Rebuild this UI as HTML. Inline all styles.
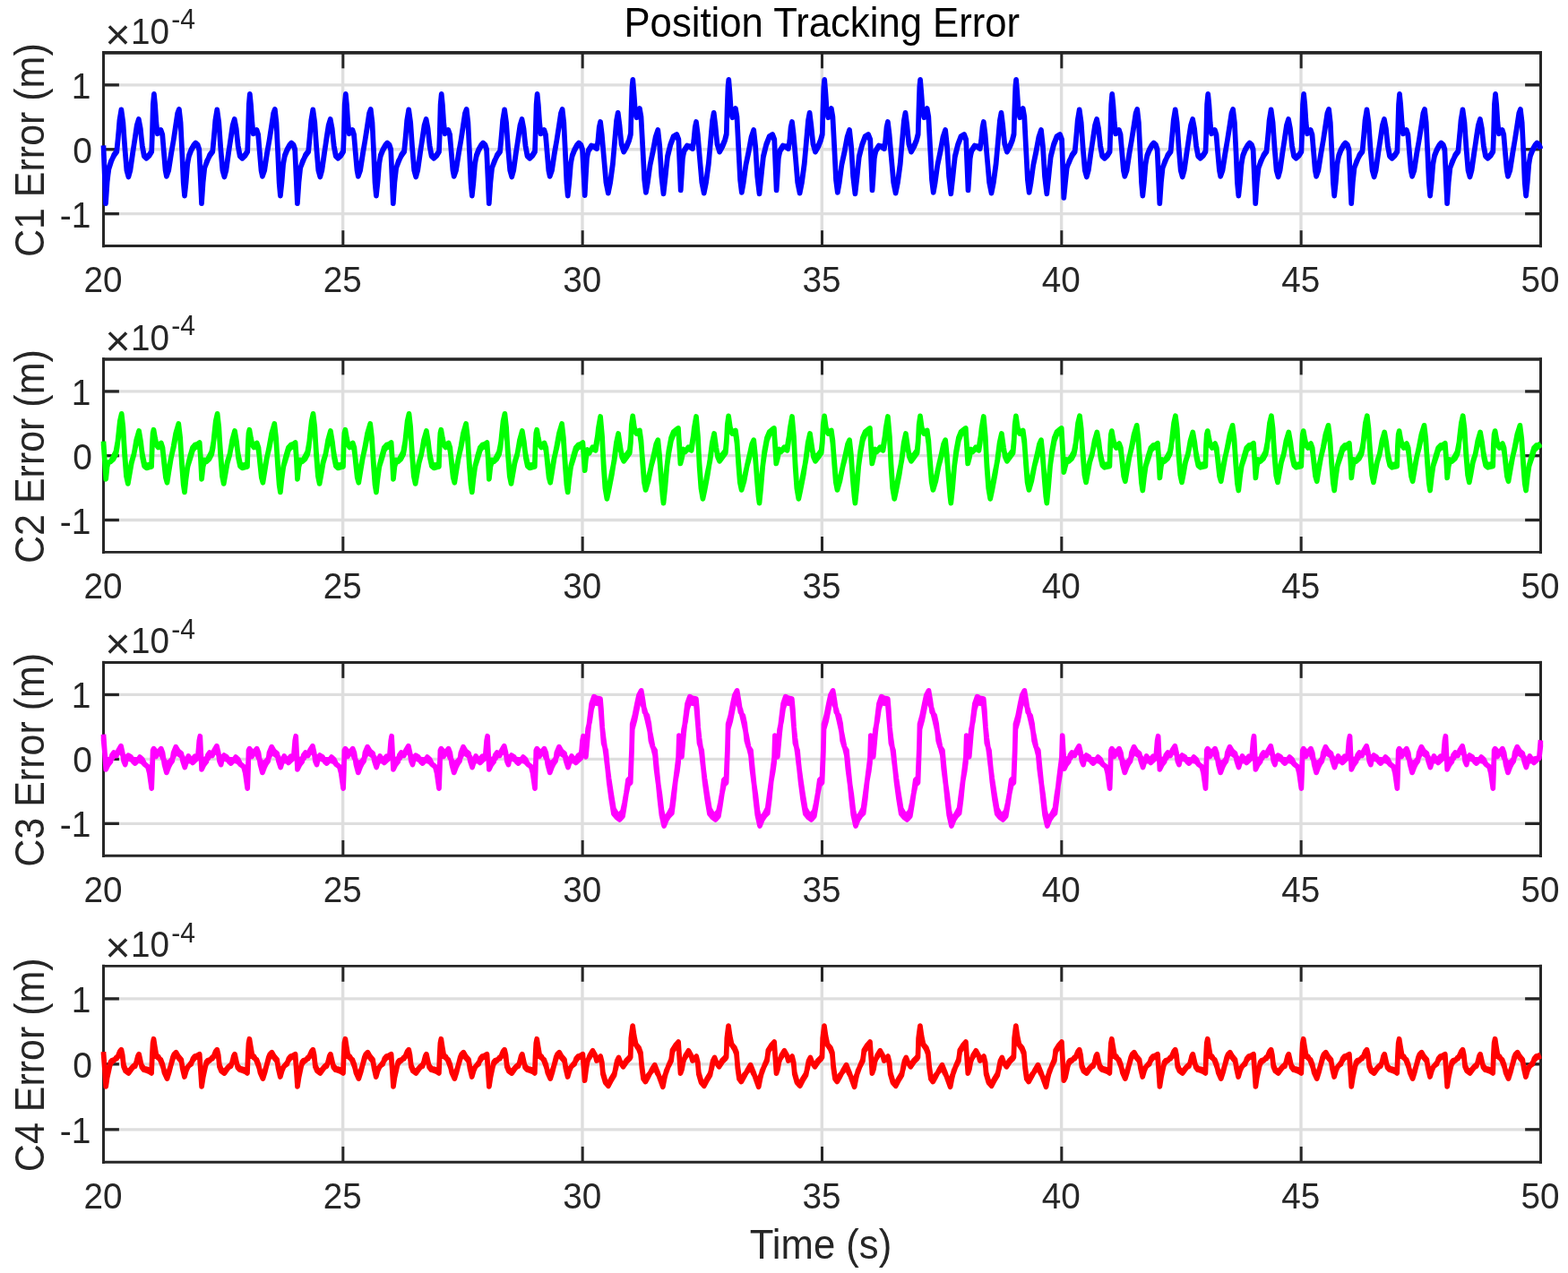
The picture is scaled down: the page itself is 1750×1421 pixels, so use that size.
<!DOCTYPE html>
<html><head><meta charset="utf-8"><title>Position Tracking Error</title>
<style>html,body{margin:0;padding:0;background:#fff}svg{display:block}text{font-family:"Liberation Sans",sans-serif;fill:#262626}</style></head><body>
<svg width="1750" height="1421" viewBox="0 0 1750 1421">
<rect width="1750" height="1421" fill="#fff"/>
<g>
<line x1="382.63" y1="58.90" x2="382.63" y2="274.60" stroke="#dedede" stroke-width="3.40"/>
<line x1="649.97" y1="58.90" x2="649.97" y2="274.60" stroke="#dedede" stroke-width="3.40"/>
<line x1="917.30" y1="58.90" x2="917.30" y2="274.60" stroke="#dedede" stroke-width="3.40"/>
<line x1="1184.63" y1="58.90" x2="1184.63" y2="274.60" stroke="#dedede" stroke-width="3.40"/>
<line x1="1451.97" y1="58.90" x2="1451.97" y2="274.60" stroke="#dedede" stroke-width="3.40"/>
<line x1="115.50" y1="94.85" x2="1719.50" y2="94.85" stroke="#dedede" stroke-width="3.30"/>
<line x1="115.50" y1="166.75" x2="1719.50" y2="166.75" stroke="#dedede" stroke-width="3.30"/>
<line x1="115.50" y1="238.65" x2="1719.50" y2="238.65" stroke="#dedede" stroke-width="3.30"/>
<line x1="382.83" y1="274.60" x2="382.83" y2="257.20" stroke="#262626" stroke-width="3.00"/>
<line x1="382.83" y1="58.90" x2="382.83" y2="76.30" stroke="#262626" stroke-width="3.00"/>
<line x1="650.17" y1="274.60" x2="650.17" y2="257.20" stroke="#262626" stroke-width="3.00"/>
<line x1="650.17" y1="58.90" x2="650.17" y2="76.30" stroke="#262626" stroke-width="3.00"/>
<line x1="917.50" y1="274.60" x2="917.50" y2="257.20" stroke="#262626" stroke-width="3.00"/>
<line x1="917.50" y1="58.90" x2="917.50" y2="76.30" stroke="#262626" stroke-width="3.00"/>
<line x1="1184.83" y1="274.60" x2="1184.83" y2="257.20" stroke="#262626" stroke-width="3.00"/>
<line x1="1184.83" y1="58.90" x2="1184.83" y2="76.30" stroke="#262626" stroke-width="3.00"/>
<line x1="1452.17" y1="274.60" x2="1452.17" y2="257.20" stroke="#262626" stroke-width="3.00"/>
<line x1="1452.17" y1="58.90" x2="1452.17" y2="76.30" stroke="#262626" stroke-width="3.00"/>
<line x1="115.50" y1="94.85" x2="132.90" y2="94.85" stroke="#262626" stroke-width="3.30"/>
<line x1="1719.50" y1="94.85" x2="1702.10" y2="94.85" stroke="#262626" stroke-width="3.30"/>
<line x1="115.50" y1="166.75" x2="132.90" y2="166.75" stroke="#262626" stroke-width="3.30"/>
<line x1="1719.50" y1="166.75" x2="1702.10" y2="166.75" stroke="#262626" stroke-width="3.30"/>
<line x1="115.50" y1="238.65" x2="132.90" y2="238.65" stroke="#262626" stroke-width="3.30"/>
<line x1="1719.50" y1="238.65" x2="1702.10" y2="238.65" stroke="#262626" stroke-width="3.30"/>
<line x1="114.00" y1="58.90" x2="1721.00" y2="58.90" stroke="#262626" stroke-width="3.80"/>
<line x1="114.00" y1="274.60" x2="1721.00" y2="274.60" stroke="#262626" stroke-width="3.00"/>
<line x1="115.50" y1="57.25" x2="115.50" y2="276.25" stroke="#262626" stroke-width="3.00"/>
<line x1="1719.50" y1="57.25" x2="1719.50" y2="276.25" stroke="#262626" stroke-width="3.00"/>
<path d="M115.5 162.3 L118.0 227.2 L119.6 203.7 L121.4 187.7 L124.0 179.6 L127.4 173.6 L130.3 169.6 L131.7 155.6 L133.4 134.2 L135.4 122.3 L137.4 136.9 L139.4 166.3 L141.4 190.3 L143.4 197.5 L145.4 190.3 L148.1 171.6 L150.8 152.9 L152.8 139.5 L154.8 133.0 L156.8 143.5 L158.8 163.6 L160.8 174.3 L163.5 176.8 L166.8 173.6 L169.2 169.6 L169.9 150.2 L170.8 116.8 L171.9 104.9 L173.1 116.8 L174.4 136.9 L175.8 149.4 L177.5 147.6 L179.5 145.0 L181.3 150.2 L182.9 170.3 L184.6 190.3 L185.9 196.9 L188.2 190.3 L190.9 173.0 L193.6 156.9 L196.2 139.5 L198.2 126.2 L199.9 121.9 L201.6 136.9 L203.2 170.3 L204.7 203.7 L206.0 218.6 L207.6 203.7 L209.2 183.7 L211.0 173.0 L213.6 166.3 L216.3 161.6 L218.3 159.4 L220.7 161.6 L222.3 166.3 L225.0 227.2 L226.6 203.7 L228.3 187.7 L231.0 179.6 L234.3 173.6 L237.3 169.6 L238.6 155.6 L240.3 134.2 L242.3 122.3 L244.3 136.9 L246.3 166.3 L248.4 190.3 L250.4 197.5 L252.4 190.3 L255.0 171.6 L257.7 152.9 L259.7 139.5 L261.7 133.0 L263.7 143.5 L265.7 163.6 L267.7 174.3 L270.4 176.8 L273.8 173.6 L276.2 169.6 L276.8 150.2 L277.8 116.8 L278.8 104.9 L280.0 116.8 L281.4 136.9 L282.7 149.4 L284.5 147.6 L286.5 145.0 L288.2 150.2 L289.8 170.3 L291.5 190.3 L292.9 196.9 L295.2 190.3 L297.8 173.0 L300.5 156.9 L303.2 139.5 L305.2 126.2 L306.8 121.9 L308.5 136.9 L310.1 170.3 L311.6 203.7 L312.9 218.6 L314.5 203.7 L316.1 183.7 L317.9 173.0 L320.6 166.3 L323.2 161.6 L325.2 159.4 L327.6 161.6 L329.2 166.3 L331.9 227.2 L333.5 203.7 L335.2 187.7 L337.9 179.6 L341.2 173.6 L344.2 169.6 L345.5 155.6 L347.3 134.2 L349.3 122.3 L351.3 136.9 L353.3 166.3 L355.3 190.3 L357.3 197.5 L359.3 190.3 L362.0 171.6 L364.6 152.9 L366.7 139.5 L368.7 133.0 L370.7 143.5 L372.7 163.6 L374.7 174.3 L377.4 176.8 L380.7 173.6 L383.1 169.6 L383.8 150.2 L384.7 116.8 L385.8 104.9 L387.0 116.8 L388.3 136.9 L389.7 149.4 L391.4 147.6 L393.4 145.0 L395.1 150.2 L396.7 170.3 L398.5 190.3 L399.8 196.9 L402.1 190.3 L404.8 173.0 L407.4 156.9 L410.1 139.5 L412.1 126.2 L413.7 121.9 L415.5 136.9 L417.1 170.3 L418.5 203.7 L419.9 218.6 L421.5 203.7 L423.1 183.7 L424.8 173.0 L427.5 166.3 L430.2 161.6 L432.2 159.4 L434.6 161.6 L436.2 166.3 L438.8 227.2 L440.4 203.7 L442.2 187.7 L444.8 179.6 L448.2 173.6 L451.1 169.6 L452.5 155.6 L454.2 134.2 L456.2 122.3 L458.2 136.9 L460.2 166.3 L462.2 190.3 L464.2 197.5 L466.2 190.3 L468.9 171.6 L471.6 152.9 L473.6 139.5 L475.6 133.0 L477.6 143.5 L479.6 163.6 L481.6 174.3 L484.3 176.8 L487.6 173.6 L490.0 169.6 L490.7 150.2 L491.6 116.8 L492.7 104.9 L493.9 116.8 L495.2 136.9 L496.6 149.4 L498.3 147.6 L500.3 145.0 L502.1 150.2 L503.7 170.3 L505.4 190.3 L506.7 196.9 L509.0 190.3 L511.7 173.0 L514.4 156.9 L517.0 139.5 L519.0 126.2 L520.7 121.9 L522.4 136.9 L524.0 170.3 L525.5 203.7 L526.8 218.6 L528.4 203.7 L530.0 183.7 L531.8 173.0 L534.4 166.3 L537.1 161.6 L539.1 159.4 L541.5 161.6 L543.1 166.3 L545.8 227.2 L547.4 203.7 L549.1 187.7 L551.8 179.6 L555.1 173.6 L558.1 169.6 L559.4 155.6 L561.1 134.2 L563.1 122.3 L565.1 136.9 L567.1 166.3 L569.2 190.3 L571.2 197.5 L573.2 190.3 L575.8 171.6 L578.5 152.9 L580.5 139.5 L582.5 133.0 L584.5 143.5 L586.5 163.6 L588.5 174.3 L591.2 176.8 L594.6 173.6 L597.0 169.6 L597.6 150.2 L598.6 116.8 L599.6 104.9 L600.8 116.8 L602.2 136.9 L603.5 149.4 L605.3 147.6 L607.3 145.0 L609.0 150.2 L610.6 170.3 L612.3 190.3 L613.7 196.9 L616.0 190.3 L618.6 173.0 L621.3 156.9 L624.0 139.5 L626.0 126.2 L627.6 121.9 L629.3 136.9 L630.9 170.3 L632.4 203.7 L633.7 218.6 L635.3 203.7 L636.9 183.7 L638.7 173.0 L641.4 166.3 L644.0 161.6 L646.0 159.4 L648.4 161.6 L650.0 166.3 L652.7 218.2 L653.8 197.0 L655.0 177.0 L656.7 167.6 L660.1 162.4 L663.4 164.3 L666.1 166.1 L667.4 156.9 L668.7 142.2 L670.1 136.0 L671.8 150.2 L674.1 177.0 L676.4 203.7 L678.8 215.6 L681.2 203.7 L683.9 183.7 L686.1 156.9 L688.1 134.2 L689.7 125.9 L691.5 139.5 L693.5 160.9 L696.2 169.7 L699.5 163.6 L702.2 156.9 L703.9 150.2 L704.6 123.5 L705.5 96.7 L706.3 88.9 L707.5 103.4 L708.9 123.5 L710.5 131.3 L712.2 123.5 L713.9 121.0 L715.5 130.2 L717.3 163.6 L719.2 201.0 L720.9 214.9 L722.9 203.7 L725.6 183.7 L728.9 167.6 L731.6 152.9 L734.3 145.0 L736.3 163.6 L738.3 197.0 L740.5 216.5 L742.7 197.0 L745.0 174.3 L748.3 160.9 L751.6 152.2 L755.3 150.0 L757.4 155.6 L759.7 212.5 L760.7 197.0 L761.9 177.0 L763.6 167.6 L767.0 162.4 L770.3 164.3 L773.0 166.1 L774.3 156.9 L775.7 142.2 L777.0 136.0 L778.8 150.2 L781.0 177.0 L783.3 203.7 L785.7 215.6 L788.1 203.7 L790.8 183.7 L793.1 156.9 L795.1 134.2 L796.7 125.9 L798.4 139.5 L800.4 160.9 L803.1 169.7 L806.4 163.6 L809.1 156.9 L810.8 150.2 L811.5 123.5 L812.5 96.7 L813.3 88.9 L814.5 103.4 L815.8 123.5 L817.4 131.3 L819.1 123.5 L820.9 121.0 L822.5 130.2 L824.2 163.6 L826.1 201.0 L827.8 214.9 L829.8 203.7 L832.5 183.7 L835.8 167.6 L838.5 152.9 L841.2 145.0 L843.2 163.6 L845.2 197.0 L847.5 216.5 L849.6 197.0 L851.9 174.3 L855.2 160.9 L858.6 152.2 L862.2 150.0 L864.3 155.6 L866.6 212.5 L867.6 197.0 L868.8 177.0 L870.6 167.6 L873.9 162.4 L877.3 164.3 L879.9 166.1 L881.3 156.9 L882.6 142.2 L884.0 136.0 L885.7 150.2 L888.0 177.0 L890.2 203.7 L892.6 215.6 L895.0 203.7 L897.7 183.7 L900.0 156.9 L902.0 134.2 L903.6 125.9 L905.3 139.5 L907.4 160.9 L910.0 169.7 L913.4 163.6 L916.0 156.9 L917.8 150.2 L918.4 123.5 L919.4 96.7 L920.2 88.9 L921.4 103.4 L922.7 123.5 L924.3 131.3 L926.1 123.5 L927.8 121.0 L929.4 130.2 L931.2 163.6 L933.0 201.0 L934.8 214.9 L936.8 203.7 L939.4 183.7 L942.8 167.6 L945.5 152.9 L948.1 145.0 L950.1 163.6 L952.1 197.0 L954.4 216.5 L956.6 197.0 L958.8 174.3 L962.2 160.9 L965.5 152.2 L969.1 150.0 L971.3 155.6 L973.5 212.5 L974.6 197.0 L975.8 177.0 L977.5 167.6 L980.9 162.4 L984.2 164.3 L986.9 166.1 L988.2 156.9 L989.5 142.2 L990.9 136.0 L992.6 150.2 L994.9 177.0 L997.2 203.7 L999.6 215.6 L1002.0 203.7 L1004.7 183.7 L1006.9 156.9 L1008.9 134.2 L1010.5 125.9 L1012.3 139.5 L1014.3 160.9 L1017.0 169.7 L1020.3 163.6 L1023.0 156.9 L1024.7 150.2 L1025.4 123.5 L1026.3 96.7 L1027.1 88.9 L1028.3 103.4 L1029.7 123.5 L1031.3 131.3 L1033.0 123.5 L1034.7 121.0 L1036.3 130.2 L1038.1 163.6 L1040.0 201.0 L1041.7 214.9 L1043.7 203.7 L1046.4 183.7 L1049.7 167.6 L1052.4 152.9 L1055.1 145.0 L1057.1 163.6 L1059.1 197.0 L1061.3 216.5 L1063.5 197.0 L1065.8 174.3 L1069.1 160.9 L1072.4 152.2 L1076.1 150.0 L1078.2 155.6 L1080.5 212.5 L1081.5 197.0 L1082.7 177.0 L1084.4 167.6 L1087.8 162.4 L1091.1 164.3 L1093.8 166.1 L1095.1 156.9 L1096.5 142.2 L1097.8 136.0 L1099.6 150.2 L1101.8 177.0 L1104.1 203.7 L1106.5 215.6 L1108.9 203.7 L1111.6 183.7 L1113.9 156.9 L1115.9 134.2 L1117.5 125.9 L1119.2 139.5 L1121.2 160.9 L1123.9 169.7 L1127.2 163.6 L1129.9 156.9 L1131.6 150.2 L1132.3 123.5 L1133.3 96.7 L1134.1 88.9 L1135.3 103.4 L1136.6 123.5 L1138.2 131.3 L1139.9 123.5 L1141.7 121.0 L1143.3 130.2 L1145.0 163.6 L1146.9 201.0 L1148.6 214.9 L1150.6 203.7 L1153.3 183.7 L1156.6 167.6 L1159.3 152.9 L1162.0 145.0 L1164.0 163.6 L1166.0 197.0 L1168.3 216.5 L1170.4 197.0 L1172.7 174.3 L1176.0 160.9 L1179.4 152.2 L1183.0 150.0 L1185.1 155.6 L1187.3 220.9 L1189.0 203.7 L1190.7 187.7 L1193.4 179.6 L1196.7 173.6 L1199.7 169.6 L1201.0 155.6 L1202.7 134.2 L1204.7 122.3 L1206.7 136.9 L1208.7 166.3 L1210.8 190.3 L1212.8 197.5 L1214.8 190.3 L1217.4 171.6 L1220.1 152.9 L1222.1 139.5 L1224.1 133.0 L1226.1 143.5 L1228.1 163.6 L1230.1 174.3 L1232.8 176.8 L1236.2 173.6 L1238.6 169.6 L1239.2 150.2 L1240.2 116.8 L1241.2 104.9 L1242.4 116.8 L1243.8 136.9 L1245.1 149.4 L1246.9 147.6 L1248.9 145.0 L1250.6 150.2 L1252.2 170.3 L1253.9 190.3 L1255.3 196.9 L1257.6 190.3 L1260.2 173.0 L1262.9 156.9 L1265.6 139.5 L1267.6 126.2 L1269.2 121.9 L1270.9 136.9 L1272.5 170.3 L1274.0 203.7 L1275.3 218.6 L1276.9 203.7 L1278.5 183.7 L1280.3 173.0 L1283.0 166.3 L1285.6 161.6 L1287.6 159.4 L1290.0 161.6 L1291.6 166.3 L1294.3 227.2 L1295.9 203.7 L1297.6 187.7 L1300.3 179.6 L1303.6 173.6 L1306.6 169.6 L1307.9 155.6 L1309.7 134.2 L1311.7 122.3 L1313.7 136.9 L1315.7 166.3 L1317.7 190.3 L1319.7 197.5 L1321.7 190.3 L1324.4 171.6 L1327.0 152.9 L1329.1 139.5 L1331.1 133.0 L1333.1 143.5 L1335.1 163.6 L1337.1 174.3 L1339.8 176.8 L1343.1 173.6 L1345.5 169.6 L1346.2 150.2 L1347.1 116.8 L1348.2 104.9 L1349.4 116.8 L1350.7 136.9 L1352.1 149.4 L1353.8 147.6 L1355.8 145.0 L1357.5 150.2 L1359.1 170.3 L1360.9 190.3 L1362.2 196.9 L1364.5 190.3 L1367.2 173.0 L1369.8 156.9 L1372.5 139.5 L1374.5 126.2 L1376.1 121.9 L1377.9 136.9 L1379.5 170.3 L1380.9 203.7 L1382.3 218.6 L1383.9 203.7 L1385.5 183.7 L1387.2 173.0 L1389.9 166.3 L1392.6 161.6 L1394.6 159.4 L1397.0 161.6 L1398.6 166.3 L1401.2 227.2 L1402.8 203.7 L1404.6 187.7 L1407.2 179.6 L1410.6 173.6 L1413.5 169.6 L1414.9 155.6 L1416.6 134.2 L1418.6 122.3 L1420.6 136.9 L1422.6 166.3 L1424.6 190.3 L1426.6 197.5 L1428.6 190.3 L1431.3 171.6 L1434.0 152.9 L1436.0 139.5 L1438.0 133.0 L1440.0 143.5 L1442.0 163.6 L1444.0 174.3 L1446.7 176.8 L1450.0 173.6 L1452.4 169.6 L1453.1 150.2 L1454.0 116.8 L1455.1 104.9 L1456.3 116.8 L1457.6 136.9 L1459.0 149.4 L1460.7 147.6 L1462.7 145.0 L1464.5 150.2 L1466.1 170.3 L1467.8 190.3 L1469.1 196.9 L1471.4 190.3 L1474.1 173.0 L1476.8 156.9 L1479.4 139.5 L1481.4 126.2 L1483.1 121.9 L1484.8 136.9 L1486.4 170.3 L1487.9 203.7 L1489.2 218.6 L1490.8 203.7 L1492.4 183.7 L1494.2 173.0 L1496.8 166.3 L1499.5 161.6 L1501.5 159.4 L1503.9 161.6 L1505.5 166.3 L1508.2 227.2 L1509.8 203.7 L1511.5 187.7 L1514.2 179.6 L1517.5 173.6 L1520.5 169.6 L1521.8 155.6 L1523.5 134.2 L1525.5 122.3 L1527.5 136.9 L1529.5 166.3 L1531.6 190.3 L1533.6 197.5 L1535.6 190.3 L1538.2 171.6 L1540.9 152.9 L1542.9 139.5 L1544.9 133.0 L1546.9 143.5 L1548.9 163.6 L1550.9 174.3 L1553.6 176.8 L1557.0 173.6 L1559.4 169.6 L1560.0 150.2 L1561.0 116.8 L1562.0 104.9 L1563.2 116.8 L1564.6 136.9 L1565.9 149.4 L1567.7 147.6 L1569.7 145.0 L1571.4 150.2 L1573.0 170.3 L1574.7 190.3 L1576.1 196.9 L1578.4 190.3 L1581.0 173.0 L1583.7 156.9 L1586.4 139.5 L1588.4 126.2 L1590.0 121.9 L1591.7 136.9 L1593.3 170.3 L1594.8 203.7 L1596.1 218.6 L1597.7 203.7 L1599.3 183.7 L1601.1 173.0 L1603.8 166.3 L1606.4 161.6 L1608.4 159.4 L1610.8 161.6 L1612.4 166.3 L1615.1 227.2 L1616.7 203.7 L1618.4 187.7 L1621.1 179.6 L1624.4 173.6 L1627.4 169.6 L1628.7 155.6 L1630.5 134.2 L1632.5 122.3 L1634.5 136.9 L1636.5 166.3 L1638.5 190.3 L1640.5 197.5 L1642.5 190.3 L1645.2 171.6 L1647.8 152.9 L1649.9 139.5 L1651.9 133.0 L1653.9 143.5 L1655.9 163.6 L1657.9 174.3 L1660.6 176.8 L1663.9 173.6 L1666.3 169.6 L1667.0 150.2 L1667.9 116.8 L1669.0 104.9 L1670.2 116.8 L1671.5 136.9 L1672.9 149.4 L1674.6 147.6 L1676.6 145.0 L1678.3 150.2 L1679.9 170.3 L1681.7 190.3 L1683.0 196.9 L1685.3 190.3 L1688.0 173.0 L1690.6 156.9 L1693.3 139.5 L1695.3 126.2 L1696.9 121.9 L1698.7 136.9 L1700.3 170.3 L1701.7 203.7 L1703.1 218.6 L1704.7 203.7 L1706.3 183.7 L1708.0 173.0 L1710.7 166.3 L1713.4 161.6 L1715.4 159.4 L1717.8 161.6 L1719.4 166.3 M115.5 162.9 L118.0 226.6 L119.6 203.1 L121.4 188.2 L124.0 180.2 L127.4 173.0 L130.3 169.0 L131.7 155.0 L133.4 134.8 L135.4 122.9 L137.4 137.5 L139.4 165.7 L141.4 189.7 L143.4 196.9 L145.4 189.7 L148.1 171.0 L150.8 153.5 L152.8 140.1 L154.8 133.6 L156.8 144.1 L158.8 163.0 L160.8 173.7 L163.5 176.2 L166.8 173.0 L169.2 169.0 L169.9 150.6 L170.8 117.4 L171.9 105.5 L173.1 117.4 L174.4 137.5 L175.8 148.8 L177.5 147.0 L179.5 145.6 L181.3 150.8 L182.9 169.8 L184.6 189.7 L185.9 196.3 L188.2 189.7 L190.9 172.4 L193.6 156.9 L196.2 140.1 L198.2 126.8 L199.9 122.5 L201.6 137.5 L203.2 169.7 L204.7 203.1 L206.0 218.0 L207.6 203.1 L209.2 183.1 L211.0 173.6 L213.6 166.9 L216.3 162.2 L218.3 160.0 L220.7 162.2 L222.3 166.9 L225.0 226.6 L226.6 203.1 L228.3 187.6 L231.0 180.2 L234.3 173.0 L237.3 169.0 L238.6 155.0 L240.3 134.8 L242.3 122.9 L244.3 137.5 L246.3 165.7 L248.4 189.7 L250.4 196.9 L252.4 189.7 L255.0 171.0 L257.7 153.5 L259.7 140.1 L261.7 133.6 L263.7 144.1 L265.7 163.0 L267.7 173.7 L270.4 176.2 L273.8 173.0 L276.2 169.0 L276.8 150.6 L277.8 117.4 L278.8 105.5 L280.0 117.4 L281.4 137.5 L282.7 148.8 L284.5 147.0 L286.5 145.6 L288.2 150.8 L289.8 169.8 L291.5 189.7 L292.9 196.3 L295.2 189.7 L297.8 172.4 L300.5 156.9 L303.2 140.1 L305.2 126.8 L306.8 122.5 L308.5 137.5 L310.1 169.7 L311.6 203.1 L312.9 218.0 L314.5 203.1 L316.1 183.1 L317.9 173.6 L320.6 166.9 L323.2 162.2 L325.2 160.0 L327.6 162.2 L329.2 166.9 L331.9 226.6 L333.5 203.1 L335.2 187.6 L337.9 180.2 L341.2 173.0 L344.2 169.0 L345.5 155.0 L347.3 134.8 L349.3 122.9 L351.3 137.5 L353.3 165.7 L355.3 189.7 L357.3 196.9 L359.3 189.7 L362.0 171.0 L364.6 153.5 L366.7 140.1 L368.7 133.6 L370.7 144.1 L372.7 163.0 L374.7 173.7 L377.4 176.2 L380.7 173.0 L383.1 169.0 L383.8 150.6 L384.7 117.4 L385.8 105.5 L387.0 117.4 L388.3 137.5 L389.7 148.8 L391.4 147.0 L393.4 145.6 L395.1 150.8 L396.7 169.8 L398.5 189.7 L399.8 196.3 L402.1 189.7 L404.8 172.4 L407.4 156.9 L410.1 140.1 L412.1 126.8 L413.7 122.5 L415.5 137.5 L417.1 169.7 L418.5 203.1 L419.9 218.0 L421.5 203.1 L423.1 183.1 L424.8 173.6 L427.5 166.9 L430.2 162.2 L432.2 160.0 L434.6 162.2 L436.2 166.9 L438.8 226.6 L440.4 203.1 L442.2 187.6 L444.8 180.2 L448.2 173.0 L451.1 169.0 L452.5 155.0 L454.2 134.8 L456.2 122.9 L458.2 137.5 L460.2 165.7 L462.2 189.7 L464.2 196.9 L466.2 189.7 L468.9 171.0 L471.6 153.5 L473.6 140.1 L475.6 133.6 L477.6 144.1 L479.6 163.0 L481.6 173.7 L484.3 176.2 L487.6 173.0 L490.0 169.0 L490.7 150.6 L491.6 117.4 L492.7 105.5 L493.9 117.4 L495.2 137.5 L496.6 148.8 L498.3 147.0 L500.3 145.6 L502.1 150.8 L503.7 169.8 L505.4 189.7 L506.7 196.3 L509.0 189.7 L511.7 172.4 L514.4 156.9 L517.0 140.1 L519.0 126.8 L520.7 122.5 L522.4 137.5 L524.0 169.7 L525.5 203.1 L526.8 218.0 L528.4 203.1 L530.0 183.1 L531.8 173.6 L534.4 166.9 L537.1 162.2 L539.1 160.0 L541.5 162.2 L543.1 166.9 L545.8 226.6 L547.4 203.1 L549.1 187.6 L551.8 180.2 L555.1 173.0 L558.1 169.0 L559.4 155.0 L561.1 134.8 L563.1 122.9 L565.1 137.5 L567.1 165.7 L569.2 189.7 L571.2 196.9 L573.2 189.7 L575.8 171.0 L578.5 153.5 L580.5 140.1 L582.5 133.6 L584.5 144.1 L586.5 163.0 L588.5 173.7 L591.2 176.2 L594.6 173.0 L597.0 169.0 L597.6 150.6 L598.6 117.4 L599.6 105.5 L600.8 117.4 L602.2 137.5 L603.5 148.8 L605.3 147.0 L607.3 145.6 L609.0 150.8 L610.6 169.8 L612.3 189.7 L613.7 196.3 L616.0 189.7 L618.6 172.4 L621.3 156.9 L624.0 140.1 L626.0 126.8 L627.6 122.5 L629.3 137.5 L630.9 169.7 L632.4 203.1 L633.7 218.0 L635.3 203.1 L636.9 183.1 L638.7 173.6 L641.4 166.9 L644.0 162.2 L646.0 160.0 L648.4 162.2 L650.0 166.9 L652.7 217.6 L653.8 196.4 L655.0 176.4 L656.7 168.2 L660.1 163.0 L663.4 163.7 L666.1 165.5 L667.4 157.3 L668.7 142.8 L670.1 136.6 L671.8 150.8 L674.1 177.1 L676.4 203.1 L678.8 215.0 L681.2 203.1 L683.9 183.1 L686.1 157.5 L688.1 134.8 L689.7 126.5 L691.5 140.1 L693.5 160.3 L696.2 169.1 L699.5 163.0 L702.2 156.3 L703.9 149.6 L704.6 124.1 L705.5 97.3 L706.3 89.5 L707.5 104.0 L708.9 123.7 L710.5 130.7 L712.2 124.1 L713.9 121.6 L715.5 130.8 L717.3 164.2 L719.2 200.4 L720.9 214.3 L722.9 203.1 L725.6 183.9 L728.9 168.2 L731.6 153.5 L734.3 145.6 L736.3 164.2 L738.3 196.4 L740.5 215.9 L742.7 196.4 L745.0 174.9 L748.3 161.5 L751.6 152.8 L755.3 150.6 L757.4 156.2 L759.7 211.9 L760.7 196.4 L761.9 176.4 L763.6 168.2 L767.0 163.0 L770.3 163.7 L773.0 165.5 L774.3 157.3 L775.7 142.8 L777.0 136.6 L778.8 150.8 L781.0 177.1 L783.3 203.1 L785.7 215.0 L788.1 203.1 L790.8 183.1 L793.1 157.5 L795.1 134.8 L796.7 126.5 L798.4 140.1 L800.4 160.3 L803.1 169.1 L806.4 163.0 L809.1 156.3 L810.8 149.6 L811.5 124.1 L812.5 97.3 L813.3 89.5 L814.5 104.0 L815.8 123.7 L817.4 130.7 L819.1 124.1 L820.9 121.6 L822.5 130.8 L824.2 164.2 L826.1 200.4 L827.8 214.3 L829.8 203.1 L832.5 183.9 L835.8 168.2 L838.5 153.5 L841.2 145.6 L843.2 164.2 L845.2 196.4 L847.5 215.9 L849.6 196.4 L851.9 174.9 L855.2 161.5 L858.6 152.8 L862.2 150.6 L864.3 156.2 L866.6 211.9 L867.6 196.4 L868.8 176.4 L870.6 168.2 L873.9 163.0 L877.3 163.7 L879.9 165.5 L881.3 157.3 L882.6 142.8 L884.0 136.6 L885.7 150.8 L888.0 177.1 L890.2 203.1 L892.6 215.0 L895.0 203.1 L897.7 183.1 L900.0 157.5 L902.0 134.8 L903.6 126.5 L905.3 140.1 L907.4 160.3 L910.0 169.1 L913.4 163.0 L916.0 156.3 L917.8 149.6 L918.4 124.1 L919.4 97.3 L920.2 89.5 L921.4 104.0 L922.7 123.7 L924.3 130.7 L926.1 124.1 L927.8 121.6 L929.4 130.8 L931.2 164.2 L933.0 200.4 L934.8 214.3 L936.8 203.1 L939.4 183.9 L942.8 168.2 L945.5 153.5 L948.1 145.6 L950.1 164.2 L952.1 196.4 L954.4 215.9 L956.6 196.4 L958.8 174.9 L962.2 161.5 L965.5 152.8 L969.1 150.6 L971.3 156.2 L973.5 211.9 L974.6 196.4 L975.8 176.4 L977.5 168.2 L980.9 163.0 L984.2 163.7 L986.9 165.5 L988.2 157.3 L989.5 142.8 L990.9 136.6 L992.6 150.8 L994.9 177.1 L997.2 203.1 L999.6 215.0 L1002.0 203.1 L1004.7 183.1 L1006.9 157.5 L1008.9 134.8 L1010.5 126.5 L1012.3 140.1 L1014.3 160.3 L1017.0 169.1 L1020.3 163.0 L1023.0 156.3 L1024.7 149.6 L1025.4 124.1 L1026.3 97.3 L1027.1 89.5 L1028.3 104.0 L1029.7 123.7 L1031.3 130.7 L1033.0 124.1 L1034.7 121.6 L1036.3 130.8 L1038.1 164.2 L1040.0 200.4 L1041.7 214.3 L1043.7 203.1 L1046.4 183.9 L1049.7 168.2 L1052.4 153.5 L1055.1 145.6 L1057.1 164.2 L1059.1 196.4 L1061.3 215.9 L1063.5 196.4 L1065.8 174.9 L1069.1 161.5 L1072.4 152.8 L1076.1 150.6 L1078.2 156.2 L1080.5 211.9 L1081.5 196.4 L1082.7 176.4 L1084.4 168.2 L1087.8 163.0 L1091.1 163.7 L1093.8 165.5 L1095.1 157.3 L1096.5 142.8 L1097.8 136.6 L1099.6 150.8 L1101.8 177.1 L1104.1 203.1 L1106.5 215.0 L1108.9 203.1 L1111.6 183.1 L1113.9 157.5 L1115.9 134.8 L1117.5 126.5 L1119.2 140.1 L1121.2 160.3 L1123.9 169.1 L1127.2 163.0 L1129.9 156.3 L1131.6 149.6 L1132.3 124.1 L1133.3 97.3 L1134.1 89.5 L1135.3 104.0 L1136.6 123.7 L1138.2 130.7 L1139.9 124.1 L1141.7 121.6 L1143.3 130.8 L1145.0 164.2 L1146.9 200.4 L1148.6 214.3 L1150.6 203.1 L1153.3 183.9 L1156.6 168.2 L1159.3 153.5 L1162.0 145.6 L1164.0 164.2 L1166.0 196.4 L1168.3 215.9 L1170.4 196.4 L1172.7 174.9 L1176.0 161.5 L1179.4 152.8 L1183.0 150.6 L1185.1 156.2 L1187.3 220.3 L1189.0 203.1 L1190.7 187.1 L1193.4 180.2 L1196.7 173.0 L1199.7 169.0 L1201.0 155.0 L1202.7 134.8 L1204.7 122.9 L1206.7 137.5 L1208.7 165.7 L1210.8 189.7 L1212.8 196.9 L1214.8 189.7 L1217.4 171.0 L1220.1 153.5 L1222.1 140.1 L1224.1 133.6 L1226.1 144.1 L1228.1 163.0 L1230.1 173.7 L1232.8 176.2 L1236.2 173.0 L1238.6 169.0 L1239.2 150.6 L1240.2 117.4 L1241.2 105.5 L1242.4 117.4 L1243.8 137.5 L1245.1 148.8 L1246.9 147.0 L1248.9 145.6 L1250.6 150.8 L1252.2 169.8 L1253.9 189.7 L1255.3 196.3 L1257.6 189.7 L1260.2 172.4 L1262.9 156.9 L1265.6 140.1 L1267.6 126.8 L1269.2 122.5 L1270.9 137.5 L1272.5 169.7 L1274.0 203.1 L1275.3 218.0 L1276.9 203.1 L1278.5 183.1 L1280.3 173.6 L1283.0 166.9 L1285.6 162.2 L1287.6 160.0 L1290.0 162.2 L1291.6 166.9 L1294.3 226.6 L1295.9 203.1 L1297.6 187.6 L1300.3 180.2 L1303.6 173.0 L1306.6 169.0 L1307.9 155.0 L1309.7 134.8 L1311.7 122.9 L1313.7 137.5 L1315.7 165.7 L1317.7 189.7 L1319.7 196.9 L1321.7 189.7 L1324.4 171.0 L1327.0 153.5 L1329.1 140.1 L1331.1 133.6 L1333.1 144.1 L1335.1 163.0 L1337.1 173.7 L1339.8 176.2 L1343.1 173.0 L1345.5 169.0 L1346.2 150.6 L1347.1 117.4 L1348.2 105.5 L1349.4 117.4 L1350.7 137.5 L1352.1 148.8 L1353.8 147.0 L1355.8 145.6 L1357.5 150.8 L1359.1 169.8 L1360.9 189.7 L1362.2 196.3 L1364.5 189.7 L1367.2 172.4 L1369.8 156.9 L1372.5 140.1 L1374.5 126.8 L1376.1 122.5 L1377.9 137.5 L1379.5 169.7 L1380.9 203.1 L1382.3 218.0 L1383.9 203.1 L1385.5 183.1 L1387.2 173.6 L1389.9 166.9 L1392.6 162.2 L1394.6 160.0 L1397.0 162.2 L1398.6 166.9 L1401.2 226.6 L1402.8 203.1 L1404.6 187.6 L1407.2 180.2 L1410.6 173.0 L1413.5 169.0 L1414.9 155.0 L1416.6 134.8 L1418.6 122.9 L1420.6 137.5 L1422.6 165.7 L1424.6 189.7 L1426.6 196.9 L1428.6 189.7 L1431.3 171.0 L1434.0 153.5 L1436.0 140.1 L1438.0 133.6 L1440.0 144.1 L1442.0 163.0 L1444.0 173.7 L1446.7 176.2 L1450.0 173.0 L1452.4 169.0 L1453.1 150.6 L1454.0 117.4 L1455.1 105.5 L1456.3 117.4 L1457.6 137.5 L1459.0 148.8 L1460.7 147.0 L1462.7 145.6 L1464.5 150.8 L1466.1 169.8 L1467.8 189.7 L1469.1 196.3 L1471.4 189.7 L1474.1 172.4 L1476.8 156.9 L1479.4 140.1 L1481.4 126.8 L1483.1 122.5 L1484.8 137.5 L1486.4 169.7 L1487.9 203.1 L1489.2 218.0 L1490.8 203.1 L1492.4 183.1 L1494.2 173.6 L1496.8 166.9 L1499.5 162.2 L1501.5 160.0 L1503.9 162.2 L1505.5 166.9 L1508.2 226.6 L1509.8 203.1 L1511.5 187.6 L1514.2 180.2 L1517.5 173.0 L1520.5 169.0 L1521.8 155.0 L1523.5 134.8 L1525.5 122.9 L1527.5 137.5 L1529.5 165.7 L1531.6 189.7 L1533.6 196.9 L1535.6 189.7 L1538.2 171.0 L1540.9 153.5 L1542.9 140.1 L1544.9 133.6 L1546.9 144.1 L1548.9 163.0 L1550.9 173.7 L1553.6 176.2 L1557.0 173.0 L1559.4 169.0 L1560.0 150.6 L1561.0 117.4 L1562.0 105.5 L1563.2 117.4 L1564.6 137.5 L1565.9 148.8 L1567.7 147.0 L1569.7 145.6 L1571.4 150.8 L1573.0 169.8 L1574.7 189.7 L1576.1 196.3 L1578.4 189.7 L1581.0 172.4 L1583.7 156.9 L1586.4 140.1 L1588.4 126.8 L1590.0 122.5 L1591.7 137.5 L1593.3 169.7 L1594.8 203.1 L1596.1 218.0 L1597.7 203.1 L1599.3 183.1 L1601.1 173.6 L1603.8 166.9 L1606.4 162.2 L1608.4 160.0 L1610.8 162.2 L1612.4 166.9 L1615.1 226.6 L1616.7 203.1 L1618.4 187.6 L1621.1 180.2 L1624.4 173.0 L1627.4 169.0 L1628.7 155.0 L1630.5 134.8 L1632.5 122.9 L1634.5 137.5 L1636.5 165.7 L1638.5 189.7 L1640.5 196.9 L1642.5 189.7 L1645.2 171.0 L1647.8 153.5 L1649.9 140.1 L1651.9 133.6 L1653.9 144.1 L1655.9 163.0 L1657.9 173.7 L1660.6 176.2 L1663.9 173.0 L1666.3 169.0 L1667.0 150.6 L1667.9 117.4 L1669.0 105.5 L1670.2 117.4 L1671.5 137.5 L1672.9 148.8 L1674.6 147.0 L1676.6 145.6 L1678.3 150.8 L1679.9 169.8 L1681.7 189.7 L1683.0 196.3 L1685.3 189.7 L1688.0 172.4 L1690.6 156.9 L1693.3 140.1 L1695.3 126.8 L1696.9 122.5 L1698.7 137.5 L1700.3 169.7 L1701.7 203.1 L1703.1 218.0 L1704.7 203.1 L1706.3 183.1 L1708.0 173.6 L1710.7 166.9 L1713.4 162.2 L1715.4 160.0 L1717.8 161.9 L1719.4 165.7 M115.5 163.5 L118.0 226.0 L119.6 202.5 L121.4 188.8 L124.0 180.8 L127.4 172.4 L130.3 168.4 L131.7 154.4 L133.4 135.4 L135.4 123.5 L137.4 138.1 L139.4 165.1 L141.4 189.1 L143.4 196.3 L145.4 189.1 L148.1 170.4 L150.8 154.1 L152.8 140.7 L154.8 134.2 L156.8 144.7 L158.8 162.4 L160.8 173.1 L163.5 175.6 L166.8 172.4 L169.2 168.4 L169.9 150.9 L170.8 118.0 L171.9 106.1 L173.1 118.0 L174.4 138.1 L175.8 148.2 L177.5 146.4 L179.5 146.2 L181.3 151.4 L182.9 169.3 L184.6 189.1 L185.9 195.7 L188.2 189.1 L190.9 171.8 L193.6 156.9 L196.2 140.7 L198.2 127.4 L199.9 123.1 L201.6 138.1 L203.2 169.1 L204.7 202.5 L206.0 217.4 L207.6 202.5 L209.2 182.5 L211.0 174.2 L213.6 167.5 L216.3 162.8 L218.3 160.6 L220.7 162.8 L222.3 167.5 L225.0 226.0 L226.6 202.5 L228.3 187.5 L231.0 180.8 L234.3 172.4 L237.3 168.4 L238.6 154.4 L240.3 135.4 L242.3 123.5 L244.3 138.1 L246.3 165.1 L248.4 189.1 L250.4 196.3 L252.4 189.1 L255.0 170.4 L257.7 154.1 L259.7 140.7 L261.7 134.2 L263.7 144.7 L265.7 162.4 L267.7 173.1 L270.4 175.6 L273.8 172.4 L276.2 168.4 L276.8 150.9 L277.8 118.0 L278.8 106.1 L280.0 118.0 L281.4 138.1 L282.7 148.2 L284.5 146.4 L286.5 146.2 L288.2 151.4 L289.8 169.3 L291.5 189.1 L292.9 195.7 L295.2 189.1 L297.8 171.8 L300.5 156.9 L303.2 140.7 L305.2 127.4 L306.8 123.1 L308.5 138.1 L310.1 169.1 L311.6 202.5 L312.9 217.4 L314.5 202.5 L316.1 182.5 L317.9 174.2 L320.6 167.5 L323.2 162.8 L325.2 160.6 L327.6 162.8 L329.2 167.5 L331.9 226.0 L333.5 202.5 L335.2 187.5 L337.9 180.8 L341.2 172.4 L344.2 168.4 L345.5 154.4 L347.3 135.4 L349.3 123.5 L351.3 138.1 L353.3 165.1 L355.3 189.1 L357.3 196.3 L359.3 189.1 L362.0 170.4 L364.6 154.1 L366.7 140.7 L368.7 134.2 L370.7 144.7 L372.7 162.4 L374.7 173.1 L377.4 175.6 L380.7 172.4 L383.1 168.4 L383.8 150.9 L384.7 118.0 L385.8 106.1 L387.0 118.0 L388.3 138.1 L389.7 148.2 L391.4 146.4 L393.4 146.2 L395.1 151.4 L396.7 169.3 L398.5 189.1 L399.8 195.7 L402.1 189.1 L404.8 171.8 L407.4 156.9 L410.1 140.7 L412.1 127.4 L413.7 123.1 L415.5 138.1 L417.1 169.1 L418.5 202.5 L419.9 217.4 L421.5 202.5 L423.1 182.5 L424.8 174.2 L427.5 167.5 L430.2 162.8 L432.2 160.6 L434.6 162.8 L436.2 167.5 L438.8 226.0 L440.4 202.5 L442.2 187.5 L444.8 180.8 L448.2 172.4 L451.1 168.4 L452.5 154.4 L454.2 135.4 L456.2 123.5 L458.2 138.1 L460.2 165.1 L462.2 189.1 L464.2 196.3 L466.2 189.1 L468.9 170.4 L471.6 154.1 L473.6 140.7 L475.6 134.2 L477.6 144.7 L479.6 162.4 L481.6 173.1 L484.3 175.6 L487.6 172.4 L490.0 168.4 L490.7 150.9 L491.6 118.0 L492.7 106.1 L493.9 118.0 L495.2 138.1 L496.6 148.2 L498.3 146.4 L500.3 146.2 L502.1 151.4 L503.7 169.3 L505.4 189.1 L506.7 195.7 L509.0 189.1 L511.7 171.8 L514.4 156.9 L517.0 140.7 L519.0 127.4 L520.7 123.1 L522.4 138.1 L524.0 169.1 L525.5 202.5 L526.8 217.4 L528.4 202.5 L530.0 182.5 L531.8 174.2 L534.4 167.5 L537.1 162.8 L539.1 160.6 L541.5 162.8 L543.1 167.5 L545.8 226.0 L547.4 202.5 L549.1 187.5 L551.8 180.8 L555.1 172.4 L558.1 168.4 L559.4 154.4 L561.1 135.4 L563.1 123.5 L565.1 138.1 L567.1 165.1 L569.2 189.1 L571.2 196.3 L573.2 189.1 L575.8 170.4 L578.5 154.1 L580.5 140.7 L582.5 134.2 L584.5 144.7 L586.5 162.4 L588.5 173.1 L591.2 175.6 L594.6 172.4 L597.0 168.4 L597.6 150.9 L598.6 118.0 L599.6 106.1 L600.8 118.0 L602.2 138.1 L603.5 148.2 L605.3 146.4 L607.3 146.2 L609.0 151.4 L610.6 169.3 L612.3 189.1 L613.7 195.7 L616.0 189.1 L618.6 171.8 L621.3 156.9 L624.0 140.7 L626.0 127.4 L627.6 123.1 L629.3 138.1 L630.9 169.1 L632.4 202.5 L633.7 217.4 L635.3 202.5 L636.9 182.5 L638.7 174.2 L641.4 167.5 L644.0 162.8 L646.0 160.6 L648.4 162.8 L650.0 167.5 L652.7 217.0 L653.8 195.8 L655.0 175.8 L656.7 168.8 L660.1 163.6 L663.4 163.1 L666.1 164.9 L667.4 157.8 L668.7 143.4 L670.1 137.2 L671.8 151.4 L674.1 177.2 L676.4 202.5 L678.8 214.4 L681.2 202.5 L683.9 182.5 L686.1 158.1 L688.1 135.4 L689.7 127.1 L691.5 140.7 L693.5 159.7 L696.2 168.5 L699.5 162.4 L702.2 155.7 L703.9 149.0 L704.6 124.7 L705.5 97.9 L706.3 90.1 L707.5 104.6 L708.9 123.9 L710.5 130.1 L712.2 124.7 L713.9 122.2 L715.5 131.4 L717.3 164.8 L719.2 199.8 L720.9 213.7 L722.9 202.5 L725.6 184.1 L728.9 168.8 L731.6 154.1 L734.3 146.2 L736.3 164.8 L738.3 195.8 L740.5 215.3 L742.7 195.8 L745.0 175.5 L748.3 162.1 L751.6 153.4 L755.3 151.2 L757.4 156.8 L759.7 211.3 L760.7 195.8 L761.9 175.8 L763.6 168.8 L767.0 163.6 L770.3 163.1 L773.0 164.9 L774.3 157.8 L775.7 143.4 L777.0 137.2 L778.8 151.4 L781.0 177.2 L783.3 202.5 L785.7 214.4 L788.1 202.5 L790.8 182.5 L793.1 158.1 L795.1 135.4 L796.7 127.1 L798.4 140.7 L800.4 159.7 L803.1 168.5 L806.4 162.4 L809.1 155.7 L810.8 149.0 L811.5 124.7 L812.5 97.9 L813.3 90.1 L814.5 104.6 L815.8 123.9 L817.4 130.1 L819.1 124.7 L820.9 122.2 L822.5 131.4 L824.2 164.8 L826.1 199.8 L827.8 213.7 L829.8 202.5 L832.5 184.1 L835.8 168.8 L838.5 154.1 L841.2 146.2 L843.2 164.8 L845.2 195.8 L847.5 215.3 L849.6 195.8 L851.9 175.5 L855.2 162.1 L858.6 153.4 L862.2 151.2 L864.3 156.8 L866.6 211.3 L867.6 195.8 L868.8 175.8 L870.6 168.8 L873.9 163.6 L877.3 163.1 L879.9 164.9 L881.3 157.8 L882.6 143.4 L884.0 137.2 L885.7 151.4 L888.0 177.2 L890.2 202.5 L892.6 214.4 L895.0 202.5 L897.7 182.5 L900.0 158.1 L902.0 135.4 L903.6 127.1 L905.3 140.7 L907.4 159.7 L910.0 168.5 L913.4 162.4 L916.0 155.7 L917.8 149.0 L918.4 124.7 L919.4 97.9 L920.2 90.1 L921.4 104.6 L922.7 123.9 L924.3 130.1 L926.1 124.7 L927.8 122.2 L929.4 131.4 L931.2 164.8 L933.0 199.8 L934.8 213.7 L936.8 202.5 L939.4 184.1 L942.8 168.8 L945.5 154.1 L948.1 146.2 L950.1 164.8 L952.1 195.8 L954.4 215.3 L956.6 195.8 L958.8 175.5 L962.2 162.1 L965.5 153.4 L969.1 151.2 L971.3 156.8 L973.5 211.3 L974.6 195.8 L975.8 175.8 L977.5 168.8 L980.9 163.6 L984.2 163.1 L986.9 164.9 L988.2 157.8 L989.5 143.4 L990.9 137.2 L992.6 151.4 L994.9 177.2 L997.2 202.5 L999.6 214.4 L1002.0 202.5 L1004.7 182.5 L1006.9 158.1 L1008.9 135.4 L1010.5 127.1 L1012.3 140.7 L1014.3 159.7 L1017.0 168.5 L1020.3 162.4 L1023.0 155.7 L1024.7 149.0 L1025.4 124.7 L1026.3 97.9 L1027.1 90.1 L1028.3 104.6 L1029.7 123.9 L1031.3 130.1 L1033.0 124.7 L1034.7 122.2 L1036.3 131.4 L1038.1 164.8 L1040.0 199.8 L1041.7 213.7 L1043.7 202.5 L1046.4 184.1 L1049.7 168.8 L1052.4 154.1 L1055.1 146.2 L1057.1 164.8 L1059.1 195.8 L1061.3 215.3 L1063.5 195.8 L1065.8 175.5 L1069.1 162.1 L1072.4 153.4 L1076.1 151.2 L1078.2 156.8 L1080.5 211.3 L1081.5 195.8 L1082.7 175.8 L1084.4 168.8 L1087.8 163.6 L1091.1 163.1 L1093.8 164.9 L1095.1 157.8 L1096.5 143.4 L1097.8 137.2 L1099.6 151.4 L1101.8 177.2 L1104.1 202.5 L1106.5 214.4 L1108.9 202.5 L1111.6 182.5 L1113.9 158.1 L1115.9 135.4 L1117.5 127.1 L1119.2 140.7 L1121.2 159.7 L1123.9 168.5 L1127.2 162.4 L1129.9 155.7 L1131.6 149.0 L1132.3 124.7 L1133.3 97.9 L1134.1 90.1 L1135.3 104.6 L1136.6 123.9 L1138.2 130.1 L1139.9 124.7 L1141.7 122.2 L1143.3 131.4 L1145.0 164.8 L1146.9 199.8 L1148.6 213.7 L1150.6 202.5 L1153.3 184.1 L1156.6 168.8 L1159.3 154.1 L1162.0 146.2 L1164.0 164.8 L1166.0 195.8 L1168.3 215.3 L1170.4 195.8 L1172.7 175.5 L1176.0 162.1 L1179.4 153.4 L1183.0 151.2 L1185.1 156.8 L1187.3 219.7 L1189.0 202.5 L1190.7 186.5 L1193.4 180.8 L1196.7 172.4 L1199.7 168.4 L1201.0 154.4 L1202.7 135.4 L1204.7 123.5 L1206.7 138.1 L1208.7 165.1 L1210.8 189.1 L1212.8 196.3 L1214.8 189.1 L1217.4 170.4 L1220.1 154.1 L1222.1 140.7 L1224.1 134.2 L1226.1 144.7 L1228.1 162.4 L1230.1 173.1 L1232.8 175.6 L1236.2 172.4 L1238.6 168.4 L1239.2 150.9 L1240.2 118.0 L1241.2 106.1 L1242.4 118.0 L1243.8 138.1 L1245.1 148.2 L1246.9 146.4 L1248.9 146.2 L1250.6 151.4 L1252.2 169.3 L1253.9 189.1 L1255.3 195.7 L1257.6 189.1 L1260.2 171.8 L1262.9 156.9 L1265.6 140.7 L1267.6 127.4 L1269.2 123.1 L1270.9 138.1 L1272.5 169.1 L1274.0 202.5 L1275.3 217.4 L1276.9 202.5 L1278.5 182.5 L1280.3 174.2 L1283.0 167.5 L1285.6 162.8 L1287.6 160.6 L1290.0 162.8 L1291.6 167.5 L1294.3 226.0 L1295.9 202.5 L1297.6 187.5 L1300.3 180.8 L1303.6 172.4 L1306.6 168.4 L1307.9 154.4 L1309.7 135.4 L1311.7 123.5 L1313.7 138.1 L1315.7 165.1 L1317.7 189.1 L1319.7 196.3 L1321.7 189.1 L1324.4 170.4 L1327.0 154.1 L1329.1 140.7 L1331.1 134.2 L1333.1 144.7 L1335.1 162.4 L1337.1 173.1 L1339.8 175.6 L1343.1 172.4 L1345.5 168.4 L1346.2 150.9 L1347.1 118.0 L1348.2 106.1 L1349.4 118.0 L1350.7 138.1 L1352.1 148.2 L1353.8 146.4 L1355.8 146.2 L1357.5 151.4 L1359.1 169.3 L1360.9 189.1 L1362.2 195.7 L1364.5 189.1 L1367.2 171.8 L1369.8 156.9 L1372.5 140.7 L1374.5 127.4 L1376.1 123.1 L1377.9 138.1 L1379.5 169.1 L1380.9 202.5 L1382.3 217.4 L1383.9 202.5 L1385.5 182.5 L1387.2 174.2 L1389.9 167.5 L1392.6 162.8 L1394.6 160.6 L1397.0 162.8 L1398.6 167.5 L1401.2 226.0 L1402.8 202.5 L1404.6 187.5 L1407.2 180.8 L1410.6 172.4 L1413.5 168.4 L1414.9 154.4 L1416.6 135.4 L1418.6 123.5 L1420.6 138.1 L1422.6 165.1 L1424.6 189.1 L1426.6 196.3 L1428.6 189.1 L1431.3 170.4 L1434.0 154.1 L1436.0 140.7 L1438.0 134.2 L1440.0 144.7 L1442.0 162.4 L1444.0 173.1 L1446.7 175.6 L1450.0 172.4 L1452.4 168.4 L1453.1 150.9 L1454.0 118.0 L1455.1 106.1 L1456.3 118.0 L1457.6 138.1 L1459.0 148.2 L1460.7 146.4 L1462.7 146.2 L1464.5 151.4 L1466.1 169.3 L1467.8 189.1 L1469.1 195.7 L1471.4 189.1 L1474.1 171.8 L1476.8 156.9 L1479.4 140.7 L1481.4 127.4 L1483.1 123.1 L1484.8 138.1 L1486.4 169.1 L1487.9 202.5 L1489.2 217.4 L1490.8 202.5 L1492.4 182.5 L1494.2 174.2 L1496.8 167.5 L1499.5 162.8 L1501.5 160.6 L1503.9 162.8 L1505.5 167.5 L1508.2 226.0 L1509.8 202.5 L1511.5 187.5 L1514.2 180.8 L1517.5 172.4 L1520.5 168.4 L1521.8 154.4 L1523.5 135.4 L1525.5 123.5 L1527.5 138.1 L1529.5 165.1 L1531.6 189.1 L1533.6 196.3 L1535.6 189.1 L1538.2 170.4 L1540.9 154.1 L1542.9 140.7 L1544.9 134.2 L1546.9 144.7 L1548.9 162.4 L1550.9 173.1 L1553.6 175.6 L1557.0 172.4 L1559.4 168.4 L1560.0 150.9 L1561.0 118.0 L1562.0 106.1 L1563.2 118.0 L1564.6 138.1 L1565.9 148.2 L1567.7 146.4 L1569.7 146.2 L1571.4 151.4 L1573.0 169.3 L1574.7 189.1 L1576.1 195.7 L1578.4 189.1 L1581.0 171.8 L1583.7 156.9 L1586.4 140.7 L1588.4 127.4 L1590.0 123.1 L1591.7 138.1 L1593.3 169.1 L1594.8 202.5 L1596.1 217.4 L1597.7 202.5 L1599.3 182.5 L1601.1 174.2 L1603.8 167.5 L1606.4 162.8 L1608.4 160.6 L1610.8 162.8 L1612.4 167.5 L1615.1 226.0 L1616.7 202.5 L1618.4 187.5 L1621.1 180.8 L1624.4 172.4 L1627.4 168.4 L1628.7 154.4 L1630.5 135.4 L1632.5 123.5 L1634.5 138.1 L1636.5 165.1 L1638.5 189.1 L1640.5 196.3 L1642.5 189.1 L1645.2 170.4 L1647.8 154.1 L1649.9 140.7 L1651.9 134.2 L1653.9 144.7 L1655.9 162.4 L1657.9 173.1 L1660.6 175.6 L1663.9 172.4 L1666.3 168.4 L1667.0 150.9 L1667.9 118.0 L1669.0 106.1 L1670.2 118.0 L1671.5 138.1 L1672.9 148.2 L1674.6 146.4 L1676.6 146.2 L1678.3 151.4 L1679.9 169.3 L1681.7 189.1 L1683.0 195.7 L1685.3 189.1 L1688.0 171.8 L1690.6 156.9 L1693.3 140.7 L1695.3 127.4 L1696.9 123.1 L1698.7 138.1 L1700.3 169.1 L1701.7 202.5 L1703.1 217.4 L1704.7 202.5 L1706.3 182.5 L1708.0 174.2 L1710.7 167.5 L1713.4 162.8 L1715.4 160.6 L1717.8 162.1 L1719.4 165.1" fill="none" stroke="#0000ff" stroke-width="5.70" stroke-linejoin="round" stroke-linecap="butt"/>
<text transform="translate(115.00 326.30) scale(0.9600 1)" font-size="40.30" text-anchor="middle">20</text>
<text transform="translate(382.33 326.30) scale(0.9600 1)" font-size="40.30" text-anchor="middle">25</text>
<text transform="translate(649.67 326.30) scale(0.9600 1)" font-size="40.30" text-anchor="middle">30</text>
<text transform="translate(917.00 326.30) scale(0.9600 1)" font-size="40.30" text-anchor="middle">35</text>
<text transform="translate(1184.33 326.30) scale(0.9600 1)" font-size="40.30" text-anchor="middle">40</text>
<text transform="translate(1451.67 326.30) scale(0.9600 1)" font-size="40.30" text-anchor="middle">45</text>
<text transform="translate(1719.00 326.30) scale(0.9600 1)" font-size="40.30" text-anchor="middle">50</text>
<text transform="translate(101.40 109.85) scale(0.9600 1)" font-size="40.60" text-anchor="end">1</text>
<text transform="translate(102.90 181.75) scale(0.9600 1)" font-size="40.60" text-anchor="end">0</text>
<text transform="translate(101.40 253.65) scale(0.9600 1)" font-size="40.60" text-anchor="end">-1</text>
<text transform="translate(131.50 54.80) scale(1.0000 1)" font-size="48.70" text-anchor="middle">×</text>
<text transform="translate(189.00 48.80) scale(0.9600 1)" font-size="40.30" text-anchor="end">10</text>
<text transform="translate(191.30 32.10) scale(0.9550 1)" font-size="31.50" text-anchor="start">-4</text>
<text transform="translate(49.00 167.65) rotate(-90) scale(0.9450 1)" font-size="45.50" text-anchor="middle">C1 Error (m)</text>
</g>
<g>
<line x1="382.63" y1="401.00" x2="382.63" y2="616.40" stroke="#dedede" stroke-width="3.40"/>
<line x1="649.97" y1="401.00" x2="649.97" y2="616.40" stroke="#dedede" stroke-width="3.40"/>
<line x1="917.30" y1="401.00" x2="917.30" y2="616.40" stroke="#dedede" stroke-width="3.40"/>
<line x1="1184.63" y1="401.00" x2="1184.63" y2="616.40" stroke="#dedede" stroke-width="3.40"/>
<line x1="1451.97" y1="401.00" x2="1451.97" y2="616.40" stroke="#dedede" stroke-width="3.40"/>
<line x1="115.50" y1="436.90" x2="1719.50" y2="436.90" stroke="#dedede" stroke-width="3.30"/>
<line x1="115.50" y1="508.70" x2="1719.50" y2="508.70" stroke="#dedede" stroke-width="3.30"/>
<line x1="115.50" y1="580.50" x2="1719.50" y2="580.50" stroke="#dedede" stroke-width="3.30"/>
<line x1="382.83" y1="616.40" x2="382.83" y2="599.00" stroke="#262626" stroke-width="3.00"/>
<line x1="382.83" y1="401.00" x2="382.83" y2="418.40" stroke="#262626" stroke-width="3.00"/>
<line x1="650.17" y1="616.40" x2="650.17" y2="599.00" stroke="#262626" stroke-width="3.00"/>
<line x1="650.17" y1="401.00" x2="650.17" y2="418.40" stroke="#262626" stroke-width="3.00"/>
<line x1="917.50" y1="616.40" x2="917.50" y2="599.00" stroke="#262626" stroke-width="3.00"/>
<line x1="917.50" y1="401.00" x2="917.50" y2="418.40" stroke="#262626" stroke-width="3.00"/>
<line x1="1184.83" y1="616.40" x2="1184.83" y2="599.00" stroke="#262626" stroke-width="3.00"/>
<line x1="1184.83" y1="401.00" x2="1184.83" y2="418.40" stroke="#262626" stroke-width="3.00"/>
<line x1="1452.17" y1="616.40" x2="1452.17" y2="599.00" stroke="#262626" stroke-width="3.00"/>
<line x1="1452.17" y1="401.00" x2="1452.17" y2="418.40" stroke="#262626" stroke-width="3.00"/>
<line x1="115.50" y1="436.90" x2="132.90" y2="436.90" stroke="#262626" stroke-width="3.30"/>
<line x1="1719.50" y1="436.90" x2="1702.10" y2="436.90" stroke="#262626" stroke-width="3.30"/>
<line x1="115.50" y1="508.70" x2="132.90" y2="508.70" stroke="#262626" stroke-width="3.30"/>
<line x1="1719.50" y1="508.70" x2="1702.10" y2="508.70" stroke="#262626" stroke-width="3.30"/>
<line x1="115.50" y1="580.50" x2="132.90" y2="580.50" stroke="#262626" stroke-width="3.30"/>
<line x1="1719.50" y1="580.50" x2="1702.10" y2="580.50" stroke="#262626" stroke-width="3.30"/>
<line x1="114.00" y1="401.00" x2="1721.00" y2="401.00" stroke="#262626" stroke-width="3.70"/>
<line x1="114.00" y1="616.40" x2="1721.00" y2="616.40" stroke="#262626" stroke-width="2.90"/>
<line x1="115.50" y1="399.35" x2="115.50" y2="618.05" stroke="#262626" stroke-width="3.00"/>
<line x1="1719.50" y1="399.35" x2="1719.50" y2="618.05" stroke="#262626" stroke-width="3.00"/>
<path d="M115.5 492.6 L118.2 534.8 L119.6 521.0 L121.0 516.3 L123.4 515.4 L126.7 512.3 L129.4 506.9 L130.7 499.6 L132.1 486.2 L133.8 470.2 L135.7 461.9 L137.4 476.8 L139.1 507.6 L141.0 531.7 L142.8 539.9 L144.5 530.3 L146.8 517.0 L149.4 507.6 L152.1 491.6 L155.1 481.0 L157.1 492.9 L159.2 511.6 L161.1 520.3 L163.5 522.5 L166.8 521.6 L169.1 521.0 L169.8 496.9 L170.6 483.5 L171.5 479.7 L173.1 488.9 L174.8 496.9 L176.5 499.4 L178.2 495.8 L179.8 494.4 L181.5 499.6 L183.1 517.0 L184.9 533.0 L186.5 538.8 L188.2 527.7 L190.9 511.6 L193.6 498.2 L196.2 483.5 L199.3 473.0 L201.2 488.9 L202.9 518.3 L204.7 541.0 L206.0 549.5 L207.6 534.3 L209.6 519.6 L212.3 508.9 L215.0 499.6 L217.6 496.5 L220.3 495.8 L222.7 494.0 L223.7 507.6 L225.1 534.8 L226.6 521.0 L227.9 516.3 L230.3 515.4 L233.6 512.3 L236.3 506.9 L237.7 499.6 L239.0 486.2 L240.7 470.2 L242.6 461.9 L244.3 476.8 L246.1 507.6 L248.0 531.7 L249.7 539.9 L251.4 530.3 L253.7 517.0 L256.4 507.6 L259.1 491.6 L262.0 481.0 L264.0 492.9 L266.1 511.6 L268.0 520.3 L270.4 522.5 L273.8 521.6 L276.0 521.0 L276.7 496.9 L277.5 483.5 L278.4 479.7 L280.0 488.9 L281.8 496.9 L283.4 499.4 L285.1 495.8 L286.7 494.4 L288.5 499.6 L290.1 517.0 L291.8 533.0 L293.4 538.8 L295.2 527.7 L297.8 511.6 L300.5 498.2 L303.2 483.5 L306.3 473.0 L308.1 488.9 L309.9 518.3 L311.6 541.0 L312.9 549.5 L314.5 534.3 L316.5 519.6 L319.2 508.9 L321.9 499.6 L324.6 496.5 L327.2 495.8 L329.6 494.0 L330.6 507.6 L332.0 534.8 L333.5 521.0 L334.8 516.3 L337.2 515.4 L340.6 512.3 L343.3 506.9 L344.6 499.6 L345.9 486.2 L347.7 470.2 L349.5 461.9 L351.3 476.8 L353.0 507.6 L354.9 531.7 L356.6 539.9 L358.4 530.3 L360.6 517.0 L363.3 507.6 L366.0 491.6 L368.9 481.0 L370.9 492.9 L373.1 511.6 L374.9 520.3 L377.4 522.5 L380.7 521.6 L383.0 521.0 L383.6 496.9 L384.4 483.5 L385.4 479.7 L387.0 488.9 L388.7 496.9 L390.3 499.4 L392.1 495.8 L393.7 494.4 L395.4 499.6 L397.0 517.0 L398.7 533.0 L400.3 538.8 L402.1 527.7 L404.8 511.6 L407.4 498.2 L410.1 483.5 L413.2 473.0 L415.1 488.9 L416.8 518.3 L418.5 541.0 L419.9 549.5 L421.5 534.3 L423.5 519.6 L426.2 508.9 L428.8 499.6 L431.5 496.5 L434.2 495.8 L436.6 494.0 L437.5 507.6 L439.0 534.8 L440.4 521.0 L441.8 516.3 L444.2 515.4 L447.5 512.3 L450.2 506.9 L451.5 499.6 L452.9 486.2 L454.6 470.2 L456.5 461.9 L458.2 476.8 L459.9 507.6 L461.8 531.7 L463.6 539.9 L465.3 530.3 L467.6 517.0 L470.2 507.6 L472.9 491.6 L475.9 481.0 L477.9 492.9 L480.0 511.6 L481.9 520.3 L484.3 522.5 L487.6 521.6 L489.9 521.0 L490.6 496.9 L491.4 483.5 L492.3 479.7 L493.9 488.9 L495.6 496.9 L497.3 499.4 L499.0 495.8 L500.6 494.4 L502.3 499.6 L503.9 517.0 L505.7 533.0 L507.3 538.8 L509.0 527.7 L511.7 511.6 L514.4 498.2 L517.0 483.5 L520.1 473.0 L522.0 488.9 L523.7 518.3 L525.5 541.0 L526.8 549.5 L528.4 534.3 L530.4 519.6 L533.1 508.9 L535.8 499.6 L538.4 496.5 L541.1 495.8 L543.5 494.0 L544.5 507.6 L545.9 534.8 L547.4 521.0 L548.7 516.3 L551.1 515.4 L554.4 512.3 L557.1 506.9 L558.5 499.6 L559.8 486.2 L561.5 470.2 L563.4 461.9 L565.1 476.8 L566.9 507.6 L568.8 531.7 L570.5 539.9 L572.2 530.3 L574.5 517.0 L577.2 507.6 L579.9 491.6 L582.8 481.0 L584.8 492.9 L586.9 511.6 L588.8 520.3 L591.2 522.5 L594.6 521.6 L596.8 521.0 L597.5 496.9 L598.3 483.5 L599.2 479.7 L600.8 488.9 L602.6 496.9 L604.2 499.4 L605.9 495.8 L607.5 494.4 L609.3 499.6 L610.9 517.0 L612.6 533.0 L614.2 538.8 L616.0 527.7 L618.6 511.6 L621.3 498.2 L624.0 483.5 L627.1 473.0 L628.9 488.9 L630.7 518.3 L632.4 541.0 L633.7 549.5 L635.3 534.3 L637.3 519.6 L640.0 508.9 L642.7 499.6 L645.4 496.5 L648.0 495.8 L650.4 494.0 L651.4 507.6 L652.7 525.2 L654.0 511.6 L655.8 502.0 L657.6 504.4 L661.4 500.7 L664.7 502.7 L666.1 494.2 L667.8 478.2 L670.1 465.0 L672.1 487.5 L673.7 521.0 L675.4 545.0 L677.4 556.9 L679.4 547.7 L682.8 530.3 L685.5 512.9 L687.9 494.2 L690.1 484.0 L692.4 499.6 L694.2 510.3 L696.2 514.8 L699.5 510.3 L702.8 505.6 L703.9 494.2 L704.8 474.2 L706.2 464.3 L707.9 476.8 L710.2 484.0 L712.2 481.5 L713.9 480.4 L715.5 491.6 L717.3 518.3 L718.9 538.3 L720.6 546.9 L723.6 537.0 L726.9 519.6 L730.3 504.9 L732.3 495.6 L734.3 491.1 L736.0 507.6 L737.9 534.3 L739.6 554.4 L740.5 561.6 L742.3 545.0 L744.3 521.0 L746.3 503.6 L749.0 488.9 L751.6 482.2 L754.3 479.8 L757.0 477.9 L758.1 496.9 L759.4 517.5 L761.0 511.6 L762.7 502.0 L764.6 504.4 L768.3 500.7 L771.7 502.7 L773.0 494.2 L774.7 478.2 L777.0 465.0 L779.0 487.5 L780.6 521.0 L782.4 545.0 L784.4 556.9 L786.4 547.7 L789.7 530.3 L792.4 512.9 L794.8 494.2 L797.1 484.0 L799.3 499.6 L801.1 510.3 L803.1 514.8 L806.4 510.3 L809.8 505.6 L810.8 494.2 L811.8 474.2 L813.1 464.3 L814.9 476.8 L817.1 484.0 L819.1 481.5 L820.9 480.4 L822.5 491.6 L824.2 518.3 L825.8 538.3 L827.6 546.9 L830.5 537.0 L833.8 519.6 L837.2 504.9 L839.2 495.6 L841.2 491.1 L842.9 507.6 L844.8 534.3 L846.5 554.4 L847.5 561.6 L849.2 545.0 L851.2 521.0 L853.2 503.6 L855.9 488.9 L858.6 482.2 L861.3 479.8 L863.9 477.9 L865.0 496.9 L866.3 517.5 L867.9 511.6 L869.6 502.0 L871.5 504.4 L875.3 500.7 L878.6 502.7 L879.9 494.2 L881.7 478.2 L884.0 465.0 L886.0 487.5 L887.6 521.0 L889.3 545.0 L891.3 556.9 L893.3 547.7 L896.7 530.3 L899.3 512.9 L901.7 494.2 L904.0 484.0 L906.3 499.6 L908.0 510.3 L910.0 514.8 L913.4 510.3 L916.7 505.6 L917.8 494.2 L918.7 474.2 L920.1 464.3 L921.8 476.8 L924.1 484.0 L926.1 481.5 L927.8 480.4 L929.4 491.6 L931.2 518.3 L932.8 538.3 L934.5 546.9 L937.4 537.0 L940.8 519.6 L944.1 504.9 L946.1 495.6 L948.1 491.1 L949.9 507.6 L951.7 534.3 L953.5 554.4 L954.4 561.6 L956.2 545.0 L958.2 521.0 L960.2 503.6 L962.8 488.9 L965.5 482.2 L968.2 479.8 L970.9 477.9 L971.9 496.9 L973.3 517.5 L974.8 511.6 L976.6 502.0 L978.4 504.4 L982.2 500.7 L985.5 502.7 L986.9 494.2 L988.6 478.2 L990.9 465.0 L992.9 487.5 L994.5 521.0 L996.2 545.0 L998.2 556.9 L1000.2 547.7 L1003.6 530.3 L1006.3 512.9 L1008.7 494.2 L1010.9 484.0 L1013.2 499.6 L1015.0 510.3 L1017.0 514.8 L1020.3 510.3 L1023.6 505.6 L1024.7 494.2 L1025.6 474.2 L1027.0 464.3 L1028.7 476.8 L1031.0 484.0 L1033.0 481.5 L1034.7 480.4 L1036.3 491.6 L1038.1 518.3 L1039.7 538.3 L1041.4 546.9 L1044.4 537.0 L1047.7 519.6 L1051.1 504.9 L1053.1 495.6 L1055.1 491.1 L1056.8 507.6 L1058.7 534.3 L1060.4 554.4 L1061.3 561.6 L1063.1 545.0 L1065.1 521.0 L1067.1 503.6 L1069.8 488.9 L1072.4 482.2 L1075.1 479.8 L1077.8 477.9 L1078.9 496.9 L1080.2 517.5 L1081.8 511.6 L1083.5 502.0 L1085.4 504.4 L1089.1 500.7 L1092.5 502.7 L1093.8 494.2 L1095.5 478.2 L1097.8 465.0 L1099.8 487.5 L1101.4 521.0 L1103.2 545.0 L1105.2 556.9 L1107.2 547.7 L1110.5 530.3 L1113.2 512.9 L1115.6 494.2 L1117.9 484.0 L1120.1 499.6 L1121.9 510.3 L1123.9 514.8 L1127.2 510.3 L1130.6 505.6 L1131.6 494.2 L1132.6 474.2 L1133.9 464.3 L1135.7 476.8 L1137.9 484.0 L1139.9 481.5 L1141.7 480.4 L1143.3 491.6 L1145.0 518.3 L1146.6 538.3 L1148.4 546.9 L1151.3 537.0 L1154.6 519.6 L1158.0 504.9 L1160.0 495.6 L1162.0 491.1 L1163.7 507.6 L1165.6 534.3 L1167.3 554.4 L1168.3 561.6 L1170.0 545.0 L1172.0 521.0 L1174.0 503.6 L1176.7 488.9 L1179.4 482.2 L1182.1 479.8 L1184.7 477.9 L1185.8 496.9 L1187.3 527.1 L1189.0 520.4 L1190.3 515.9 L1192.7 515.0 L1196.0 512.1 L1198.7 507.0 L1200.1 500.0 L1201.4 487.3 L1203.1 472.1 L1205.0 464.2 L1206.7 478.4 L1208.5 507.7 L1210.4 530.5 L1212.1 538.4 L1213.8 529.2 L1216.1 516.5 L1218.8 507.7 L1221.5 492.4 L1224.4 482.4 L1226.4 493.7 L1228.5 511.5 L1230.4 519.7 L1232.8 521.8 L1236.2 521.0 L1238.4 520.4 L1239.1 497.5 L1239.9 484.8 L1240.8 481.1 L1242.4 489.9 L1244.2 497.5 L1245.8 499.9 L1247.5 496.5 L1249.1 495.1 L1250.9 500.0 L1252.5 516.5 L1254.2 531.8 L1255.8 537.3 L1257.6 526.7 L1260.2 511.5 L1262.9 498.8 L1265.6 484.8 L1268.7 474.8 L1270.5 489.9 L1272.3 517.8 L1274.0 539.4 L1275.3 547.5 L1276.9 533.1 L1278.9 519.1 L1281.6 508.9 L1284.3 500.0 L1287.0 497.1 L1289.6 496.5 L1292.0 494.7 L1293.0 507.7 L1294.4 533.5 L1295.9 520.4 L1297.2 515.9 L1299.6 515.0 L1303.0 512.1 L1305.7 507.0 L1307.0 500.0 L1308.3 487.3 L1310.1 472.1 L1311.9 464.2 L1313.7 478.4 L1315.4 507.7 L1317.3 530.5 L1319.0 538.4 L1320.8 529.2 L1323.0 516.5 L1325.7 507.7 L1328.4 492.4 L1331.3 482.4 L1333.3 493.7 L1335.5 511.5 L1337.3 519.7 L1339.8 521.8 L1343.1 521.0 L1345.4 520.4 L1346.0 497.5 L1346.8 484.8 L1347.8 481.1 L1349.4 489.9 L1351.1 497.5 L1352.7 499.9 L1354.5 496.5 L1356.1 495.1 L1357.8 500.0 L1359.4 516.5 L1361.1 531.8 L1362.7 537.3 L1364.5 526.7 L1367.2 511.5 L1369.8 498.8 L1372.5 484.8 L1375.6 474.8 L1377.5 489.9 L1379.2 517.8 L1380.9 539.4 L1382.3 547.5 L1383.9 533.1 L1385.9 519.1 L1388.6 508.9 L1391.2 500.0 L1393.9 497.1 L1396.6 496.5 L1399.0 494.7 L1399.9 507.7 L1401.4 533.5 L1402.8 520.4 L1404.2 515.9 L1406.6 515.0 L1409.9 512.1 L1412.6 507.0 L1413.9 500.0 L1415.3 487.3 L1417.0 472.1 L1418.9 464.2 L1420.6 478.4 L1422.3 507.7 L1424.2 530.5 L1426.0 538.4 L1427.7 529.2 L1430.0 516.5 L1432.6 507.7 L1435.3 492.4 L1438.3 482.4 L1440.3 493.7 L1442.4 511.5 L1444.3 519.7 L1446.7 521.8 L1450.0 521.0 L1452.3 520.4 L1453.0 497.5 L1453.8 484.8 L1454.7 481.1 L1456.3 489.9 L1458.0 497.5 L1459.7 499.9 L1461.4 496.5 L1463.0 495.1 L1464.7 500.0 L1466.3 516.5 L1468.1 531.8 L1469.7 537.3 L1471.4 526.7 L1474.1 511.5 L1476.8 498.8 L1479.4 484.8 L1482.5 474.8 L1484.4 489.9 L1486.1 517.8 L1487.9 539.4 L1489.2 547.5 L1490.8 533.1 L1492.8 519.1 L1495.5 508.9 L1498.2 500.0 L1500.8 497.1 L1503.5 496.5 L1505.9 494.7 L1506.9 507.7 L1508.3 533.5 L1509.8 520.4 L1511.1 515.9 L1513.5 515.0 L1516.8 512.1 L1519.5 507.0 L1520.9 500.0 L1522.2 487.3 L1523.9 472.1 L1525.8 464.2 L1527.5 478.4 L1529.3 507.7 L1531.2 530.5 L1532.9 538.4 L1534.6 529.2 L1536.9 516.5 L1539.6 507.7 L1542.3 492.4 L1545.2 482.4 L1547.2 493.7 L1549.3 511.5 L1551.2 519.7 L1553.6 521.8 L1557.0 521.0 L1559.2 520.4 L1559.9 497.5 L1560.7 484.8 L1561.6 481.1 L1563.2 489.9 L1565.0 497.5 L1566.6 499.9 L1568.3 496.5 L1569.9 495.1 L1571.7 500.0 L1573.3 516.5 L1575.0 531.8 L1576.6 537.3 L1578.4 526.7 L1581.0 511.5 L1583.7 498.8 L1586.4 484.8 L1589.5 474.8 L1591.3 489.9 L1593.1 517.8 L1594.8 539.4 L1596.1 547.5 L1597.7 533.1 L1599.7 519.1 L1602.4 508.9 L1605.1 500.0 L1607.8 497.1 L1610.4 496.5 L1612.8 494.7 L1613.8 507.7 L1615.2 533.5 L1616.7 520.4 L1618.0 515.9 L1620.4 515.0 L1623.8 512.1 L1626.5 507.0 L1627.8 500.0 L1629.1 487.3 L1630.9 472.1 L1632.7 464.2 L1634.5 478.4 L1636.2 507.7 L1638.1 530.5 L1639.8 538.4 L1641.6 529.2 L1643.8 516.5 L1646.5 507.7 L1649.2 492.4 L1652.1 482.4 L1654.1 493.7 L1656.3 511.5 L1658.1 519.7 L1660.6 521.8 L1663.9 521.0 L1666.2 520.4 L1666.8 497.5 L1667.6 484.8 L1668.6 481.1 L1670.2 489.9 L1671.9 497.5 L1673.5 499.9 L1675.3 496.5 L1676.9 495.1 L1678.6 500.0 L1680.2 516.5 L1681.9 531.8 L1683.5 537.3 L1685.3 526.7 L1688.0 511.5 L1690.6 498.8 L1693.3 484.8 L1696.4 474.8 L1698.3 489.9 L1700.0 517.8 L1701.7 539.4 L1703.1 547.5 L1704.7 533.1 L1706.7 519.1 L1709.4 508.9 L1712.0 500.0 L1714.7 497.1 L1717.4 496.5 L1719.5 494.9 M115.5 494.1 L118.2 533.3 L119.6 519.5 L121.0 516.2 L123.4 515.4 L126.7 510.8 L129.4 505.4 L130.7 498.1 L132.1 487.7 L133.8 471.7 L135.7 463.4 L137.4 478.3 L139.1 506.1 L141.0 530.2 L142.8 538.4 L144.5 528.8 L146.8 516.3 L149.4 507.3 L152.1 493.1 L155.1 482.5 L157.1 494.4 L159.2 510.1 L161.1 518.8 L163.5 521.0 L166.8 520.1 L169.1 519.5 L169.8 498.4 L170.6 485.0 L171.5 481.2 L173.1 490.4 L174.8 496.7 L176.5 497.9 L178.2 497.3 L179.8 495.9 L181.5 501.1 L183.1 515.5 L184.9 531.5 L186.5 537.3 L188.2 526.2 L190.9 511.3 L193.6 499.2 L196.2 485.0 L199.3 474.5 L201.2 490.4 L202.9 516.8 L204.7 539.5 L206.0 548.0 L207.6 532.8 L209.6 520.0 L212.3 510.4 L215.0 501.1 L217.6 498.0 L220.3 497.3 L222.7 495.5 L223.7 507.9 L225.1 533.3 L226.6 519.5 L227.9 514.8 L230.3 515.3 L233.6 510.8 L236.3 505.4 L237.7 498.1 L239.0 487.7 L240.7 471.7 L242.6 463.4 L244.3 478.3 L246.1 506.1 L248.0 530.2 L249.7 538.4 L251.4 528.8 L253.7 516.3 L256.4 507.3 L259.1 493.1 L262.0 482.5 L264.0 494.4 L266.1 510.1 L268.0 518.8 L270.4 521.0 L273.8 520.1 L276.0 519.5 L276.7 498.4 L277.5 485.0 L278.4 481.2 L280.0 490.4 L281.8 496.7 L283.4 497.9 L285.1 497.3 L286.7 495.9 L288.5 501.1 L290.1 515.5 L291.8 531.5 L293.4 537.3 L295.2 526.2 L297.8 511.3 L300.5 499.2 L303.2 485.0 L306.3 474.5 L308.1 490.4 L309.9 516.8 L311.6 539.5 L312.9 548.0 L314.5 532.8 L316.5 520.0 L319.2 510.4 L321.9 501.1 L324.6 498.0 L327.2 497.3 L329.6 495.5 L330.6 507.9 L332.0 533.3 L333.5 519.5 L334.8 514.8 L337.2 515.3 L340.6 510.8 L343.3 505.4 L344.6 498.1 L345.9 487.7 L347.7 471.7 L349.5 463.4 L351.3 478.3 L353.0 506.1 L354.9 530.2 L356.6 538.4 L358.4 528.8 L360.6 516.3 L363.3 507.3 L366.0 493.1 L368.9 482.5 L370.9 494.4 L373.1 510.1 L374.9 518.8 L377.4 521.0 L380.7 520.1 L383.0 519.5 L383.6 498.4 L384.4 485.0 L385.4 481.2 L387.0 490.4 L388.7 496.7 L390.3 497.9 L392.1 497.3 L393.7 495.9 L395.4 501.1 L397.0 515.5 L398.7 531.5 L400.3 537.3 L402.1 526.2 L404.8 511.3 L407.4 499.2 L410.1 485.0 L413.2 474.5 L415.1 490.4 L416.8 516.8 L418.5 539.5 L419.9 548.0 L421.5 532.8 L423.5 520.0 L426.2 510.4 L428.8 501.1 L431.5 498.0 L434.2 497.3 L436.6 495.5 L437.5 507.9 L439.0 533.3 L440.4 519.5 L441.8 514.8 L444.2 515.3 L447.5 510.8 L450.2 505.4 L451.5 498.1 L452.9 487.7 L454.6 471.7 L456.5 463.4 L458.2 478.3 L459.9 506.1 L461.8 530.2 L463.6 538.4 L465.3 528.8 L467.6 516.3 L470.2 507.3 L472.9 493.1 L475.9 482.5 L477.9 494.4 L480.0 510.1 L481.9 518.8 L484.3 521.0 L487.6 520.1 L489.9 519.5 L490.6 498.4 L491.4 485.0 L492.3 481.2 L493.9 490.4 L495.6 496.7 L497.3 497.9 L499.0 497.3 L500.6 495.9 L502.3 501.1 L503.9 515.5 L505.7 531.5 L507.3 537.3 L509.0 526.2 L511.7 511.3 L514.4 499.2 L517.0 485.0 L520.1 474.5 L522.0 490.4 L523.7 516.8 L525.5 539.5 L526.8 548.0 L528.4 532.8 L530.4 520.0 L533.1 510.4 L535.8 501.1 L538.4 498.0 L541.1 497.3 L543.5 495.5 L544.5 507.9 L545.9 533.3 L547.4 519.5 L548.7 514.8 L551.1 515.3 L554.4 510.8 L557.1 505.4 L558.5 498.1 L559.8 487.7 L561.5 471.7 L563.4 463.4 L565.1 478.3 L566.9 506.1 L568.8 530.2 L570.5 538.4 L572.2 528.8 L574.5 516.3 L577.2 507.3 L579.9 493.1 L582.8 482.5 L584.8 494.4 L586.9 510.1 L588.8 518.8 L591.2 521.0 L594.6 520.1 L596.8 519.5 L597.5 498.4 L598.3 485.0 L599.2 481.2 L600.8 490.4 L602.6 496.7 L604.2 497.9 L605.9 497.3 L607.5 495.9 L609.3 501.1 L610.9 515.5 L612.6 531.5 L614.2 537.3 L616.0 526.2 L618.6 511.3 L621.3 499.2 L624.0 485.0 L627.1 474.5 L628.9 490.4 L630.7 516.8 L632.4 539.5 L633.7 548.0 L635.3 532.8 L637.3 520.0 L640.0 510.4 L642.7 501.1 L645.4 498.0 L648.0 497.3 L650.4 495.5 L651.4 506.1 L652.7 523.7 L654.0 510.1 L655.8 503.4 L657.6 505.1 L661.4 500.0 L664.7 501.2 L666.1 492.7 L667.8 479.7 L670.1 466.5 L672.1 489.0 L673.7 519.5 L675.4 543.5 L677.4 555.4 L679.4 546.2 L682.8 528.8 L685.5 513.7 L687.9 495.7 L690.1 485.5 L692.4 501.1 L694.2 508.8 L696.2 513.3 L699.5 508.8 L702.8 504.1 L703.9 493.3 L704.8 475.7 L706.2 465.8 L707.9 478.3 L710.2 483.6 L712.2 483.0 L713.9 481.9 L715.5 493.1 L717.3 516.8 L718.9 536.8 L720.6 545.4 L723.6 535.5 L726.9 519.9 L730.3 506.4 L732.3 497.1 L734.3 492.6 L736.0 509.1 L737.9 532.8 L739.6 552.9 L740.5 560.1 L742.3 543.5 L744.3 520.8 L746.3 505.1 L749.0 490.4 L751.6 483.7 L754.3 481.3 L757.0 479.4 L758.1 495.6 L759.4 516.0 L761.0 510.1 L762.7 501.7 L764.6 504.4 L768.3 500.0 L771.7 501.2 L773.0 492.7 L774.7 479.7 L777.0 466.5 L779.0 489.0 L780.6 519.5 L782.4 543.5 L784.4 555.4 L786.4 546.2 L789.7 528.8 L792.4 513.7 L794.8 495.7 L797.1 485.5 L799.3 501.1 L801.1 508.8 L803.1 513.3 L806.4 508.8 L809.8 504.1 L810.8 493.3 L811.8 475.7 L813.1 465.8 L814.9 478.3 L817.1 483.6 L819.1 483.0 L820.9 481.9 L822.5 493.1 L824.2 516.8 L825.8 536.8 L827.6 545.4 L830.5 535.5 L833.8 519.9 L837.2 506.4 L839.2 497.1 L841.2 492.6 L842.9 509.1 L844.8 532.8 L846.5 552.9 L847.5 560.1 L849.2 543.5 L851.2 520.8 L853.2 505.1 L855.9 490.4 L858.6 483.7 L861.3 481.3 L863.9 479.4 L865.0 495.6 L866.3 516.0 L867.9 510.1 L869.6 501.7 L871.5 504.4 L875.3 500.0 L878.6 501.2 L879.9 492.7 L881.7 479.7 L884.0 466.5 L886.0 489.0 L887.6 519.5 L889.3 543.5 L891.3 555.4 L893.3 546.2 L896.7 528.8 L899.3 513.7 L901.7 495.7 L904.0 485.5 L906.3 501.1 L908.0 508.8 L910.0 513.3 L913.4 508.8 L916.7 504.1 L917.8 493.3 L918.7 475.7 L920.1 465.8 L921.8 478.3 L924.1 483.6 L926.1 483.0 L927.8 481.9 L929.4 493.1 L931.2 516.8 L932.8 536.8 L934.5 545.4 L937.4 535.5 L940.8 519.9 L944.1 506.4 L946.1 497.1 L948.1 492.6 L949.9 509.1 L951.7 532.8 L953.5 552.9 L954.4 560.1 L956.2 543.5 L958.2 520.8 L960.2 505.1 L962.8 490.4 L965.5 483.7 L968.2 481.3 L970.9 479.4 L971.9 495.6 L973.3 516.0 L974.8 510.1 L976.6 501.7 L978.4 504.4 L982.2 500.0 L985.5 501.2 L986.9 492.7 L988.6 479.7 L990.9 466.5 L992.9 489.0 L994.5 519.5 L996.2 543.5 L998.2 555.4 L1000.2 546.2 L1003.6 528.8 L1006.3 513.7 L1008.7 495.7 L1010.9 485.5 L1013.2 501.1 L1015.0 508.8 L1017.0 513.3 L1020.3 508.8 L1023.6 504.1 L1024.7 493.3 L1025.6 475.7 L1027.0 465.8 L1028.7 478.3 L1031.0 483.6 L1033.0 483.0 L1034.7 481.9 L1036.3 493.1 L1038.1 516.8 L1039.7 536.8 L1041.4 545.4 L1044.4 535.5 L1047.7 519.9 L1051.1 506.4 L1053.1 497.1 L1055.1 492.6 L1056.8 509.1 L1058.7 532.8 L1060.4 552.9 L1061.3 560.1 L1063.1 543.5 L1065.1 520.8 L1067.1 505.1 L1069.8 490.4 L1072.4 483.7 L1075.1 481.3 L1077.8 479.4 L1078.9 495.6 L1080.2 516.0 L1081.8 510.1 L1083.5 501.7 L1085.4 504.4 L1089.1 500.0 L1092.5 501.2 L1093.8 492.7 L1095.5 479.7 L1097.8 466.5 L1099.8 489.0 L1101.4 519.5 L1103.2 543.5 L1105.2 555.4 L1107.2 546.2 L1110.5 528.8 L1113.2 513.7 L1115.6 495.7 L1117.9 485.5 L1120.1 501.1 L1121.9 508.8 L1123.9 513.3 L1127.2 508.8 L1130.6 504.1 L1131.6 493.3 L1132.6 475.7 L1133.9 465.8 L1135.7 478.3 L1137.9 483.6 L1139.9 483.0 L1141.7 481.9 L1143.3 493.1 L1145.0 516.8 L1146.6 536.8 L1148.4 545.4 L1151.3 535.5 L1154.6 519.9 L1158.0 506.4 L1160.0 497.1 L1162.0 492.6 L1163.7 509.1 L1165.6 532.8 L1167.3 552.9 L1168.3 560.1 L1170.0 543.5 L1172.0 520.8 L1174.0 505.1 L1176.7 490.4 L1179.4 483.7 L1182.1 481.3 L1184.7 479.4 L1185.8 498.1 L1187.3 525.6 L1189.0 518.9 L1190.3 514.4 L1192.7 514.4 L1196.0 510.6 L1198.7 505.5 L1200.1 498.5 L1201.4 488.8 L1203.1 473.6 L1205.0 465.7 L1206.7 479.9 L1208.5 506.2 L1210.4 529.0 L1212.1 536.9 L1213.8 527.7 L1216.1 515.9 L1218.8 507.4 L1221.5 493.9 L1224.4 483.9 L1226.4 495.2 L1228.5 510.0 L1230.4 518.2 L1232.8 520.3 L1236.2 519.5 L1238.4 518.9 L1239.1 499.0 L1239.9 486.3 L1240.8 482.6 L1242.4 491.4 L1244.2 497.3 L1245.8 498.4 L1247.5 498.0 L1249.1 496.6 L1250.9 501.5 L1252.5 515.2 L1254.2 530.3 L1255.8 535.8 L1257.6 525.2 L1260.2 511.1 L1262.9 499.7 L1265.6 486.3 L1268.7 476.3 L1270.5 491.4 L1272.3 516.3 L1274.0 537.9 L1275.3 546.0 L1276.9 531.6 L1278.9 519.5 L1281.6 510.4 L1284.3 501.5 L1287.0 498.6 L1289.6 498.0 L1292.0 496.2 L1293.0 508.0 L1294.4 532.0 L1295.9 518.9 L1297.2 514.5 L1299.6 514.9 L1303.0 510.6 L1305.7 505.5 L1307.0 498.5 L1308.3 488.8 L1310.1 473.6 L1311.9 465.7 L1313.7 479.9 L1315.4 506.2 L1317.3 529.0 L1319.0 536.9 L1320.8 527.7 L1323.0 515.9 L1325.7 507.4 L1328.4 493.9 L1331.3 483.9 L1333.3 495.2 L1335.5 510.0 L1337.3 518.2 L1339.8 520.3 L1343.1 519.5 L1345.4 518.9 L1346.0 499.0 L1346.8 486.3 L1347.8 482.6 L1349.4 491.4 L1351.1 497.3 L1352.7 498.4 L1354.5 498.0 L1356.1 496.6 L1357.8 501.5 L1359.4 515.2 L1361.1 530.3 L1362.7 535.8 L1364.5 525.2 L1367.2 511.1 L1369.8 499.7 L1372.5 486.3 L1375.6 476.3 L1377.5 491.4 L1379.2 516.3 L1380.9 537.9 L1382.3 546.0 L1383.9 531.6 L1385.9 519.5 L1388.6 510.4 L1391.2 501.5 L1393.9 498.6 L1396.6 498.0 L1399.0 496.2 L1399.9 508.0 L1401.4 532.0 L1402.8 518.9 L1404.2 514.5 L1406.6 514.9 L1409.9 510.6 L1412.6 505.5 L1413.9 498.5 L1415.3 488.8 L1417.0 473.6 L1418.9 465.7 L1420.6 479.9 L1422.3 506.2 L1424.2 529.0 L1426.0 536.9 L1427.7 527.7 L1430.0 515.9 L1432.6 507.4 L1435.3 493.9 L1438.3 483.9 L1440.3 495.2 L1442.4 510.0 L1444.3 518.2 L1446.7 520.3 L1450.0 519.5 L1452.3 518.9 L1453.0 499.0 L1453.8 486.3 L1454.7 482.6 L1456.3 491.4 L1458.0 497.3 L1459.7 498.4 L1461.4 498.0 L1463.0 496.6 L1464.7 501.5 L1466.3 515.2 L1468.1 530.3 L1469.7 535.8 L1471.4 525.2 L1474.1 511.1 L1476.8 499.7 L1479.4 486.3 L1482.5 476.3 L1484.4 491.4 L1486.1 516.3 L1487.9 537.9 L1489.2 546.0 L1490.8 531.6 L1492.8 519.5 L1495.5 510.4 L1498.2 501.5 L1500.8 498.6 L1503.5 498.0 L1505.9 496.2 L1506.9 508.0 L1508.3 532.0 L1509.8 518.9 L1511.1 514.5 L1513.5 514.9 L1516.8 510.6 L1519.5 505.5 L1520.9 498.5 L1522.2 488.8 L1523.9 473.6 L1525.8 465.7 L1527.5 479.9 L1529.3 506.2 L1531.2 529.0 L1532.9 536.9 L1534.6 527.7 L1536.9 515.9 L1539.6 507.4 L1542.3 493.9 L1545.2 483.9 L1547.2 495.2 L1549.3 510.0 L1551.2 518.2 L1553.6 520.3 L1557.0 519.5 L1559.2 518.9 L1559.9 499.0 L1560.7 486.3 L1561.6 482.6 L1563.2 491.4 L1565.0 497.3 L1566.6 498.4 L1568.3 498.0 L1569.9 496.6 L1571.7 501.5 L1573.3 515.2 L1575.0 530.3 L1576.6 535.8 L1578.4 525.2 L1581.0 511.1 L1583.7 499.7 L1586.4 486.3 L1589.5 476.3 L1591.3 491.4 L1593.1 516.3 L1594.8 537.9 L1596.1 546.0 L1597.7 531.6 L1599.7 519.5 L1602.4 510.4 L1605.1 501.5 L1607.8 498.6 L1610.4 498.0 L1612.8 496.2 L1613.8 508.0 L1615.2 532.0 L1616.7 518.9 L1618.0 514.5 L1620.4 514.9 L1623.8 510.6 L1626.5 505.5 L1627.8 498.5 L1629.1 488.8 L1630.9 473.6 L1632.7 465.7 L1634.5 479.9 L1636.2 506.2 L1638.1 529.0 L1639.8 536.9 L1641.6 527.7 L1643.8 515.9 L1646.5 507.4 L1649.2 493.9 L1652.1 483.9 L1654.1 495.2 L1656.3 510.0 L1658.1 518.2 L1660.6 520.3 L1663.9 519.5 L1666.2 518.9 L1666.8 499.0 L1667.6 486.3 L1668.6 482.6 L1670.2 491.4 L1671.9 497.3 L1673.5 498.4 L1675.3 498.0 L1676.9 496.6 L1678.6 501.5 L1680.2 515.2 L1681.9 530.3 L1683.5 535.8 L1685.3 525.2 L1688.0 511.1 L1690.6 499.7 L1693.3 486.3 L1696.4 476.3 L1698.3 491.4 L1700.0 516.3 L1701.7 537.9 L1703.1 546.0 L1704.7 531.6 L1706.7 519.5 L1709.4 510.4 L1712.0 501.5 L1714.7 498.6 L1717.4 497.3 L1719.5 495.9 M115.5 495.6 L118.2 531.8 L119.6 518.0 L121.0 516.1 L123.4 515.5 L126.7 509.3 L129.4 503.9 L130.7 496.6 L132.1 489.2 L133.8 473.2 L135.7 464.9 L137.4 479.8 L139.1 504.6 L141.0 528.7 L142.8 536.9 L144.5 527.3 L146.8 515.7 L149.4 507.0 L152.1 494.6 L155.1 484.0 L157.1 495.9 L159.2 508.6 L161.1 517.3 L163.5 519.5 L166.8 518.6 L169.1 518.0 L169.8 499.9 L170.6 486.5 L171.5 482.7 L173.1 491.9 L174.8 496.4 L176.5 496.4 L178.2 498.8 L179.8 497.4 L181.5 502.6 L183.1 514.0 L184.9 530.0 L186.5 535.8 L188.2 524.7 L190.9 510.9 L193.6 500.1 L196.2 486.5 L199.3 476.0 L201.2 491.9 L202.9 515.3 L204.7 538.0 L206.0 546.5 L207.6 531.3 L209.6 520.4 L212.3 511.9 L215.0 502.6 L217.6 499.5 L220.3 498.8 L222.7 497.0 L223.7 508.2 L225.1 531.8 L226.6 518.0 L227.9 513.3 L230.3 515.2 L233.6 509.3 L236.3 503.9 L237.7 496.6 L239.0 489.2 L240.7 473.2 L242.6 464.9 L244.3 479.8 L246.1 504.6 L248.0 528.7 L249.7 536.9 L251.4 527.3 L253.7 515.7 L256.4 507.0 L259.1 494.6 L262.0 484.0 L264.0 495.9 L266.1 508.6 L268.0 517.3 L270.4 519.5 L273.8 518.6 L276.0 518.0 L276.7 499.9 L277.5 486.5 L278.4 482.7 L280.0 491.9 L281.8 496.4 L283.4 496.4 L285.1 498.8 L286.7 497.4 L288.5 502.6 L290.1 514.0 L291.8 530.0 L293.4 535.8 L295.2 524.7 L297.8 510.9 L300.5 500.1 L303.2 486.5 L306.3 476.0 L308.1 491.9 L309.9 515.3 L311.6 538.0 L312.9 546.5 L314.5 531.3 L316.5 520.4 L319.2 511.9 L321.9 502.6 L324.6 499.5 L327.2 498.8 L329.6 497.0 L330.6 508.2 L332.0 531.8 L333.5 518.0 L334.8 513.3 L337.2 515.2 L340.6 509.3 L343.3 503.9 L344.6 496.6 L345.9 489.2 L347.7 473.2 L349.5 464.9 L351.3 479.8 L353.0 504.6 L354.9 528.7 L356.6 536.9 L358.4 527.3 L360.6 515.7 L363.3 507.0 L366.0 494.6 L368.9 484.0 L370.9 495.9 L373.1 508.6 L374.9 517.3 L377.4 519.5 L380.7 518.6 L383.0 518.0 L383.6 499.9 L384.4 486.5 L385.4 482.7 L387.0 491.9 L388.7 496.4 L390.3 496.4 L392.1 498.8 L393.7 497.4 L395.4 502.6 L397.0 514.0 L398.7 530.0 L400.3 535.8 L402.1 524.7 L404.8 510.9 L407.4 500.1 L410.1 486.5 L413.2 476.0 L415.1 491.9 L416.8 515.3 L418.5 538.0 L419.9 546.5 L421.5 531.3 L423.5 520.4 L426.2 511.9 L428.8 502.6 L431.5 499.5 L434.2 498.8 L436.6 497.0 L437.5 508.2 L439.0 531.8 L440.4 518.0 L441.8 513.3 L444.2 515.2 L447.5 509.3 L450.2 503.9 L451.5 496.6 L452.9 489.2 L454.6 473.2 L456.5 464.9 L458.2 479.8 L459.9 504.6 L461.8 528.7 L463.6 536.9 L465.3 527.3 L467.6 515.7 L470.2 507.0 L472.9 494.6 L475.9 484.0 L477.9 495.9 L480.0 508.6 L481.9 517.3 L484.3 519.5 L487.6 518.6 L489.9 518.0 L490.6 499.9 L491.4 486.5 L492.3 482.7 L493.9 491.9 L495.6 496.4 L497.3 496.4 L499.0 498.8 L500.6 497.4 L502.3 502.6 L503.9 514.0 L505.7 530.0 L507.3 535.8 L509.0 524.7 L511.7 510.9 L514.4 500.1 L517.0 486.5 L520.1 476.0 L522.0 491.9 L523.7 515.3 L525.5 538.0 L526.8 546.5 L528.4 531.3 L530.4 520.4 L533.1 511.9 L535.8 502.6 L538.4 499.5 L541.1 498.8 L543.5 497.0 L544.5 508.2 L545.9 531.8 L547.4 518.0 L548.7 513.3 L551.1 515.2 L554.4 509.3 L557.1 503.9 L558.5 496.6 L559.8 489.2 L561.5 473.2 L563.4 464.9 L565.1 479.8 L566.9 504.6 L568.8 528.7 L570.5 536.9 L572.2 527.3 L574.5 515.7 L577.2 507.0 L579.9 494.6 L582.8 484.0 L584.8 495.9 L586.9 508.6 L588.8 517.3 L591.2 519.5 L594.6 518.6 L596.8 518.0 L597.5 499.9 L598.3 486.5 L599.2 482.7 L600.8 491.9 L602.6 496.4 L604.2 496.4 L605.9 498.8 L607.5 497.4 L609.3 502.6 L610.9 514.0 L612.6 530.0 L614.2 535.8 L616.0 524.7 L618.6 510.9 L621.3 500.1 L624.0 486.5 L627.1 476.0 L628.9 491.9 L630.7 515.3 L632.4 538.0 L633.7 546.5 L635.3 531.3 L637.3 520.4 L640.0 511.9 L642.7 502.6 L645.4 499.5 L648.0 498.8 L650.4 497.0 L651.4 504.6 L652.7 522.2 L654.0 508.6 L655.8 504.8 L657.6 505.8 L661.4 499.2 L664.7 499.7 L666.1 491.2 L667.8 481.2 L670.1 468.0 L672.1 490.5 L673.7 518.0 L675.4 542.0 L677.4 553.9 L679.4 544.7 L682.8 527.3 L685.5 514.5 L687.9 497.2 L690.1 487.0 L692.4 502.6 L694.2 507.3 L696.2 511.8 L699.5 507.3 L702.8 502.6 L703.9 492.4 L704.8 477.2 L706.2 467.3 L707.9 479.8 L710.2 483.1 L712.2 484.5 L713.9 483.4 L715.5 494.6 L717.3 515.3 L718.9 535.3 L720.6 543.9 L723.6 534.0 L726.9 520.1 L730.3 507.9 L732.3 498.6 L734.3 494.1 L736.0 510.6 L737.9 531.3 L739.6 551.4 L740.5 558.6 L742.3 542.0 L744.3 520.7 L746.3 506.6 L749.0 491.9 L751.6 485.2 L754.3 482.8 L757.0 480.9 L758.1 494.4 L759.4 514.5 L761.0 508.6 L762.7 501.4 L764.6 504.4 L768.3 499.2 L771.7 499.7 L773.0 491.2 L774.7 481.2 L777.0 468.0 L779.0 490.5 L780.6 518.0 L782.4 542.0 L784.4 553.9 L786.4 544.7 L789.7 527.3 L792.4 514.5 L794.8 497.2 L797.1 487.0 L799.3 502.6 L801.1 507.3 L803.1 511.8 L806.4 507.3 L809.8 502.6 L810.8 492.4 L811.8 477.2 L813.1 467.3 L814.9 479.8 L817.1 483.1 L819.1 484.5 L820.9 483.4 L822.5 494.6 L824.2 515.3 L825.8 535.3 L827.6 543.9 L830.5 534.0 L833.8 520.1 L837.2 507.9 L839.2 498.6 L841.2 494.1 L842.9 510.6 L844.8 531.3 L846.5 551.4 L847.5 558.6 L849.2 542.0 L851.2 520.7 L853.2 506.6 L855.9 491.9 L858.6 485.2 L861.3 482.8 L863.9 480.9 L865.0 494.4 L866.3 514.5 L867.9 508.6 L869.6 501.4 L871.5 504.4 L875.3 499.2 L878.6 499.7 L879.9 491.2 L881.7 481.2 L884.0 468.0 L886.0 490.5 L887.6 518.0 L889.3 542.0 L891.3 553.9 L893.3 544.7 L896.7 527.3 L899.3 514.5 L901.7 497.2 L904.0 487.0 L906.3 502.6 L908.0 507.3 L910.0 511.8 L913.4 507.3 L916.7 502.6 L917.8 492.4 L918.7 477.2 L920.1 467.3 L921.8 479.8 L924.1 483.1 L926.1 484.5 L927.8 483.4 L929.4 494.6 L931.2 515.3 L932.8 535.3 L934.5 543.9 L937.4 534.0 L940.8 520.1 L944.1 507.9 L946.1 498.6 L948.1 494.1 L949.9 510.6 L951.7 531.3 L953.5 551.4 L954.4 558.6 L956.2 542.0 L958.2 520.7 L960.2 506.6 L962.8 491.9 L965.5 485.2 L968.2 482.8 L970.9 480.9 L971.9 494.4 L973.3 514.5 L974.8 508.6 L976.6 501.4 L978.4 504.4 L982.2 499.2 L985.5 499.7 L986.9 491.2 L988.6 481.2 L990.9 468.0 L992.9 490.5 L994.5 518.0 L996.2 542.0 L998.2 553.9 L1000.2 544.7 L1003.6 527.3 L1006.3 514.5 L1008.7 497.2 L1010.9 487.0 L1013.2 502.6 L1015.0 507.3 L1017.0 511.8 L1020.3 507.3 L1023.6 502.6 L1024.7 492.4 L1025.6 477.2 L1027.0 467.3 L1028.7 479.8 L1031.0 483.1 L1033.0 484.5 L1034.7 483.4 L1036.3 494.6 L1038.1 515.3 L1039.7 535.3 L1041.4 543.9 L1044.4 534.0 L1047.7 520.1 L1051.1 507.9 L1053.1 498.6 L1055.1 494.1 L1056.8 510.6 L1058.7 531.3 L1060.4 551.4 L1061.3 558.6 L1063.1 542.0 L1065.1 520.7 L1067.1 506.6 L1069.8 491.9 L1072.4 485.2 L1075.1 482.8 L1077.8 480.9 L1078.9 494.4 L1080.2 514.5 L1081.8 508.6 L1083.5 501.4 L1085.4 504.4 L1089.1 499.2 L1092.5 499.7 L1093.8 491.2 L1095.5 481.2 L1097.8 468.0 L1099.8 490.5 L1101.4 518.0 L1103.2 542.0 L1105.2 553.9 L1107.2 544.7 L1110.5 527.3 L1113.2 514.5 L1115.6 497.2 L1117.9 487.0 L1120.1 502.6 L1121.9 507.3 L1123.9 511.8 L1127.2 507.3 L1130.6 502.6 L1131.6 492.4 L1132.6 477.2 L1133.9 467.3 L1135.7 479.8 L1137.9 483.1 L1139.9 484.5 L1141.7 483.4 L1143.3 494.6 L1145.0 515.3 L1146.6 535.3 L1148.4 543.9 L1151.3 534.0 L1154.6 520.1 L1158.0 507.9 L1160.0 498.6 L1162.0 494.1 L1163.7 510.6 L1165.6 531.3 L1167.3 551.4 L1168.3 558.6 L1170.0 542.0 L1172.0 520.7 L1174.0 506.6 L1176.7 491.9 L1179.4 485.2 L1182.1 482.8 L1184.7 480.9 L1185.8 499.2 L1187.3 524.1 L1189.0 517.4 L1190.3 512.9 L1192.7 513.8 L1196.0 509.1 L1198.7 504.0 L1200.1 497.0 L1201.4 490.3 L1203.1 475.1 L1205.0 467.2 L1206.7 481.4 L1208.5 504.7 L1210.4 527.5 L1212.1 535.4 L1213.8 526.2 L1216.1 515.3 L1218.8 507.1 L1221.5 495.4 L1224.4 485.4 L1226.4 496.7 L1228.5 508.5 L1230.4 516.7 L1232.8 518.8 L1236.2 518.0 L1238.4 517.4 L1239.1 500.5 L1239.9 487.8 L1240.8 484.1 L1242.4 492.9 L1244.2 497.0 L1245.8 496.9 L1247.5 499.5 L1249.1 498.1 L1250.9 503.0 L1252.5 513.8 L1254.2 528.8 L1255.8 534.3 L1257.6 523.7 L1260.2 510.8 L1262.9 500.6 L1265.6 487.8 L1268.7 477.8 L1270.5 492.9 L1272.3 514.8 L1274.0 536.4 L1275.3 544.5 L1276.9 530.1 L1278.9 519.8 L1281.6 511.9 L1284.3 503.0 L1287.0 500.1 L1289.6 499.5 L1292.0 497.7 L1293.0 508.2 L1294.4 530.5 L1295.9 517.4 L1297.2 513.0 L1299.6 514.8 L1303.0 509.1 L1305.7 504.0 L1307.0 497.0 L1308.3 490.3 L1310.1 475.1 L1311.9 467.2 L1313.7 481.4 L1315.4 504.7 L1317.3 527.5 L1319.0 535.4 L1320.8 526.2 L1323.0 515.3 L1325.7 507.1 L1328.4 495.4 L1331.3 485.4 L1333.3 496.7 L1335.5 508.5 L1337.3 516.7 L1339.8 518.8 L1343.1 518.0 L1345.4 517.4 L1346.0 500.5 L1346.8 487.8 L1347.8 484.1 L1349.4 492.9 L1351.1 497.0 L1352.7 496.9 L1354.5 499.5 L1356.1 498.1 L1357.8 503.0 L1359.4 513.8 L1361.1 528.8 L1362.7 534.3 L1364.5 523.7 L1367.2 510.8 L1369.8 500.6 L1372.5 487.8 L1375.6 477.8 L1377.5 492.9 L1379.2 514.8 L1380.9 536.4 L1382.3 544.5 L1383.9 530.1 L1385.9 519.8 L1388.6 511.9 L1391.2 503.0 L1393.9 500.1 L1396.6 499.5 L1399.0 497.7 L1399.9 508.2 L1401.4 530.5 L1402.8 517.4 L1404.2 513.0 L1406.6 514.8 L1409.9 509.1 L1412.6 504.0 L1413.9 497.0 L1415.3 490.3 L1417.0 475.1 L1418.9 467.2 L1420.6 481.4 L1422.3 504.7 L1424.2 527.5 L1426.0 535.4 L1427.7 526.2 L1430.0 515.3 L1432.6 507.1 L1435.3 495.4 L1438.3 485.4 L1440.3 496.7 L1442.4 508.5 L1444.3 516.7 L1446.7 518.8 L1450.0 518.0 L1452.3 517.4 L1453.0 500.5 L1453.8 487.8 L1454.7 484.1 L1456.3 492.9 L1458.0 497.0 L1459.7 496.9 L1461.4 499.5 L1463.0 498.1 L1464.7 503.0 L1466.3 513.8 L1468.1 528.8 L1469.7 534.3 L1471.4 523.7 L1474.1 510.8 L1476.8 500.6 L1479.4 487.8 L1482.5 477.8 L1484.4 492.9 L1486.1 514.8 L1487.9 536.4 L1489.2 544.5 L1490.8 530.1 L1492.8 519.8 L1495.5 511.9 L1498.2 503.0 L1500.8 500.1 L1503.5 499.5 L1505.9 497.7 L1506.9 508.2 L1508.3 530.5 L1509.8 517.4 L1511.1 513.0 L1513.5 514.8 L1516.8 509.1 L1519.5 504.0 L1520.9 497.0 L1522.2 490.3 L1523.9 475.1 L1525.8 467.2 L1527.5 481.4 L1529.3 504.7 L1531.2 527.5 L1532.9 535.4 L1534.6 526.2 L1536.9 515.3 L1539.6 507.1 L1542.3 495.4 L1545.2 485.4 L1547.2 496.7 L1549.3 508.5 L1551.2 516.7 L1553.6 518.8 L1557.0 518.0 L1559.2 517.4 L1559.9 500.5 L1560.7 487.8 L1561.6 484.1 L1563.2 492.9 L1565.0 497.0 L1566.6 496.9 L1568.3 499.5 L1569.9 498.1 L1571.7 503.0 L1573.3 513.8 L1575.0 528.8 L1576.6 534.3 L1578.4 523.7 L1581.0 510.8 L1583.7 500.6 L1586.4 487.8 L1589.5 477.8 L1591.3 492.9 L1593.1 514.8 L1594.8 536.4 L1596.1 544.5 L1597.7 530.1 L1599.7 519.8 L1602.4 511.9 L1605.1 503.0 L1607.8 500.1 L1610.4 499.5 L1612.8 497.7 L1613.8 508.2 L1615.2 530.5 L1616.7 517.4 L1618.0 513.0 L1620.4 514.8 L1623.8 509.1 L1626.5 504.0 L1627.8 497.0 L1629.1 490.3 L1630.9 475.1 L1632.7 467.2 L1634.5 481.4 L1636.2 504.7 L1638.1 527.5 L1639.8 535.4 L1641.6 526.2 L1643.8 515.3 L1646.5 507.1 L1649.2 495.4 L1652.1 485.4 L1654.1 496.7 L1656.3 508.5 L1658.1 516.7 L1660.6 518.8 L1663.9 518.0 L1666.2 517.4 L1666.8 500.5 L1667.6 487.8 L1668.6 484.1 L1670.2 492.9 L1671.9 497.0 L1673.5 496.9 L1675.3 499.5 L1676.9 498.1 L1678.6 503.0 L1680.2 513.8 L1681.9 528.8 L1683.5 534.3 L1685.3 523.7 L1688.0 510.8 L1690.6 500.6 L1693.3 487.8 L1696.4 477.8 L1698.3 492.9 L1700.0 514.8 L1701.7 536.4 L1703.1 544.5 L1704.7 530.1 L1706.7 519.8 L1709.4 511.9 L1712.0 503.0 L1714.7 500.1 L1717.4 498.1 L1719.5 496.9" fill="none" stroke="#00ff00" stroke-width="5.70" stroke-linejoin="round" stroke-linecap="butt"/>
<text transform="translate(115.00 668.10) scale(0.9600 1)" font-size="40.30" text-anchor="middle">20</text>
<text transform="translate(382.33 668.10) scale(0.9600 1)" font-size="40.30" text-anchor="middle">25</text>
<text transform="translate(649.67 668.10) scale(0.9600 1)" font-size="40.30" text-anchor="middle">30</text>
<text transform="translate(917.00 668.10) scale(0.9600 1)" font-size="40.30" text-anchor="middle">35</text>
<text transform="translate(1184.33 668.10) scale(0.9600 1)" font-size="40.30" text-anchor="middle">40</text>
<text transform="translate(1451.67 668.10) scale(0.9600 1)" font-size="40.30" text-anchor="middle">45</text>
<text transform="translate(1719.00 668.10) scale(0.9600 1)" font-size="40.30" text-anchor="middle">50</text>
<text transform="translate(101.40 451.90) scale(0.9600 1)" font-size="40.60" text-anchor="end">1</text>
<text transform="translate(102.90 523.70) scale(0.9600 1)" font-size="40.60" text-anchor="end">0</text>
<text transform="translate(101.40 595.50) scale(0.9600 1)" font-size="40.60" text-anchor="end">-1</text>
<text transform="translate(131.50 396.90) scale(1.0000 1)" font-size="48.70" text-anchor="middle">×</text>
<text transform="translate(189.00 390.90) scale(0.9600 1)" font-size="40.30" text-anchor="end">10</text>
<text transform="translate(191.30 374.20) scale(0.9550 1)" font-size="31.50" text-anchor="start">-4</text>
<text transform="translate(49.00 509.60) rotate(-90) scale(0.9450 1)" font-size="45.50" text-anchor="middle">C2 Error (m)</text>
</g>
<g>
<line x1="382.63" y1="739.50" x2="382.63" y2="955.30" stroke="#dedede" stroke-width="3.40"/>
<line x1="649.97" y1="739.50" x2="649.97" y2="955.30" stroke="#dedede" stroke-width="3.40"/>
<line x1="917.30" y1="739.50" x2="917.30" y2="955.30" stroke="#dedede" stroke-width="3.40"/>
<line x1="1184.63" y1="739.50" x2="1184.63" y2="955.30" stroke="#dedede" stroke-width="3.40"/>
<line x1="1451.97" y1="739.50" x2="1451.97" y2="955.30" stroke="#dedede" stroke-width="3.40"/>
<line x1="115.50" y1="775.47" x2="1719.50" y2="775.47" stroke="#dedede" stroke-width="3.30"/>
<line x1="115.50" y1="847.40" x2="1719.50" y2="847.40" stroke="#dedede" stroke-width="3.30"/>
<line x1="115.50" y1="919.33" x2="1719.50" y2="919.33" stroke="#dedede" stroke-width="3.30"/>
<line x1="382.83" y1="955.30" x2="382.83" y2="937.90" stroke="#262626" stroke-width="3.00"/>
<line x1="382.83" y1="739.50" x2="382.83" y2="756.90" stroke="#262626" stroke-width="3.00"/>
<line x1="650.17" y1="955.30" x2="650.17" y2="937.90" stroke="#262626" stroke-width="3.00"/>
<line x1="650.17" y1="739.50" x2="650.17" y2="756.90" stroke="#262626" stroke-width="3.00"/>
<line x1="917.50" y1="955.30" x2="917.50" y2="937.90" stroke="#262626" stroke-width="3.00"/>
<line x1="917.50" y1="739.50" x2="917.50" y2="756.90" stroke="#262626" stroke-width="3.00"/>
<line x1="1184.83" y1="955.30" x2="1184.83" y2="937.90" stroke="#262626" stroke-width="3.00"/>
<line x1="1184.83" y1="739.50" x2="1184.83" y2="756.90" stroke="#262626" stroke-width="3.00"/>
<line x1="1452.17" y1="955.30" x2="1452.17" y2="937.90" stroke="#262626" stroke-width="3.00"/>
<line x1="1452.17" y1="739.50" x2="1452.17" y2="756.90" stroke="#262626" stroke-width="3.00"/>
<line x1="115.50" y1="775.47" x2="132.90" y2="775.47" stroke="#262626" stroke-width="3.30"/>
<line x1="1719.50" y1="775.47" x2="1702.10" y2="775.47" stroke="#262626" stroke-width="3.30"/>
<line x1="115.50" y1="847.40" x2="132.90" y2="847.40" stroke="#262626" stroke-width="3.30"/>
<line x1="1719.50" y1="847.40" x2="1702.10" y2="847.40" stroke="#262626" stroke-width="3.30"/>
<line x1="115.50" y1="919.33" x2="132.90" y2="919.33" stroke="#262626" stroke-width="3.30"/>
<line x1="1719.50" y1="919.33" x2="1702.10" y2="919.33" stroke="#262626" stroke-width="3.30"/>
<line x1="114.00" y1="739.50" x2="1721.00" y2="739.50" stroke="#262626" stroke-width="2.90"/>
<line x1="114.00" y1="955.30" x2="1721.00" y2="955.30" stroke="#262626" stroke-width="3.00"/>
<line x1="115.50" y1="737.85" x2="115.50" y2="956.95" stroke="#262626" stroke-width="3.00"/>
<line x1="1719.50" y1="737.85" x2="1719.50" y2="956.95" stroke="#262626" stroke-width="3.00"/>
<path d="M115.5 819.7 L118.2 858.8 L120.7 853.6 L123.4 850.3 L125.0 842.9 L127.1 840.0 L130.1 843.4 L132.1 837.6 L135.0 832.7 L136.7 840.2 L138.1 849.6 L139.7 853.5 L141.4 845.6 L143.2 843.1 L146.1 844.9 L148.8 850.3 L150.8 852.1 L153.5 848.9 L156.1 845.1 L158.8 847.6 L161.5 853.0 L164.8 855.6 L166.8 863.0 L169.2 880.2 L170.0 859.0 L170.6 837.6 L171.5 835.7 L174.2 838.6 L176.5 840.7 L178.2 837.6 L179.8 835.7 L181.5 840.2 L183.5 853.6 L185.9 862.4 L188.2 856.3 L190.2 852.3 L192.2 849.6 L193.6 840.2 L196.2 833.7 L198.9 838.2 L202.3 840.9 L204.0 849.6 L206.3 856.5 L208.3 849.6 L210.3 844.0 L213.0 848.3 L215.0 851.4 L217.6 848.9 L220.7 846.3 L222.3 826.9 L223.3 821.7 L225.1 858.8 L227.6 853.6 L230.3 850.3 L231.9 842.9 L234.0 840.0 L237.0 843.4 L239.0 837.6 L241.9 832.7 L243.7 840.2 L245.0 849.6 L246.6 853.5 L248.4 845.6 L250.1 843.1 L253.0 844.9 L255.7 850.3 L257.7 852.1 L260.4 848.9 L263.1 845.1 L265.7 847.6 L268.4 853.0 L271.8 855.6 L273.8 863.0 L276.2 880.2 L277.0 859.0 L277.5 837.6 L278.4 835.7 L281.1 838.6 L283.4 840.7 L285.1 837.6 L286.7 835.7 L288.5 840.2 L290.5 853.6 L292.9 862.4 L295.2 856.3 L297.2 852.3 L299.2 849.6 L300.5 840.2 L303.2 833.7 L305.8 838.2 L309.2 840.9 L310.9 849.6 L313.2 856.5 L315.2 849.6 L317.2 844.0 L319.9 848.3 L321.9 851.4 L324.6 848.9 L327.6 846.3 L329.2 826.9 L330.2 821.7 L332.0 858.8 L334.6 853.6 L337.2 850.3 L338.8 842.9 L341.0 840.0 L343.9 843.4 L345.9 837.6 L348.9 832.7 L350.6 840.2 L351.9 849.6 L353.5 853.5 L355.3 845.6 L357.0 843.1 L360.0 844.9 L362.6 850.3 L364.6 852.1 L367.3 848.9 L370.0 845.1 L372.7 847.6 L375.3 853.0 L378.7 855.6 L380.7 863.0 L383.1 880.2 L383.9 859.0 L384.4 837.6 L385.4 835.7 L388.0 838.6 L390.3 840.7 L392.1 837.6 L393.7 835.7 L395.4 840.2 L397.4 853.6 L399.8 862.4 L402.1 856.3 L404.1 852.3 L406.1 849.6 L407.4 840.2 L410.1 833.7 L412.8 838.2 L416.1 840.9 L417.9 849.6 L420.1 856.5 L422.1 849.6 L424.1 844.0 L426.8 848.3 L428.8 851.4 L431.5 848.9 L434.6 846.3 L436.2 826.9 L437.1 821.7 L439.0 858.8 L441.5 853.6 L444.2 850.3 L445.8 842.9 L447.9 840.0 L450.9 843.4 L452.9 837.6 L455.8 832.7 L457.5 840.2 L458.9 849.6 L460.5 853.5 L462.2 845.6 L464.0 843.1 L466.9 844.9 L469.6 850.3 L471.6 852.1 L474.3 848.9 L476.9 845.1 L479.6 847.6 L482.3 853.0 L485.6 855.6 L487.6 863.0 L490.0 880.2 L490.8 859.0 L491.4 837.6 L492.3 835.7 L495.0 838.6 L497.3 840.7 L499.0 837.6 L500.6 835.7 L502.3 840.2 L504.3 853.6 L506.7 862.4 L509.0 856.3 L511.0 852.3 L513.0 849.6 L514.4 840.2 L517.0 833.7 L519.7 838.2 L523.1 840.9 L524.8 849.6 L527.1 856.5 L529.1 849.6 L531.1 844.0 L533.8 848.3 L535.8 851.4 L538.4 848.9 L541.5 846.3 L543.1 826.9 L544.1 821.7 L545.9 858.8 L548.4 853.6 L551.1 850.3 L552.7 842.9 L554.8 840.0 L557.8 843.4 L559.8 837.6 L562.7 832.7 L564.5 840.2 L565.8 849.6 L567.4 853.5 L569.2 845.6 L570.9 843.1 L573.8 844.9 L576.5 850.3 L578.5 852.1 L581.2 848.9 L583.9 845.1 L586.5 847.6 L589.2 853.0 L592.6 855.6 L594.6 863.0 L597.0 880.2 L597.8 859.0 L598.3 837.6 L599.2 835.7 L601.9 838.6 L604.2 840.7 L605.9 837.6 L607.5 835.7 L609.3 840.2 L611.3 853.6 L613.7 862.4 L616.0 856.3 L618.0 852.3 L620.0 849.6 L621.3 840.2 L624.0 833.7 L626.6 838.2 L630.0 840.9 L631.7 849.6 L634.0 856.5 L636.0 849.6 L638.0 844.0 L640.7 848.3 L642.7 851.4 L645.4 848.9 L648.4 846.3 L650.0 826.9 L651.0 821.7 L653.9 844.8 L656.2 818.9 L658.2 801.5 L660.2 785.4 L662.9 777.6 L666.2 779.4 L670.0 780.1 L671.0 792.1 L672.2 812.2 L673.6 829.6 L676.2 837.6 L677.6 852.3 L679.6 872.3 L682.3 892.4 L684.9 908.4 L688.3 912.5 L691.6 915.0 L695.0 911.1 L697.0 899.1 L699.0 885.7 L701.0 876.3 L703.7 873.7 L705.0 838.9 L705.7 808.2 L708.3 798.8 L711.0 785.4 L713.0 776.1 L715.7 770.9 L717.7 782.8 L719.4 794.8 L722.4 798.8 L724.4 808.2 L726.4 826.9 L728.4 833.6 L731.1 837.6 L732.4 852.3 L734.4 872.3 L736.4 892.4 L738.4 909.8 L741.1 922.0 L743.8 915.1 L746.4 911.1 L749.8 907.8 L751.8 892.4 L753.8 872.3 L755.8 856.3 L757.1 845.6 L757.9 821.0 L760.9 844.8 L763.1 818.9 L765.1 801.5 L767.1 785.4 L769.8 777.6 L773.1 779.4 L776.9 780.1 L778.0 792.1 L779.2 812.2 L780.5 829.6 L783.2 837.6 L784.5 852.3 L786.5 872.3 L789.2 892.4 L791.9 908.4 L795.2 912.5 L798.6 915.0 L801.9 911.1 L803.9 899.1 L805.9 885.7 L807.9 876.3 L810.6 873.7 L811.9 838.9 L812.6 808.2 L815.3 798.8 L817.9 785.4 L819.9 776.1 L822.6 770.9 L824.6 782.8 L826.4 794.8 L829.3 798.8 L831.3 808.2 L833.3 826.9 L835.3 833.6 L838.0 837.6 L839.3 852.3 L841.3 872.3 L843.3 892.4 L845.3 909.8 L848.0 922.0 L850.7 915.1 L853.4 911.1 L856.7 907.8 L858.7 892.4 L860.7 872.3 L862.7 856.3 L864.1 845.6 L864.9 821.0 L867.8 844.8 L870.1 818.9 L872.1 801.5 L874.1 785.4 L876.7 777.6 L880.1 779.4 L883.8 780.1 L884.9 792.1 L886.1 812.2 L887.4 829.6 L890.1 837.6 L891.4 852.3 L893.5 872.3 L896.1 892.4 L898.8 908.4 L902.1 912.5 L905.5 915.0 L908.8 911.1 L910.8 899.1 L912.8 885.7 L914.8 876.3 L917.5 873.7 L918.9 838.9 L919.5 808.2 L922.2 798.8 L924.9 785.4 L926.9 776.1 L929.6 770.9 L931.6 782.8 L933.3 794.8 L936.2 798.8 L938.2 808.2 L940.2 826.9 L942.3 833.6 L944.9 837.6 L946.3 852.3 L948.3 872.3 L950.3 892.4 L952.3 909.8 L955.0 922.0 L957.6 915.1 L960.3 911.1 L963.6 907.8 L965.7 892.4 L967.7 872.3 L969.7 856.3 L971.0 845.6 L971.8 821.0 L974.7 844.8 L977.0 818.9 L979.0 801.5 L981.0 785.4 L983.7 777.6 L987.0 779.4 L990.8 780.1 L991.8 792.1 L993.0 812.2 L994.4 829.6 L997.0 837.6 L998.4 852.3 L1000.4 872.3 L1003.1 892.4 L1005.7 908.4 L1009.1 912.5 L1012.4 915.0 L1015.8 911.1 L1017.8 899.1 L1019.8 885.7 L1021.8 876.3 L1024.5 873.7 L1025.8 838.9 L1026.5 808.2 L1029.1 798.8 L1031.8 785.4 L1033.8 776.1 L1036.5 770.9 L1038.5 782.8 L1040.2 794.8 L1043.2 798.8 L1045.2 808.2 L1047.2 826.9 L1049.2 833.6 L1051.9 837.6 L1053.2 852.3 L1055.2 872.3 L1057.2 892.4 L1059.2 909.8 L1061.9 922.0 L1064.6 915.1 L1067.2 911.1 L1070.6 907.8 L1072.6 892.4 L1074.6 872.3 L1076.6 856.3 L1077.9 845.6 L1078.7 821.0 L1081.7 844.8 L1083.9 818.9 L1085.9 801.5 L1087.9 785.4 L1090.6 777.6 L1093.9 779.4 L1097.7 780.1 L1098.8 792.1 L1100.0 812.2 L1101.3 829.6 L1104.0 837.6 L1105.3 852.3 L1107.3 872.3 L1110.0 892.4 L1112.7 908.4 L1116.0 912.5 L1119.4 915.0 L1122.7 911.1 L1124.7 899.1 L1126.7 885.7 L1128.7 876.3 L1131.4 873.7 L1132.7 838.9 L1133.4 808.2 L1136.1 798.8 L1138.7 785.4 L1140.7 776.1 L1143.4 770.9 L1145.4 782.8 L1147.2 794.8 L1150.1 798.8 L1152.1 808.2 L1154.1 826.9 L1156.1 833.6 L1158.8 837.6 L1160.1 852.3 L1162.1 872.3 L1164.1 892.4 L1166.1 909.8 L1168.8 922.0 L1171.5 915.1 L1174.2 911.1 L1177.5 907.8 L1179.5 892.4 L1181.5 872.3 L1183.5 856.3 L1184.9 845.6 L1185.7 821.0 L1187.9 858.1 L1190.0 853.6 L1192.7 850.3 L1194.3 842.9 L1196.4 840.0 L1199.4 843.4 L1201.4 837.6 L1204.3 832.7 L1206.1 840.2 L1207.4 849.6 L1209.0 853.5 L1210.8 845.6 L1212.5 843.1 L1215.4 844.9 L1218.1 850.3 L1220.1 852.1 L1222.8 848.9 L1225.5 845.1 L1228.1 847.6 L1230.8 853.0 L1234.2 855.6 L1236.2 863.0 L1238.6 880.2 L1239.4 859.0 L1239.9 837.6 L1240.8 835.7 L1243.5 838.6 L1245.8 840.7 L1247.5 837.6 L1249.1 835.7 L1250.9 840.2 L1252.9 853.6 L1255.3 862.4 L1257.6 856.3 L1259.6 852.3 L1261.6 849.6 L1262.9 840.2 L1265.6 833.7 L1268.2 838.2 L1271.6 840.9 L1273.3 849.6 L1275.6 856.5 L1277.6 849.6 L1279.6 844.0 L1282.3 848.3 L1284.3 851.4 L1287.0 848.9 L1290.0 846.3 L1291.6 826.9 L1292.6 821.7 L1294.4 858.8 L1297.0 853.6 L1299.6 850.3 L1301.2 842.9 L1303.4 840.0 L1306.3 843.4 L1308.3 837.6 L1311.3 832.7 L1313.0 840.2 L1314.3 849.6 L1315.9 853.5 L1317.7 845.6 L1319.4 843.1 L1322.4 844.9 L1325.0 850.3 L1327.0 852.1 L1329.7 848.9 L1332.4 845.1 L1335.1 847.6 L1337.7 853.0 L1341.1 855.6 L1343.1 863.0 L1345.5 880.2 L1346.3 859.0 L1346.8 837.6 L1347.8 835.7 L1350.4 838.6 L1352.7 840.7 L1354.5 837.6 L1356.1 835.7 L1357.8 840.2 L1359.8 853.6 L1362.2 862.4 L1364.5 856.3 L1366.5 852.3 L1368.5 849.6 L1369.8 840.2 L1372.5 833.7 L1375.2 838.2 L1378.5 840.9 L1380.3 849.6 L1382.5 856.5 L1384.5 849.6 L1386.5 844.0 L1389.2 848.3 L1391.2 851.4 L1393.9 848.9 L1397.0 846.3 L1398.6 826.9 L1399.5 821.7 L1401.4 858.8 L1403.9 853.6 L1406.6 850.3 L1408.2 842.9 L1410.3 840.0 L1413.3 843.4 L1415.3 837.6 L1418.2 832.7 L1419.9 840.2 L1421.3 849.6 L1422.9 853.5 L1424.6 845.6 L1426.4 843.1 L1429.3 844.9 L1432.0 850.3 L1434.0 852.1 L1436.7 848.9 L1439.3 845.1 L1442.0 847.6 L1444.7 853.0 L1448.0 855.6 L1450.0 863.0 L1452.4 880.2 L1453.2 859.0 L1453.8 837.6 L1454.7 835.7 L1457.4 838.6 L1459.7 840.7 L1461.4 837.6 L1463.0 835.7 L1464.7 840.2 L1466.7 853.6 L1469.1 862.4 L1471.4 856.3 L1473.4 852.3 L1475.4 849.6 L1476.8 840.2 L1479.4 833.7 L1482.1 838.2 L1485.5 840.9 L1487.2 849.6 L1489.5 856.5 L1491.5 849.6 L1493.5 844.0 L1496.2 848.3 L1498.2 851.4 L1500.8 848.9 L1503.9 846.3 L1505.5 826.9 L1506.5 821.7 L1508.3 858.8 L1510.8 853.6 L1513.5 850.3 L1515.1 842.9 L1517.2 840.0 L1520.2 843.4 L1522.2 837.6 L1525.1 832.7 L1526.9 840.2 L1528.2 849.6 L1529.8 853.5 L1531.6 845.6 L1533.3 843.1 L1536.2 844.9 L1538.9 850.3 L1540.9 852.1 L1543.6 848.9 L1546.3 845.1 L1548.9 847.6 L1551.6 853.0 L1555.0 855.6 L1557.0 863.0 L1559.4 880.2 L1560.2 859.0 L1560.7 837.6 L1561.6 835.7 L1564.3 838.6 L1566.6 840.7 L1568.3 837.6 L1569.9 835.7 L1571.7 840.2 L1573.7 853.6 L1576.1 862.4 L1578.4 856.3 L1580.4 852.3 L1582.4 849.6 L1583.7 840.2 L1586.4 833.7 L1589.0 838.2 L1592.4 840.9 L1594.1 849.6 L1596.4 856.5 L1598.4 849.6 L1600.4 844.0 L1603.1 848.3 L1605.1 851.4 L1607.8 848.9 L1610.8 846.3 L1612.4 826.9 L1613.4 821.7 L1615.2 858.8 L1617.8 853.6 L1620.4 850.3 L1622.0 842.9 L1624.2 840.0 L1627.1 843.4 L1629.1 837.6 L1632.1 832.7 L1633.8 840.2 L1635.1 849.6 L1636.7 853.5 L1638.5 845.6 L1640.2 843.1 L1643.2 844.9 L1645.8 850.3 L1647.8 852.1 L1650.5 848.9 L1653.2 845.1 L1655.9 847.6 L1658.5 853.0 L1661.9 855.6 L1663.9 863.0 L1666.3 880.2 L1667.1 859.0 L1667.6 837.6 L1668.6 835.7 L1671.2 838.6 L1673.5 840.7 L1675.3 837.6 L1676.9 835.7 L1678.6 840.2 L1680.6 853.6 L1683.0 862.4 L1685.3 856.3 L1687.3 852.3 L1689.3 849.6 L1690.6 840.2 L1693.3 833.7 L1696.0 838.2 L1699.3 840.9 L1701.1 849.6 L1703.3 856.5 L1705.3 849.6 L1707.3 844.0 L1710.0 848.3 L1712.0 851.4 L1714.7 848.9 L1717.8 846.3 L1719.4 826.9 L1719.5 826.3 M115.5 821.6 L118.2 856.9 L120.7 851.7 L123.4 849.3 L125.0 844.2 L127.1 841.2 L130.1 842.4 L132.1 838.5 L135.0 834.6 L136.7 840.9 L138.1 847.7 L139.7 851.5 L141.4 845.3 L143.2 844.3 L146.1 845.9 L148.8 849.4 L150.8 850.7 L153.5 848.8 L156.1 846.6 L158.8 848.5 L161.5 853.1 L164.8 855.7 L166.8 861.0 L169.2 878.3 L170.0 857.0 L170.6 839.5 L171.5 837.7 L174.2 840.6 L176.5 840.8 L178.2 838.9 L179.8 837.7 L181.5 842.2 L183.5 852.0 L185.9 860.5 L188.2 854.6 L190.2 851.4 L192.2 848.7 L193.6 841.8 L196.2 835.7 L198.9 839.4 L202.3 841.9 L204.0 848.2 L206.3 854.6 L208.3 849.2 L210.3 845.9 L213.0 848.5 L215.0 850.1 L217.6 847.4 L220.7 846.2 L222.3 828.8 L223.3 823.6 L225.1 856.9 L227.6 851.7 L230.3 849.1 L231.9 844.2 L234.0 841.2 L237.0 842.4 L239.0 838.5 L241.9 834.6 L243.7 840.9 L245.0 847.7 L246.6 851.5 L248.4 845.3 L250.1 844.3 L253.0 845.9 L255.7 849.4 L257.7 850.7 L260.4 848.8 L263.1 846.6 L265.7 848.5 L268.4 853.1 L271.8 855.7 L273.8 861.0 L276.2 878.3 L277.0 857.0 L277.5 839.5 L278.4 837.7 L281.1 840.6 L283.4 840.8 L285.1 838.9 L286.7 837.7 L288.5 842.2 L290.5 852.0 L292.9 860.5 L295.2 854.6 L297.2 851.4 L299.2 848.7 L300.5 841.8 L303.2 835.7 L305.8 839.4 L309.2 841.9 L310.9 848.2 L313.2 854.6 L315.2 849.2 L317.2 845.9 L319.9 848.5 L321.9 850.1 L324.6 847.4 L327.6 846.2 L329.2 828.8 L330.2 823.6 L332.0 856.9 L334.6 851.7 L337.2 849.1 L338.8 844.2 L341.0 841.2 L343.9 842.4 L345.9 838.5 L348.9 834.6 L350.6 840.9 L351.9 847.7 L353.5 851.5 L355.3 845.3 L357.0 844.3 L360.0 845.9 L362.6 849.4 L364.6 850.7 L367.3 848.8 L370.0 846.6 L372.7 848.5 L375.3 853.1 L378.7 855.7 L380.7 861.0 L383.1 878.3 L383.9 857.0 L384.4 839.5 L385.4 837.7 L388.0 840.6 L390.3 840.8 L392.1 838.9 L393.7 837.7 L395.4 842.2 L397.4 852.0 L399.8 860.5 L402.1 854.6 L404.1 851.4 L406.1 848.7 L407.4 841.8 L410.1 835.7 L412.8 839.4 L416.1 841.9 L417.9 848.2 L420.1 854.6 L422.1 849.2 L424.1 845.9 L426.8 848.5 L428.8 850.1 L431.5 847.4 L434.6 846.2 L436.2 828.8 L437.1 823.6 L439.0 856.9 L441.5 851.7 L444.2 849.1 L445.8 844.2 L447.9 841.2 L450.9 842.4 L452.9 838.5 L455.8 834.6 L457.5 840.9 L458.9 847.7 L460.5 851.5 L462.2 845.3 L464.0 844.3 L466.9 845.9 L469.6 849.4 L471.6 850.7 L474.3 848.8 L476.9 846.6 L479.6 848.5 L482.3 853.1 L485.6 855.7 L487.6 861.0 L490.0 878.3 L490.8 857.0 L491.4 839.5 L492.3 837.7 L495.0 840.6 L497.3 840.8 L499.0 838.9 L500.6 837.7 L502.3 842.2 L504.3 852.0 L506.7 860.5 L509.0 854.6 L511.0 851.4 L513.0 848.7 L514.4 841.8 L517.0 835.7 L519.7 839.4 L523.1 841.9 L524.8 848.2 L527.1 854.6 L529.1 849.2 L531.1 845.9 L533.8 848.5 L535.8 850.1 L538.4 847.4 L541.5 846.2 L543.1 828.8 L544.1 823.6 L545.9 856.9 L548.4 851.7 L551.1 849.1 L552.7 844.2 L554.8 841.2 L557.8 842.4 L559.8 838.5 L562.7 834.6 L564.5 840.9 L565.8 847.7 L567.4 851.5 L569.2 845.3 L570.9 844.3 L573.8 845.9 L576.5 849.4 L578.5 850.7 L581.2 848.8 L583.9 846.6 L586.5 848.5 L589.2 853.1 L592.6 855.7 L594.6 861.0 L597.0 878.3 L597.8 857.0 L598.3 839.5 L599.2 837.7 L601.9 840.6 L604.2 840.8 L605.9 838.9 L607.5 837.7 L609.3 842.2 L611.3 852.0 L613.7 860.5 L616.0 854.6 L618.0 851.4 L620.0 848.7 L621.3 841.8 L624.0 835.7 L626.6 839.4 L630.0 841.9 L631.7 848.2 L634.0 854.6 L636.0 849.2 L638.0 845.9 L640.7 848.5 L642.7 850.1 L645.4 847.1 L648.4 844.6 L650.0 828.8 L651.0 823.6 L653.9 842.8 L656.2 816.9 L658.2 802.7 L660.2 787.4 L662.9 779.5 L666.2 781.3 L670.0 782.0 L671.0 794.0 L672.2 812.1 L673.6 827.6 L676.2 839.1 L677.6 852.7 L679.6 871.3 L682.3 890.5 L684.9 906.5 L688.3 911.1 L691.6 913.0 L695.0 909.2 L697.0 898.1 L699.0 885.5 L701.0 874.4 L703.7 871.7 L705.0 838.2 L705.7 810.1 L708.3 800.7 L711.0 787.4 L713.0 778.0 L715.7 772.8 L717.7 784.2 L719.4 793.8 L722.4 800.4 L724.4 809.6 L726.4 825.2 L728.4 833.3 L731.1 839.5 L732.4 854.2 L734.4 872.7 L736.4 890.5 L738.4 907.8 L741.1 920.1 L743.8 914.1 L746.4 910.3 L749.8 905.8 L751.8 890.5 L753.8 872.3 L755.8 857.9 L757.1 847.5 L757.9 823.0 L760.9 842.8 L763.1 817.2 L765.1 802.7 L767.1 787.4 L769.8 779.5 L773.1 781.3 L776.9 782.0 L778.0 794.0 L779.2 812.1 L780.5 827.6 L783.2 839.1 L784.5 852.7 L786.5 871.3 L789.2 890.5 L791.9 906.5 L795.2 911.1 L798.6 913.0 L801.9 909.2 L803.9 898.1 L805.9 885.5 L807.9 874.4 L810.6 871.7 L811.9 838.2 L812.6 810.1 L815.3 800.7 L817.9 787.4 L819.9 778.0 L822.6 772.8 L824.6 784.2 L826.4 793.8 L829.3 800.4 L831.3 809.6 L833.3 825.2 L835.3 833.3 L838.0 839.5 L839.3 854.2 L841.3 872.7 L843.3 890.5 L845.3 907.8 L848.0 920.1 L850.7 914.1 L853.4 910.3 L856.7 905.8 L858.7 890.5 L860.7 872.3 L862.7 857.9 L864.1 847.5 L864.9 823.0 L867.8 842.8 L870.1 817.2 L872.1 802.7 L874.1 787.4 L876.7 779.5 L880.1 781.3 L883.8 782.0 L884.9 794.0 L886.1 812.1 L887.4 827.6 L890.1 839.1 L891.4 852.7 L893.5 871.3 L896.1 890.5 L898.8 906.5 L902.1 911.1 L905.5 913.0 L908.8 909.2 L910.8 898.1 L912.8 885.5 L914.8 874.4 L917.5 871.7 L918.9 838.2 L919.5 810.1 L922.2 800.7 L924.9 787.4 L926.9 778.0 L929.6 772.8 L931.6 784.2 L933.3 793.8 L936.2 800.4 L938.2 809.6 L940.2 825.2 L942.3 833.3 L944.9 839.5 L946.3 854.2 L948.3 872.7 L950.3 890.5 L952.3 907.8 L955.0 920.1 L957.6 914.1 L960.3 910.3 L963.6 905.8 L965.7 890.5 L967.7 872.3 L969.7 857.9 L971.0 847.5 L971.8 823.0 L974.7 842.8 L977.0 817.2 L979.0 802.7 L981.0 787.4 L983.7 779.5 L987.0 781.3 L990.8 782.0 L991.8 794.0 L993.0 812.1 L994.4 827.6 L997.0 839.1 L998.4 852.7 L1000.4 871.3 L1003.1 890.5 L1005.7 906.5 L1009.1 911.1 L1012.4 913.0 L1015.8 909.2 L1017.8 898.1 L1019.8 885.5 L1021.8 874.4 L1024.5 871.7 L1025.8 838.2 L1026.5 810.1 L1029.1 800.7 L1031.8 787.4 L1033.8 778.0 L1036.5 772.8 L1038.5 784.2 L1040.2 793.8 L1043.2 800.4 L1045.2 809.6 L1047.2 825.2 L1049.2 833.3 L1051.9 839.5 L1053.2 854.2 L1055.2 872.7 L1057.2 890.5 L1059.2 907.8 L1061.9 920.1 L1064.6 914.1 L1067.2 910.3 L1070.6 905.8 L1072.6 890.5 L1074.6 872.3 L1076.6 857.9 L1077.9 847.5 L1078.7 823.0 L1081.7 842.8 L1083.9 817.2 L1085.9 802.7 L1087.9 787.4 L1090.6 779.5 L1093.9 781.3 L1097.7 782.0 L1098.8 794.0 L1100.0 812.1 L1101.3 827.6 L1104.0 839.1 L1105.3 852.7 L1107.3 871.3 L1110.0 890.5 L1112.7 906.5 L1116.0 911.1 L1119.4 913.0 L1122.7 909.2 L1124.7 898.1 L1126.7 885.5 L1128.7 874.4 L1131.4 871.7 L1132.7 838.2 L1133.4 810.1 L1136.1 800.7 L1138.7 787.4 L1140.7 778.0 L1143.4 772.8 L1145.4 784.2 L1147.2 793.8 L1150.1 800.4 L1152.1 809.6 L1154.1 825.2 L1156.1 833.3 L1158.8 839.5 L1160.1 854.2 L1162.1 872.7 L1164.1 890.5 L1166.1 907.8 L1168.8 920.1 L1171.5 914.1 L1174.2 910.3 L1177.5 905.8 L1179.5 890.5 L1181.5 873.0 L1183.5 858.2 L1184.9 847.5 L1185.7 823.0 L1187.9 856.2 L1190.0 851.7 L1192.7 848.9 L1194.3 844.2 L1196.4 841.2 L1199.4 842.4 L1201.4 838.5 L1204.3 834.6 L1206.1 840.9 L1207.4 847.7 L1209.0 851.5 L1210.8 845.3 L1212.5 844.3 L1215.4 845.9 L1218.1 849.4 L1220.1 850.7 L1222.8 848.8 L1225.5 846.6 L1228.1 848.5 L1230.8 853.1 L1234.2 855.7 L1236.2 861.0 L1238.6 878.3 L1239.4 857.0 L1239.9 839.5 L1240.8 837.7 L1243.5 840.6 L1245.8 840.8 L1247.5 838.9 L1249.1 837.7 L1250.9 842.2 L1252.9 852.0 L1255.3 860.5 L1257.6 854.6 L1259.6 851.4 L1261.6 848.7 L1262.9 841.8 L1265.6 835.7 L1268.2 839.4 L1271.6 841.9 L1273.3 848.2 L1275.6 854.6 L1277.6 849.2 L1279.6 845.9 L1282.3 848.5 L1284.3 850.1 L1287.0 847.4 L1290.0 846.2 L1291.6 828.8 L1292.6 823.6 L1294.4 856.9 L1297.0 851.7 L1299.6 849.1 L1301.2 844.2 L1303.4 841.2 L1306.3 842.4 L1308.3 838.5 L1311.3 834.6 L1313.0 840.9 L1314.3 847.7 L1315.9 851.5 L1317.7 845.3 L1319.4 844.3 L1322.4 845.9 L1325.0 849.4 L1327.0 850.7 L1329.7 848.8 L1332.4 846.6 L1335.1 848.5 L1337.7 853.1 L1341.1 855.7 L1343.1 861.0 L1345.5 878.3 L1346.3 857.0 L1346.8 839.5 L1347.8 837.7 L1350.4 840.6 L1352.7 840.8 L1354.5 838.9 L1356.1 837.7 L1357.8 842.2 L1359.8 852.0 L1362.2 860.5 L1364.5 854.6 L1366.5 851.4 L1368.5 848.7 L1369.8 841.8 L1372.5 835.7 L1375.2 839.4 L1378.5 841.9 L1380.3 848.2 L1382.5 854.6 L1384.5 849.2 L1386.5 845.9 L1389.2 848.5 L1391.2 850.1 L1393.9 847.4 L1397.0 846.2 L1398.6 828.8 L1399.5 823.6 L1401.4 856.9 L1403.9 851.7 L1406.6 849.1 L1408.2 844.2 L1410.3 841.2 L1413.3 842.4 L1415.3 838.5 L1418.2 834.6 L1419.9 840.9 L1421.3 847.7 L1422.9 851.5 L1424.6 845.3 L1426.4 844.3 L1429.3 845.9 L1432.0 849.4 L1434.0 850.7 L1436.7 848.8 L1439.3 846.6 L1442.0 848.5 L1444.7 853.1 L1448.0 855.7 L1450.0 861.0 L1452.4 878.3 L1453.2 857.0 L1453.8 839.5 L1454.7 837.7 L1457.4 840.6 L1459.7 840.8 L1461.4 838.9 L1463.0 837.7 L1464.7 842.2 L1466.7 852.0 L1469.1 860.5 L1471.4 854.6 L1473.4 851.4 L1475.4 848.7 L1476.8 841.8 L1479.4 835.7 L1482.1 839.4 L1485.5 841.9 L1487.2 848.2 L1489.5 854.6 L1491.5 849.2 L1493.5 845.9 L1496.2 848.5 L1498.2 850.1 L1500.8 847.4 L1503.9 846.2 L1505.5 828.8 L1506.5 823.6 L1508.3 856.9 L1510.8 851.7 L1513.5 849.1 L1515.1 844.2 L1517.2 841.2 L1520.2 842.4 L1522.2 838.5 L1525.1 834.6 L1526.9 840.9 L1528.2 847.7 L1529.8 851.5 L1531.6 845.3 L1533.3 844.3 L1536.2 845.9 L1538.9 849.4 L1540.9 850.7 L1543.6 848.8 L1546.3 846.6 L1548.9 848.5 L1551.6 853.1 L1555.0 855.7 L1557.0 861.0 L1559.4 878.3 L1560.2 857.0 L1560.7 839.5 L1561.6 837.7 L1564.3 840.6 L1566.6 840.8 L1568.3 838.9 L1569.9 837.7 L1571.7 842.2 L1573.7 852.0 L1576.1 860.5 L1578.4 854.6 L1580.4 851.4 L1582.4 848.7 L1583.7 841.8 L1586.4 835.7 L1589.0 839.4 L1592.4 841.9 L1594.1 848.2 L1596.4 854.6 L1598.4 849.2 L1600.4 845.9 L1603.1 848.5 L1605.1 850.1 L1607.8 847.4 L1610.8 846.2 L1612.4 828.8 L1613.4 823.6 L1615.2 856.9 L1617.8 851.7 L1620.4 849.1 L1622.0 844.2 L1624.2 841.2 L1627.1 842.4 L1629.1 838.5 L1632.1 834.6 L1633.8 840.9 L1635.1 847.7 L1636.7 851.5 L1638.5 845.3 L1640.2 844.3 L1643.2 845.9 L1645.8 849.4 L1647.8 850.7 L1650.5 848.8 L1653.2 846.6 L1655.9 848.5 L1658.5 853.1 L1661.9 855.7 L1663.9 861.0 L1666.3 878.3 L1667.1 857.0 L1667.6 839.5 L1668.6 837.7 L1671.2 840.6 L1673.5 840.8 L1675.3 838.9 L1676.9 837.7 L1678.6 842.2 L1680.6 852.0 L1683.0 860.5 L1685.3 854.6 L1687.3 851.4 L1689.3 848.7 L1690.6 841.8 L1693.3 835.7 L1696.0 839.4 L1699.3 841.9 L1701.1 848.2 L1703.3 854.6 L1705.3 849.2 L1707.3 845.9 L1710.0 848.5 L1712.0 850.1 L1714.7 848.2 L1717.8 846.3 L1719.4 828.8 L1719.5 828.2 M115.5 823.5 L118.2 854.9 L120.7 849.8 L123.4 848.3 L125.0 845.6 L127.1 842.5 L130.1 841.3 L132.1 839.5 L135.0 836.5 L136.7 841.6 L138.1 845.7 L139.7 849.6 L141.4 845.1 L143.2 845.6 L146.1 846.9 L148.8 848.4 L150.8 849.2 L153.5 848.7 L156.1 848.0 L158.8 849.4 L161.5 853.3 L164.8 855.7 L166.8 859.1 L169.2 876.3 L170.0 855.1 L170.6 841.4 L171.5 839.6 L174.2 842.5 L176.5 840.8 L178.2 840.2 L179.8 839.6 L181.5 844.1 L183.5 850.4 L185.9 858.5 L188.2 852.8 L190.2 850.5 L192.2 847.8 L193.6 843.3 L196.2 837.6 L198.9 840.5 L202.3 843.0 L204.0 846.7 L206.3 852.7 L208.3 848.9 L210.3 847.8 L213.0 848.8 L215.0 848.7 L217.6 845.8 L220.7 846.2 L222.3 830.7 L223.3 825.6 L225.1 854.9 L227.6 849.8 L230.3 847.9 L231.9 845.6 L234.0 842.5 L237.0 841.3 L239.0 839.5 L241.9 836.5 L243.7 841.6 L245.0 845.7 L246.6 849.6 L248.4 845.1 L250.1 845.6 L253.0 846.9 L255.7 848.4 L257.7 849.2 L260.4 848.7 L263.1 848.0 L265.7 849.4 L268.4 853.3 L271.8 855.7 L273.8 859.1 L276.2 876.3 L277.0 855.1 L277.5 841.4 L278.4 839.6 L281.1 842.5 L283.4 840.8 L285.1 840.2 L286.7 839.6 L288.5 844.1 L290.5 850.4 L292.9 858.5 L295.2 852.8 L297.2 850.5 L299.2 847.8 L300.5 843.3 L303.2 837.6 L305.8 840.5 L309.2 843.0 L310.9 846.7 L313.2 852.7 L315.2 848.9 L317.2 847.8 L319.9 848.8 L321.9 848.7 L324.6 845.8 L327.6 846.2 L329.2 830.7 L330.2 825.6 L332.0 854.9 L334.6 849.8 L337.2 847.9 L338.8 845.6 L341.0 842.5 L343.9 841.3 L345.9 839.5 L348.9 836.5 L350.6 841.6 L351.9 845.7 L353.5 849.6 L355.3 845.1 L357.0 845.6 L360.0 846.9 L362.6 848.4 L364.6 849.2 L367.3 848.7 L370.0 848.0 L372.7 849.4 L375.3 853.3 L378.7 855.7 L380.7 859.1 L383.1 876.3 L383.9 855.1 L384.4 841.4 L385.4 839.6 L388.0 842.5 L390.3 840.8 L392.1 840.2 L393.7 839.6 L395.4 844.1 L397.4 850.4 L399.8 858.5 L402.1 852.8 L404.1 850.5 L406.1 847.8 L407.4 843.3 L410.1 837.6 L412.8 840.5 L416.1 843.0 L417.9 846.7 L420.1 852.7 L422.1 848.9 L424.1 847.8 L426.8 848.8 L428.8 848.7 L431.5 845.8 L434.6 846.2 L436.2 830.7 L437.1 825.6 L439.0 854.9 L441.5 849.8 L444.2 847.9 L445.8 845.6 L447.9 842.5 L450.9 841.3 L452.9 839.5 L455.8 836.5 L457.5 841.6 L458.9 845.7 L460.5 849.6 L462.2 845.1 L464.0 845.6 L466.9 846.9 L469.6 848.4 L471.6 849.2 L474.3 848.7 L476.9 848.0 L479.6 849.4 L482.3 853.3 L485.6 855.7 L487.6 859.1 L490.0 876.3 L490.8 855.1 L491.4 841.4 L492.3 839.6 L495.0 842.5 L497.3 840.8 L499.0 840.2 L500.6 839.6 L502.3 844.1 L504.3 850.4 L506.7 858.5 L509.0 852.8 L511.0 850.5 L513.0 847.8 L514.4 843.3 L517.0 837.6 L519.7 840.5 L523.1 843.0 L524.8 846.7 L527.1 852.7 L529.1 848.9 L531.1 847.8 L533.8 848.8 L535.8 848.7 L538.4 845.8 L541.5 846.2 L543.1 830.7 L544.1 825.6 L545.9 854.9 L548.4 849.8 L551.1 847.9 L552.7 845.6 L554.8 842.5 L557.8 841.3 L559.8 839.5 L562.7 836.5 L564.5 841.6 L565.8 845.7 L567.4 849.6 L569.2 845.1 L570.9 845.6 L573.8 846.9 L576.5 848.4 L578.5 849.2 L581.2 848.7 L583.9 848.0 L586.5 849.4 L589.2 853.3 L592.6 855.7 L594.6 859.1 L597.0 876.3 L597.8 855.1 L598.3 841.4 L599.2 839.6 L601.9 842.5 L604.2 840.8 L605.9 840.2 L607.5 839.6 L609.3 844.1 L611.3 850.4 L613.7 858.5 L616.0 852.8 L618.0 850.5 L620.0 847.8 L621.3 843.3 L624.0 837.6 L626.6 840.5 L630.0 843.0 L631.7 846.7 L634.0 852.7 L636.0 848.9 L638.0 847.8 L640.7 848.8 L642.7 848.7 L645.4 845.2 L648.4 842.9 L650.0 830.7 L651.0 825.6 L653.9 840.9 L656.2 815.0 L658.2 803.9 L660.2 789.3 L662.9 781.4 L666.2 783.3 L670.0 783.9 L671.0 796.0 L672.2 812.1 L673.6 825.7 L676.2 840.6 L677.6 853.2 L679.6 870.2 L682.3 888.5 L684.9 904.6 L688.3 909.7 L691.6 911.1 L695.0 907.2 L697.0 897.2 L699.0 885.2 L701.0 872.5 L703.7 869.8 L705.0 837.4 L705.7 812.0 L708.3 802.7 L711.0 789.3 L713.0 779.9 L715.7 774.8 L717.7 785.7 L719.4 792.7 L722.4 802.1 L724.4 811.1 L726.4 823.5 L728.4 832.9 L731.1 841.4 L732.4 856.1 L734.4 873.1 L736.4 888.5 L738.4 905.9 L741.1 918.2 L743.8 913.0 L746.4 909.4 L749.8 903.9 L751.8 888.5 L753.8 872.2 L755.8 859.6 L757.1 849.5 L757.9 824.9 L760.9 840.9 L763.1 815.6 L765.1 803.9 L767.1 789.3 L769.8 781.4 L773.1 783.3 L776.9 783.9 L778.0 796.0 L779.2 812.1 L780.5 825.7 L783.2 840.6 L784.5 853.2 L786.5 870.2 L789.2 888.5 L791.9 904.6 L795.2 909.7 L798.6 911.1 L801.9 907.2 L803.9 897.2 L805.9 885.2 L807.9 872.5 L810.6 869.8 L811.9 837.4 L812.6 812.0 L815.3 802.7 L817.9 789.3 L819.9 779.9 L822.6 774.8 L824.6 785.7 L826.4 792.7 L829.3 802.1 L831.3 811.1 L833.3 823.5 L835.3 832.9 L838.0 841.4 L839.3 856.1 L841.3 873.1 L843.3 888.5 L845.3 905.9 L848.0 918.2 L850.7 913.0 L853.4 909.4 L856.7 903.9 L858.7 888.5 L860.7 872.2 L862.7 859.6 L864.1 849.5 L864.9 824.9 L867.8 840.9 L870.1 815.6 L872.1 803.9 L874.1 789.3 L876.7 781.4 L880.1 783.3 L883.8 783.9 L884.9 796.0 L886.1 812.1 L887.4 825.7 L890.1 840.6 L891.4 853.2 L893.5 870.2 L896.1 888.5 L898.8 904.6 L902.1 909.7 L905.5 911.1 L908.8 907.2 L910.8 897.2 L912.8 885.2 L914.8 872.5 L917.5 869.8 L918.9 837.4 L919.5 812.0 L922.2 802.7 L924.9 789.3 L926.9 779.9 L929.6 774.8 L931.6 785.7 L933.3 792.7 L936.2 802.1 L938.2 811.1 L940.2 823.5 L942.3 832.9 L944.9 841.4 L946.3 856.1 L948.3 873.1 L950.3 888.5 L952.3 905.9 L955.0 918.2 L957.6 913.0 L960.3 909.4 L963.6 903.9 L965.7 888.5 L967.7 872.2 L969.7 859.6 L971.0 849.5 L971.8 824.9 L974.7 840.9 L977.0 815.6 L979.0 803.9 L981.0 789.3 L983.7 781.4 L987.0 783.3 L990.8 783.9 L991.8 796.0 L993.0 812.1 L994.4 825.7 L997.0 840.6 L998.4 853.2 L1000.4 870.2 L1003.1 888.5 L1005.7 904.6 L1009.1 909.7 L1012.4 911.1 L1015.8 907.2 L1017.8 897.2 L1019.8 885.2 L1021.8 872.5 L1024.5 869.8 L1025.8 837.4 L1026.5 812.0 L1029.1 802.7 L1031.8 789.3 L1033.8 779.9 L1036.5 774.8 L1038.5 785.7 L1040.2 792.7 L1043.2 802.1 L1045.2 811.1 L1047.2 823.5 L1049.2 832.9 L1051.9 841.4 L1053.2 856.1 L1055.2 873.1 L1057.2 888.5 L1059.2 905.9 L1061.9 918.2 L1064.6 913.0 L1067.2 909.4 L1070.6 903.9 L1072.6 888.5 L1074.6 872.2 L1076.6 859.6 L1077.9 849.5 L1078.7 824.9 L1081.7 840.9 L1083.9 815.6 L1085.9 803.9 L1087.9 789.3 L1090.6 781.4 L1093.9 783.3 L1097.7 783.9 L1098.8 796.0 L1100.0 812.1 L1101.3 825.7 L1104.0 840.6 L1105.3 853.2 L1107.3 870.2 L1110.0 888.5 L1112.7 904.6 L1116.0 909.7 L1119.4 911.1 L1122.7 907.2 L1124.7 897.2 L1126.7 885.2 L1128.7 872.5 L1131.4 869.8 L1132.7 837.4 L1133.4 812.0 L1136.1 802.7 L1138.7 789.3 L1140.7 779.9 L1143.4 774.8 L1145.4 785.7 L1147.2 792.7 L1150.1 802.1 L1152.1 811.1 L1154.1 823.5 L1156.1 832.9 L1158.8 841.4 L1160.1 856.1 L1162.1 873.1 L1164.1 888.5 L1166.1 905.9 L1168.8 918.2 L1171.5 913.0 L1174.2 909.4 L1177.5 903.9 L1179.5 888.5 L1181.5 873.7 L1183.5 860.2 L1184.9 849.5 L1185.7 824.9 L1187.9 854.3 L1190.0 849.8 L1192.7 847.5 L1194.3 845.4 L1196.4 842.5 L1199.4 841.3 L1201.4 839.5 L1204.3 836.5 L1206.1 841.6 L1207.4 845.7 L1209.0 849.6 L1210.8 845.1 L1212.5 845.6 L1215.4 846.9 L1218.1 848.4 L1220.1 849.2 L1222.8 848.7 L1225.5 848.0 L1228.1 849.4 L1230.8 853.3 L1234.2 855.7 L1236.2 859.1 L1238.6 876.3 L1239.4 855.1 L1239.9 841.4 L1240.8 839.6 L1243.5 842.5 L1245.8 840.8 L1247.5 840.2 L1249.1 839.6 L1250.9 844.1 L1252.9 850.4 L1255.3 858.5 L1257.6 852.8 L1259.6 850.5 L1261.6 847.8 L1262.9 843.3 L1265.6 837.6 L1268.2 840.5 L1271.6 843.0 L1273.3 846.7 L1275.6 852.7 L1277.6 848.9 L1279.6 847.8 L1282.3 848.8 L1284.3 848.7 L1287.0 845.8 L1290.0 846.2 L1291.6 830.7 L1292.6 825.6 L1294.4 854.9 L1297.0 849.8 L1299.6 847.9 L1301.2 845.6 L1303.4 842.5 L1306.3 841.3 L1308.3 839.5 L1311.3 836.5 L1313.0 841.6 L1314.3 845.7 L1315.9 849.6 L1317.7 845.1 L1319.4 845.6 L1322.4 846.9 L1325.0 848.4 L1327.0 849.2 L1329.7 848.7 L1332.4 848.0 L1335.1 849.4 L1337.7 853.3 L1341.1 855.7 L1343.1 859.1 L1345.5 876.3 L1346.3 855.1 L1346.8 841.4 L1347.8 839.6 L1350.4 842.5 L1352.7 840.8 L1354.5 840.2 L1356.1 839.6 L1357.8 844.1 L1359.8 850.4 L1362.2 858.5 L1364.5 852.8 L1366.5 850.5 L1368.5 847.8 L1369.8 843.3 L1372.5 837.6 L1375.2 840.5 L1378.5 843.0 L1380.3 846.7 L1382.5 852.7 L1384.5 848.9 L1386.5 847.8 L1389.2 848.8 L1391.2 848.7 L1393.9 845.8 L1397.0 846.2 L1398.6 830.7 L1399.5 825.6 L1401.4 854.9 L1403.9 849.8 L1406.6 847.9 L1408.2 845.6 L1410.3 842.5 L1413.3 841.3 L1415.3 839.5 L1418.2 836.5 L1419.9 841.6 L1421.3 845.7 L1422.9 849.6 L1424.6 845.1 L1426.4 845.6 L1429.3 846.9 L1432.0 848.4 L1434.0 849.2 L1436.7 848.7 L1439.3 848.0 L1442.0 849.4 L1444.7 853.3 L1448.0 855.7 L1450.0 859.1 L1452.4 876.3 L1453.2 855.1 L1453.8 841.4 L1454.7 839.6 L1457.4 842.5 L1459.7 840.8 L1461.4 840.2 L1463.0 839.6 L1464.7 844.1 L1466.7 850.4 L1469.1 858.5 L1471.4 852.8 L1473.4 850.5 L1475.4 847.8 L1476.8 843.3 L1479.4 837.6 L1482.1 840.5 L1485.5 843.0 L1487.2 846.7 L1489.5 852.7 L1491.5 848.9 L1493.5 847.8 L1496.2 848.8 L1498.2 848.7 L1500.8 845.8 L1503.9 846.2 L1505.5 830.7 L1506.5 825.6 L1508.3 854.9 L1510.8 849.8 L1513.5 847.9 L1515.1 845.6 L1517.2 842.5 L1520.2 841.3 L1522.2 839.5 L1525.1 836.5 L1526.9 841.6 L1528.2 845.7 L1529.8 849.6 L1531.6 845.1 L1533.3 845.6 L1536.2 846.9 L1538.9 848.4 L1540.9 849.2 L1543.6 848.7 L1546.3 848.0 L1548.9 849.4 L1551.6 853.3 L1555.0 855.7 L1557.0 859.1 L1559.4 876.3 L1560.2 855.1 L1560.7 841.4 L1561.6 839.6 L1564.3 842.5 L1566.6 840.8 L1568.3 840.2 L1569.9 839.6 L1571.7 844.1 L1573.7 850.4 L1576.1 858.5 L1578.4 852.8 L1580.4 850.5 L1582.4 847.8 L1583.7 843.3 L1586.4 837.6 L1589.0 840.5 L1592.4 843.0 L1594.1 846.7 L1596.4 852.7 L1598.4 848.9 L1600.4 847.8 L1603.1 848.8 L1605.1 848.7 L1607.8 845.8 L1610.8 846.2 L1612.4 830.7 L1613.4 825.6 L1615.2 854.9 L1617.8 849.8 L1620.4 847.9 L1622.0 845.6 L1624.2 842.5 L1627.1 841.3 L1629.1 839.5 L1632.1 836.5 L1633.8 841.6 L1635.1 845.7 L1636.7 849.6 L1638.5 845.1 L1640.2 845.6 L1643.2 846.9 L1645.8 848.4 L1647.8 849.2 L1650.5 848.7 L1653.2 848.0 L1655.9 849.4 L1658.5 853.3 L1661.9 855.7 L1663.9 859.1 L1666.3 876.3 L1667.1 855.1 L1667.6 841.4 L1668.6 839.6 L1671.2 842.5 L1673.5 840.8 L1675.3 840.2 L1676.9 839.6 L1678.6 844.1 L1680.6 850.4 L1683.0 858.5 L1685.3 852.8 L1687.3 850.5 L1689.3 847.8 L1690.6 843.3 L1693.3 837.6 L1696.0 840.5 L1699.3 843.0 L1701.1 846.7 L1703.3 852.7 L1705.3 848.9 L1707.3 847.8 L1710.0 848.8 L1712.0 848.7 L1714.7 847.4 L1717.8 846.4 L1719.4 830.7 L1719.5 830.2 M115.5 825.5 L118.2 853.0 L120.7 847.8 L123.4 847.4 L125.0 846.9 L127.1 843.7 L130.1 840.2 L132.1 840.4 L135.0 838.5 L136.7 842.3 L138.1 843.8 L139.7 847.7 L141.4 844.8 L143.2 846.8 L146.1 847.9 L148.8 847.5 L150.8 847.8 L153.5 848.6 L156.1 849.5 L158.8 850.3 L161.5 853.5 L164.8 855.8 L166.8 857.2 L169.2 874.4 L170.0 853.2 L170.6 843.4 L171.5 841.5 L174.2 844.4 L176.5 840.8 L178.2 841.5 L179.8 841.5 L181.5 846.0 L183.5 848.8 L185.9 856.6 L188.2 851.1 L190.2 849.6 L192.2 846.9 L193.6 844.8 L196.2 839.5 L198.9 841.6 L202.3 844.0 L204.0 845.3 L206.3 850.7 L208.3 848.5 L210.3 849.7 L213.0 849.1 L215.0 847.3 L217.6 844.2 L220.7 846.2 L222.3 832.7 L223.3 827.5 L225.1 853.0 L227.6 847.8 L230.3 846.7 L231.9 846.9 L234.0 843.7 L237.0 840.2 L239.0 840.4 L241.9 838.5 L243.7 842.3 L245.0 843.8 L246.6 847.7 L248.4 844.8 L250.1 846.8 L253.0 847.9 L255.7 847.5 L257.7 847.8 L260.4 848.6 L263.1 849.5 L265.7 850.3 L268.4 853.5 L271.8 855.8 L273.8 857.2 L276.2 874.4 L277.0 853.2 L277.5 843.4 L278.4 841.5 L281.1 844.4 L283.4 840.8 L285.1 841.5 L286.7 841.5 L288.5 846.0 L290.5 848.8 L292.9 856.6 L295.2 851.1 L297.2 849.6 L299.2 846.9 L300.5 844.8 L303.2 839.5 L305.8 841.6 L309.2 844.0 L310.9 845.3 L313.2 850.7 L315.2 848.5 L317.2 849.7 L319.9 849.1 L321.9 847.3 L324.6 844.2 L327.6 846.2 L329.2 832.7 L330.2 827.5 L332.0 853.0 L334.6 847.8 L337.2 846.7 L338.8 846.9 L341.0 843.7 L343.9 840.2 L345.9 840.4 L348.9 838.5 L350.6 842.3 L351.9 843.8 L353.5 847.7 L355.3 844.8 L357.0 846.8 L360.0 847.9 L362.6 847.5 L364.6 847.8 L367.3 848.6 L370.0 849.5 L372.7 850.3 L375.3 853.5 L378.7 855.8 L380.7 857.2 L383.1 874.4 L383.9 853.2 L384.4 843.4 L385.4 841.5 L388.0 844.4 L390.3 840.8 L392.1 841.5 L393.7 841.5 L395.4 846.0 L397.4 848.8 L399.8 856.6 L402.1 851.1 L404.1 849.6 L406.1 846.9 L407.4 844.8 L410.1 839.5 L412.8 841.6 L416.1 844.0 L417.9 845.3 L420.1 850.7 L422.1 848.5 L424.1 849.7 L426.8 849.1 L428.8 847.3 L431.5 844.2 L434.6 846.2 L436.2 832.7 L437.1 827.5 L439.0 853.0 L441.5 847.8 L444.2 846.7 L445.8 846.9 L447.9 843.7 L450.9 840.2 L452.9 840.4 L455.8 838.5 L457.5 842.3 L458.9 843.8 L460.5 847.7 L462.2 844.8 L464.0 846.8 L466.9 847.9 L469.6 847.5 L471.6 847.8 L474.3 848.6 L476.9 849.5 L479.6 850.3 L482.3 853.5 L485.6 855.8 L487.6 857.2 L490.0 874.4 L490.8 853.2 L491.4 843.4 L492.3 841.5 L495.0 844.4 L497.3 840.8 L499.0 841.5 L500.6 841.5 L502.3 846.0 L504.3 848.8 L506.7 856.6 L509.0 851.1 L511.0 849.6 L513.0 846.9 L514.4 844.8 L517.0 839.5 L519.7 841.6 L523.1 844.0 L524.8 845.3 L527.1 850.7 L529.1 848.5 L531.1 849.7 L533.8 849.1 L535.8 847.3 L538.4 844.2 L541.5 846.2 L543.1 832.7 L544.1 827.5 L545.9 853.0 L548.4 847.8 L551.1 846.7 L552.7 846.9 L554.8 843.7 L557.8 840.2 L559.8 840.4 L562.7 838.5 L564.5 842.3 L565.8 843.8 L567.4 847.7 L569.2 844.8 L570.9 846.8 L573.8 847.9 L576.5 847.5 L578.5 847.8 L581.2 848.6 L583.9 849.5 L586.5 850.3 L589.2 853.5 L592.6 855.8 L594.6 857.2 L597.0 874.4 L597.8 853.2 L598.3 843.4 L599.2 841.5 L601.9 844.4 L604.2 840.8 L605.9 841.5 L607.5 841.5 L609.3 846.0 L611.3 848.8 L613.7 856.6 L616.0 851.1 L618.0 849.6 L620.0 846.9 L621.3 844.8 L624.0 839.5 L626.6 841.6 L630.0 844.0 L631.7 845.3 L634.0 850.7 L636.0 848.5 L638.0 849.7 L640.7 849.1 L642.7 847.3 L645.4 843.4 L648.4 841.3 L650.0 832.7 L651.0 827.5 L653.9 839.0 L656.2 813.1 L658.2 805.2 L660.2 791.2 L662.9 783.4 L666.2 785.2 L670.0 785.9 L671.0 797.9 L672.2 812.1 L673.6 823.8 L676.2 842.1 L677.6 853.7 L679.6 869.1 L682.3 886.6 L684.9 902.6 L688.3 908.4 L691.6 909.2 L695.0 905.3 L697.0 896.3 L699.0 885.0 L701.0 870.5 L703.7 867.9 L705.0 836.7 L705.7 814.0 L708.3 804.6 L711.0 791.2 L713.0 781.9 L715.7 776.7 L717.7 787.2 L719.4 791.7 L722.4 803.7 L724.4 812.5 L726.4 821.7 L728.4 832.6 L731.1 843.4 L732.4 858.1 L734.4 873.4 L736.4 886.6 L738.4 904.0 L741.1 916.2 L743.8 911.9 L746.4 908.6 L749.8 902.0 L751.8 886.6 L753.8 872.1 L755.8 861.3 L757.1 851.4 L757.9 826.8 L760.9 839.0 L763.1 814.0 L765.1 805.1 L767.1 791.2 L769.8 783.4 L773.1 785.2 L776.9 785.9 L778.0 797.9 L779.2 812.1 L780.5 823.8 L783.2 842.1 L784.5 853.7 L786.5 869.1 L789.2 886.6 L791.9 902.6 L795.2 908.4 L798.6 909.2 L801.9 905.3 L803.9 896.3 L805.9 885.0 L807.9 870.5 L810.6 867.9 L811.9 836.7 L812.6 814.0 L815.3 804.6 L817.9 791.2 L819.9 781.9 L822.6 776.7 L824.6 787.2 L826.4 791.7 L829.3 803.7 L831.3 812.5 L833.3 821.7 L835.3 832.6 L838.0 843.4 L839.3 858.1 L841.3 873.4 L843.3 886.6 L845.3 904.0 L848.0 916.2 L850.7 911.9 L853.4 908.6 L856.7 902.0 L858.7 886.6 L860.7 872.1 L862.7 861.3 L864.1 851.4 L864.9 826.8 L867.8 839.0 L870.1 814.0 L872.1 805.1 L874.1 791.2 L876.7 783.4 L880.1 785.2 L883.8 785.9 L884.9 797.9 L886.1 812.1 L887.4 823.8 L890.1 842.1 L891.4 853.7 L893.5 869.1 L896.1 886.6 L898.8 902.6 L902.1 908.4 L905.5 909.2 L908.8 905.3 L910.8 896.3 L912.8 885.0 L914.8 870.5 L917.5 867.9 L918.9 836.7 L919.5 814.0 L922.2 804.6 L924.9 791.2 L926.9 781.9 L929.6 776.7 L931.6 787.2 L933.3 791.7 L936.2 803.7 L938.2 812.5 L940.2 821.7 L942.3 832.6 L944.9 843.4 L946.3 858.1 L948.3 873.4 L950.3 886.6 L952.3 904.0 L955.0 916.2 L957.6 911.9 L960.3 908.6 L963.6 902.0 L965.7 886.6 L967.7 872.1 L969.7 861.3 L971.0 851.4 L971.8 826.8 L974.7 839.0 L977.0 814.0 L979.0 805.1 L981.0 791.2 L983.7 783.4 L987.0 785.2 L990.8 785.9 L991.8 797.9 L993.0 812.1 L994.4 823.8 L997.0 842.1 L998.4 853.7 L1000.4 869.1 L1003.1 886.6 L1005.7 902.6 L1009.1 908.4 L1012.4 909.2 L1015.8 905.3 L1017.8 896.3 L1019.8 885.0 L1021.8 870.5 L1024.5 867.9 L1025.8 836.7 L1026.5 814.0 L1029.1 804.6 L1031.8 791.2 L1033.8 781.9 L1036.5 776.7 L1038.5 787.2 L1040.2 791.7 L1043.2 803.7 L1045.2 812.5 L1047.2 821.7 L1049.2 832.6 L1051.9 843.4 L1053.2 858.1 L1055.2 873.4 L1057.2 886.6 L1059.2 904.0 L1061.9 916.2 L1064.6 911.9 L1067.2 908.6 L1070.6 902.0 L1072.6 886.6 L1074.6 872.1 L1076.6 861.3 L1077.9 851.4 L1078.7 826.8 L1081.7 839.0 L1083.9 814.0 L1085.9 805.1 L1087.9 791.2 L1090.6 783.4 L1093.9 785.2 L1097.7 785.9 L1098.8 797.9 L1100.0 812.1 L1101.3 823.8 L1104.0 842.1 L1105.3 853.7 L1107.3 869.1 L1110.0 886.6 L1112.7 902.6 L1116.0 908.4 L1119.4 909.2 L1122.7 905.3 L1124.7 896.3 L1126.7 885.0 L1128.7 870.5 L1131.4 867.9 L1132.7 836.7 L1133.4 814.0 L1136.1 804.6 L1138.7 791.2 L1140.7 781.9 L1143.4 776.7 L1145.4 787.2 L1147.2 791.7 L1150.1 803.7 L1152.1 812.5 L1154.1 821.7 L1156.1 832.6 L1158.8 843.4 L1160.1 858.1 L1162.1 873.4 L1164.1 886.6 L1166.1 904.0 L1168.8 916.2 L1171.5 911.9 L1174.2 908.6 L1177.5 902.0 L1179.5 886.6 L1181.5 874.4 L1183.5 862.1 L1184.9 851.4 L1185.7 826.8 L1187.9 852.3 L1190.0 847.8 L1192.7 846.1 L1194.3 846.7 L1196.4 843.7 L1199.4 840.2 L1201.4 840.4 L1204.3 838.5 L1206.1 842.3 L1207.4 843.8 L1209.0 847.7 L1210.8 844.8 L1212.5 846.8 L1215.4 847.9 L1218.1 847.5 L1220.1 847.8 L1222.8 848.6 L1225.5 849.5 L1228.1 850.3 L1230.8 853.5 L1234.2 855.8 L1236.2 857.2 L1238.6 874.4 L1239.4 853.2 L1239.9 843.4 L1240.8 841.5 L1243.5 844.4 L1245.8 840.8 L1247.5 841.5 L1249.1 841.5 L1250.9 846.0 L1252.9 848.8 L1255.3 856.6 L1257.6 851.1 L1259.6 849.6 L1261.6 846.9 L1262.9 844.8 L1265.6 839.5 L1268.2 841.6 L1271.6 844.0 L1273.3 845.3 L1275.6 850.7 L1277.6 848.5 L1279.6 849.7 L1282.3 849.1 L1284.3 847.3 L1287.0 844.2 L1290.0 846.2 L1291.6 832.7 L1292.6 827.5 L1294.4 853.0 L1297.0 847.8 L1299.6 846.7 L1301.2 846.9 L1303.4 843.7 L1306.3 840.2 L1308.3 840.4 L1311.3 838.5 L1313.0 842.3 L1314.3 843.8 L1315.9 847.7 L1317.7 844.8 L1319.4 846.8 L1322.4 847.9 L1325.0 847.5 L1327.0 847.8 L1329.7 848.6 L1332.4 849.5 L1335.1 850.3 L1337.7 853.5 L1341.1 855.8 L1343.1 857.2 L1345.5 874.4 L1346.3 853.2 L1346.8 843.4 L1347.8 841.5 L1350.4 844.4 L1352.7 840.8 L1354.5 841.5 L1356.1 841.5 L1357.8 846.0 L1359.8 848.8 L1362.2 856.6 L1364.5 851.1 L1366.5 849.6 L1368.5 846.9 L1369.8 844.8 L1372.5 839.5 L1375.2 841.6 L1378.5 844.0 L1380.3 845.3 L1382.5 850.7 L1384.5 848.5 L1386.5 849.7 L1389.2 849.1 L1391.2 847.3 L1393.9 844.2 L1397.0 846.2 L1398.6 832.7 L1399.5 827.5 L1401.4 853.0 L1403.9 847.8 L1406.6 846.7 L1408.2 846.9 L1410.3 843.7 L1413.3 840.2 L1415.3 840.4 L1418.2 838.5 L1419.9 842.3 L1421.3 843.8 L1422.9 847.7 L1424.6 844.8 L1426.4 846.8 L1429.3 847.9 L1432.0 847.5 L1434.0 847.8 L1436.7 848.6 L1439.3 849.5 L1442.0 850.3 L1444.7 853.5 L1448.0 855.8 L1450.0 857.2 L1452.4 874.4 L1453.2 853.2 L1453.8 843.4 L1454.7 841.5 L1457.4 844.4 L1459.7 840.8 L1461.4 841.5 L1463.0 841.5 L1464.7 846.0 L1466.7 848.8 L1469.1 856.6 L1471.4 851.1 L1473.4 849.6 L1475.4 846.9 L1476.8 844.8 L1479.4 839.5 L1482.1 841.6 L1485.5 844.0 L1487.2 845.3 L1489.5 850.7 L1491.5 848.5 L1493.5 849.7 L1496.2 849.1 L1498.2 847.3 L1500.8 844.2 L1503.9 846.2 L1505.5 832.7 L1506.5 827.5 L1508.3 853.0 L1510.8 847.8 L1513.5 846.7 L1515.1 846.9 L1517.2 843.7 L1520.2 840.2 L1522.2 840.4 L1525.1 838.5 L1526.9 842.3 L1528.2 843.8 L1529.8 847.7 L1531.6 844.8 L1533.3 846.8 L1536.2 847.9 L1538.9 847.5 L1540.9 847.8 L1543.6 848.6 L1546.3 849.5 L1548.9 850.3 L1551.6 853.5 L1555.0 855.8 L1557.0 857.2 L1559.4 874.4 L1560.2 853.2 L1560.7 843.4 L1561.6 841.5 L1564.3 844.4 L1566.6 840.8 L1568.3 841.5 L1569.9 841.5 L1571.7 846.0 L1573.7 848.8 L1576.1 856.6 L1578.4 851.1 L1580.4 849.6 L1582.4 846.9 L1583.7 844.8 L1586.4 839.5 L1589.0 841.6 L1592.4 844.0 L1594.1 845.3 L1596.4 850.7 L1598.4 848.5 L1600.4 849.7 L1603.1 849.1 L1605.1 847.3 L1607.8 844.2 L1610.8 846.2 L1612.4 832.7 L1613.4 827.5 L1615.2 853.0 L1617.8 847.8 L1620.4 846.7 L1622.0 846.9 L1624.2 843.7 L1627.1 840.2 L1629.1 840.4 L1632.1 838.5 L1633.8 842.3 L1635.1 843.8 L1636.7 847.7 L1638.5 844.8 L1640.2 846.8 L1643.2 847.9 L1645.8 847.5 L1647.8 847.8 L1650.5 848.6 L1653.2 849.5 L1655.9 850.3 L1658.5 853.5 L1661.9 855.8 L1663.9 857.2 L1666.3 874.4 L1667.1 853.2 L1667.6 843.4 L1668.6 841.5 L1671.2 844.4 L1673.5 840.8 L1675.3 841.5 L1676.9 841.5 L1678.6 846.0 L1680.6 848.8 L1683.0 856.6 L1685.3 851.1 L1687.3 849.6 L1689.3 846.9 L1690.6 844.8 L1693.3 839.5 L1696.0 841.6 L1699.3 844.0 L1701.1 845.3 L1703.3 850.7 L1705.3 848.5 L1707.3 849.7 L1710.0 849.1 L1712.0 847.3 L1714.7 846.6 L1717.8 846.5 L1719.4 832.7 L1719.5 832.1" fill="none" stroke="#ff00ff" stroke-width="5.70" stroke-linejoin="round" stroke-linecap="butt"/>
<text transform="translate(115.00 1007.00) scale(0.9600 1)" font-size="40.30" text-anchor="middle">20</text>
<text transform="translate(382.33 1007.00) scale(0.9600 1)" font-size="40.30" text-anchor="middle">25</text>
<text transform="translate(649.67 1007.00) scale(0.9600 1)" font-size="40.30" text-anchor="middle">30</text>
<text transform="translate(917.00 1007.00) scale(0.9600 1)" font-size="40.30" text-anchor="middle">35</text>
<text transform="translate(1184.33 1007.00) scale(0.9600 1)" font-size="40.30" text-anchor="middle">40</text>
<text transform="translate(1451.67 1007.00) scale(0.9600 1)" font-size="40.30" text-anchor="middle">45</text>
<text transform="translate(1719.00 1007.00) scale(0.9600 1)" font-size="40.30" text-anchor="middle">50</text>
<text transform="translate(101.40 790.47) scale(0.9600 1)" font-size="40.60" text-anchor="end">1</text>
<text transform="translate(102.90 862.40) scale(0.9600 1)" font-size="40.60" text-anchor="end">0</text>
<text transform="translate(101.40 934.33) scale(0.9600 1)" font-size="40.60" text-anchor="end">-1</text>
<text transform="translate(131.50 735.40) scale(1.0000 1)" font-size="48.70" text-anchor="middle">×</text>
<text transform="translate(189.00 729.40) scale(0.9600 1)" font-size="40.30" text-anchor="end">10</text>
<text transform="translate(191.30 712.70) scale(0.9550 1)" font-size="31.50" text-anchor="start">-4</text>
<text transform="translate(49.00 848.30) rotate(-90) scale(0.9450 1)" font-size="45.50" text-anchor="middle">C3 Error (m)</text>
</g>
<g>
<line x1="382.63" y1="1078.40" x2="382.63" y2="1297.30" stroke="#dedede" stroke-width="3.40"/>
<line x1="649.97" y1="1078.40" x2="649.97" y2="1297.30" stroke="#dedede" stroke-width="3.40"/>
<line x1="917.30" y1="1078.40" x2="917.30" y2="1297.30" stroke="#dedede" stroke-width="3.40"/>
<line x1="1184.63" y1="1078.40" x2="1184.63" y2="1297.30" stroke="#dedede" stroke-width="3.40"/>
<line x1="1451.97" y1="1078.40" x2="1451.97" y2="1297.30" stroke="#dedede" stroke-width="3.40"/>
<line x1="115.50" y1="1114.88" x2="1719.50" y2="1114.88" stroke="#dedede" stroke-width="3.30"/>
<line x1="115.50" y1="1187.85" x2="1719.50" y2="1187.85" stroke="#dedede" stroke-width="3.30"/>
<line x1="115.50" y1="1260.82" x2="1719.50" y2="1260.82" stroke="#dedede" stroke-width="3.30"/>
<line x1="382.83" y1="1297.30" x2="382.83" y2="1279.90" stroke="#262626" stroke-width="3.00"/>
<line x1="382.83" y1="1078.40" x2="382.83" y2="1095.80" stroke="#262626" stroke-width="3.00"/>
<line x1="650.17" y1="1297.30" x2="650.17" y2="1279.90" stroke="#262626" stroke-width="3.00"/>
<line x1="650.17" y1="1078.40" x2="650.17" y2="1095.80" stroke="#262626" stroke-width="3.00"/>
<line x1="917.50" y1="1297.30" x2="917.50" y2="1279.90" stroke="#262626" stroke-width="3.00"/>
<line x1="917.50" y1="1078.40" x2="917.50" y2="1095.80" stroke="#262626" stroke-width="3.00"/>
<line x1="1184.83" y1="1297.30" x2="1184.83" y2="1279.90" stroke="#262626" stroke-width="3.00"/>
<line x1="1184.83" y1="1078.40" x2="1184.83" y2="1095.80" stroke="#262626" stroke-width="3.00"/>
<line x1="1452.17" y1="1297.30" x2="1452.17" y2="1279.90" stroke="#262626" stroke-width="3.00"/>
<line x1="1452.17" y1="1078.40" x2="1452.17" y2="1095.80" stroke="#262626" stroke-width="3.00"/>
<line x1="115.50" y1="1114.88" x2="132.90" y2="1114.88" stroke="#262626" stroke-width="3.30"/>
<line x1="1719.50" y1="1114.88" x2="1702.10" y2="1114.88" stroke="#262626" stroke-width="3.30"/>
<line x1="115.50" y1="1187.85" x2="132.90" y2="1187.85" stroke="#262626" stroke-width="3.30"/>
<line x1="1719.50" y1="1187.85" x2="1702.10" y2="1187.85" stroke="#262626" stroke-width="3.30"/>
<line x1="115.50" y1="1260.82" x2="132.90" y2="1260.82" stroke="#262626" stroke-width="3.30"/>
<line x1="1719.50" y1="1260.82" x2="1702.10" y2="1260.82" stroke="#262626" stroke-width="3.30"/>
<line x1="114.00" y1="1078.40" x2="1721.00" y2="1078.40" stroke="#262626" stroke-width="2.90"/>
<line x1="114.00" y1="1297.30" x2="1721.00" y2="1297.30" stroke="#262626" stroke-width="3.00"/>
<line x1="115.50" y1="1076.75" x2="115.50" y2="1298.95" stroke="#262626" stroke-width="3.00"/>
<line x1="1719.50" y1="1076.75" x2="1719.50" y2="1298.95" stroke="#262626" stroke-width="3.00"/>
<path d="M115.5 1174.1 L118.2 1212.8 L119.6 1203.0 L121.4 1195.0 L123.4 1185.6 L125.0 1183.6 L127.1 1182.9 L130.1 1181.9 L132.1 1177.6 L133.8 1173.6 L135.4 1171.7 L136.7 1177.6 L138.1 1190.9 L140.1 1195.6 L143.4 1198.1 L146.1 1194.3 L148.5 1191.2 L150.8 1190.3 L152.5 1184.3 L153.9 1178.9 L155.1 1176.7 L156.8 1184.3 L158.4 1191.6 L160.5 1194.3 L163.5 1195.0 L166.8 1196.3 L169.1 1197.9 L169.8 1178.9 L170.6 1164.2 L171.5 1159.7 L172.8 1168.2 L174.4 1177.6 L176.5 1180.9 L179.5 1182.9 L181.5 1188.3 L183.5 1197.6 L186.5 1204.1 L188.9 1196.3 L190.9 1188.3 L192.9 1180.2 L194.5 1176.5 L196.5 1174.7 L198.9 1178.9 L202.3 1182.9 L203.6 1192.3 L205.9 1202.1 L207.9 1195.0 L210.0 1190.3 L213.2 1188.0 L215.4 1181.6 L217.6 1178.9 L220.3 1178.2 L222.7 1176.7 L225.1 1212.8 L226.6 1203.0 L228.3 1195.0 L230.3 1185.6 L231.9 1183.6 L234.0 1182.9 L237.0 1181.9 L239.0 1177.6 L240.7 1173.6 L242.3 1171.7 L243.7 1177.6 L245.0 1190.9 L247.0 1195.6 L250.4 1198.1 L253.0 1194.3 L255.4 1191.2 L257.7 1190.3 L259.5 1184.3 L260.8 1178.9 L262.0 1176.7 L263.7 1184.3 L265.3 1191.6 L267.5 1194.3 L270.4 1195.0 L273.8 1196.3 L276.0 1197.9 L276.7 1178.9 L277.5 1164.2 L278.4 1159.7 L279.8 1168.2 L281.4 1177.6 L283.4 1180.9 L286.5 1182.9 L288.5 1188.3 L290.5 1197.6 L293.4 1204.1 L295.8 1196.3 L297.8 1188.3 L299.8 1180.2 L301.4 1176.5 L303.4 1174.7 L305.8 1178.9 L309.2 1182.9 L310.5 1192.3 L312.8 1202.1 L314.8 1195.0 L316.9 1190.3 L320.2 1188.0 L322.3 1181.6 L324.6 1178.9 L327.2 1178.2 L329.6 1176.7 L332.0 1212.8 L333.5 1203.0 L335.2 1195.0 L337.2 1185.6 L338.8 1183.6 L341.0 1182.9 L343.9 1181.9 L345.9 1177.6 L347.7 1173.6 L349.3 1171.7 L350.6 1177.6 L351.9 1190.9 L354.0 1195.6 L357.3 1198.1 L360.0 1194.3 L362.4 1191.2 L364.6 1190.3 L366.4 1184.3 L367.7 1178.9 L368.9 1176.7 L370.7 1184.3 L372.3 1191.6 L374.4 1194.3 L377.4 1195.0 L380.7 1196.3 L383.0 1197.9 L383.6 1178.9 L384.4 1164.2 L385.4 1159.7 L386.7 1168.2 L388.3 1177.6 L390.3 1180.9 L393.4 1182.9 L395.4 1188.3 L397.4 1197.6 L400.3 1204.1 L402.8 1196.3 L404.8 1188.3 L406.8 1180.2 L408.4 1176.5 L410.4 1174.7 L412.8 1178.9 L416.1 1182.9 L417.5 1192.3 L419.7 1202.1 L421.7 1195.0 L423.9 1190.3 L427.1 1188.0 L429.2 1181.6 L431.5 1178.9 L434.2 1178.2 L436.6 1176.7 L439.0 1212.8 L440.4 1203.0 L442.2 1195.0 L444.2 1185.6 L445.8 1183.6 L447.9 1182.9 L450.9 1181.9 L452.9 1177.6 L454.6 1173.6 L456.2 1171.7 L457.5 1177.6 L458.9 1190.9 L460.9 1195.6 L464.2 1198.1 L466.9 1194.3 L469.3 1191.2 L471.6 1190.3 L473.3 1184.3 L474.7 1178.9 L475.9 1176.7 L477.6 1184.3 L479.2 1191.6 L481.3 1194.3 L484.3 1195.0 L487.6 1196.3 L489.9 1197.9 L490.6 1178.9 L491.4 1164.2 L492.3 1159.7 L493.6 1168.2 L495.2 1177.6 L497.3 1180.9 L500.3 1182.9 L502.3 1188.3 L504.3 1197.6 L507.3 1204.1 L509.7 1196.3 L511.7 1188.3 L513.7 1180.2 L515.3 1176.5 L517.3 1174.7 L519.7 1178.9 L523.1 1182.9 L524.4 1192.3 L526.7 1202.1 L528.7 1195.0 L530.8 1190.3 L534.0 1188.0 L536.2 1181.6 L538.4 1178.9 L541.1 1178.2 L543.5 1176.7 L545.9 1212.8 L547.4 1203.0 L549.1 1195.0 L551.1 1185.6 L552.7 1183.6 L554.8 1182.9 L557.8 1181.9 L559.8 1177.6 L561.5 1173.6 L563.1 1171.7 L564.5 1177.6 L565.8 1190.9 L567.8 1195.6 L571.2 1198.1 L573.8 1194.3 L576.2 1191.2 L578.5 1190.3 L580.3 1184.3 L581.6 1178.9 L582.8 1176.7 L584.5 1184.3 L586.1 1191.6 L588.3 1194.3 L591.2 1195.0 L594.6 1196.3 L596.8 1197.9 L597.5 1178.9 L598.3 1164.2 L599.2 1159.7 L600.6 1168.2 L602.2 1177.6 L604.2 1180.9 L607.3 1182.9 L609.3 1188.3 L611.3 1197.6 L614.2 1204.1 L616.6 1196.3 L618.6 1188.3 L620.6 1180.2 L622.2 1176.5 L624.2 1174.7 L626.6 1178.9 L630.0 1182.9 L631.3 1192.3 L633.6 1202.1 L635.6 1195.0 L637.7 1190.3 L641.0 1188.0 L643.1 1181.6 L645.4 1178.9 L648.0 1178.2 L650.4 1176.7 L652.6 1206.2 L654.2 1193.6 L655.5 1185.6 L658.2 1178.2 L661.5 1172.8 L664.2 1177.6 L665.9 1184.1 L668.2 1180.9 L670.2 1179.1 L671.8 1185.6 L672.9 1199.0 L675.6 1208.3 L678.9 1212.2 L682.3 1205.7 L685.6 1200.3 L687.3 1190.9 L688.7 1184.3 L690.5 1180.4 L693.0 1186.9 L695.6 1190.8 L699.0 1185.6 L702.3 1182.3 L703.7 1180.2 L704.3 1158.9 L706.1 1145.0 L707.7 1156.2 L709.7 1165.5 L713.0 1169.6 L715.0 1174.9 L716.4 1192.3 L718.1 1204.3 L720.4 1207.5 L723.7 1201.6 L727.7 1193.6 L730.7 1188.7 L733.7 1196.3 L737.1 1205.7 L739.8 1213.2 L741.8 1203.0 L743.8 1195.0 L746.4 1189.6 L749.1 1184.3 L750.5 1172.2 L753.8 1166.9 L757.1 1163.0 L759.5 1198.1 L761.1 1193.6 L762.5 1185.6 L765.1 1178.2 L768.5 1172.8 L771.1 1177.6 L772.9 1184.1 L775.2 1180.9 L777.2 1179.1 L778.8 1185.6 L779.8 1199.0 L782.5 1208.3 L785.8 1212.2 L789.2 1205.7 L792.5 1200.3 L794.3 1190.9 L795.6 1184.3 L797.5 1180.4 L799.9 1186.9 L802.6 1190.8 L805.9 1185.6 L809.2 1182.3 L810.6 1180.2 L811.3 1158.9 L813.0 1145.0 L814.6 1156.2 L816.6 1165.5 L819.9 1169.6 L822.0 1174.9 L823.3 1192.3 L825.0 1204.3 L827.3 1207.5 L830.6 1201.6 L834.7 1193.6 L837.6 1188.7 L840.7 1196.3 L844.0 1205.7 L846.7 1213.2 L848.7 1203.0 L850.7 1195.0 L853.4 1189.6 L856.0 1184.3 L857.4 1172.2 L860.7 1166.9 L864.1 1163.0 L866.5 1198.1 L868.0 1193.6 L869.4 1185.6 L872.1 1178.2 L875.4 1172.8 L878.1 1177.6 L879.8 1184.1 L882.1 1180.9 L884.1 1179.1 L885.7 1185.6 L886.8 1199.0 L889.4 1208.3 L892.8 1212.2 L896.1 1205.7 L899.5 1200.3 L901.2 1190.9 L902.5 1184.3 L904.4 1180.4 L906.8 1186.9 L909.5 1190.8 L912.8 1185.6 L916.2 1182.3 L917.5 1180.2 L918.2 1158.9 L919.9 1145.0 L921.5 1156.2 L923.5 1165.5 L926.9 1169.6 L928.9 1174.9 L930.2 1192.3 L932.0 1204.3 L934.2 1207.5 L937.6 1201.6 L941.6 1193.6 L944.5 1188.7 L947.6 1196.3 L950.9 1205.7 L953.6 1213.2 L955.6 1203.0 L957.6 1195.0 L960.3 1189.6 L963.0 1184.3 L964.3 1172.2 L967.7 1166.9 L971.0 1163.0 L973.4 1198.1 L975.0 1193.6 L976.3 1185.6 L979.0 1178.2 L982.3 1172.8 L985.0 1177.6 L986.7 1184.1 L989.0 1180.9 L991.0 1179.1 L992.6 1185.6 L993.7 1199.0 L996.4 1208.3 L999.7 1212.2 L1003.1 1205.7 L1006.4 1200.3 L1008.1 1190.9 L1009.5 1184.3 L1011.3 1180.4 L1013.8 1186.9 L1016.4 1190.8 L1019.8 1185.6 L1023.1 1182.3 L1024.5 1180.2 L1025.1 1158.9 L1026.9 1145.0 L1028.5 1156.2 L1030.5 1165.5 L1033.8 1169.6 L1035.8 1174.9 L1037.2 1192.3 L1038.9 1204.3 L1041.2 1207.5 L1044.5 1201.6 L1048.5 1193.6 L1051.5 1188.7 L1054.5 1196.3 L1057.9 1205.7 L1060.6 1213.2 L1062.6 1203.0 L1064.6 1195.0 L1067.2 1189.6 L1069.9 1184.3 L1071.3 1172.2 L1074.6 1166.9 L1077.9 1163.0 L1080.3 1198.1 L1081.9 1193.6 L1083.3 1185.6 L1085.9 1178.2 L1089.3 1172.8 L1091.9 1177.6 L1093.7 1184.1 L1096.0 1180.9 L1098.0 1179.1 L1099.6 1185.6 L1100.6 1199.0 L1103.3 1208.3 L1106.6 1212.2 L1110.0 1205.7 L1113.3 1200.3 L1115.1 1190.9 L1116.4 1184.3 L1118.3 1180.4 L1120.7 1186.9 L1123.4 1190.8 L1126.7 1185.6 L1130.0 1182.3 L1131.4 1180.2 L1132.1 1158.9 L1133.8 1145.0 L1135.4 1156.2 L1137.4 1165.5 L1140.7 1169.6 L1142.8 1174.9 L1144.1 1192.3 L1145.8 1204.3 L1148.1 1207.5 L1151.4 1201.6 L1155.5 1193.6 L1158.4 1188.7 L1161.5 1196.3 L1164.8 1205.7 L1167.5 1213.2 L1169.5 1203.0 L1171.5 1195.0 L1174.2 1189.6 L1176.8 1184.3 L1178.2 1172.2 L1181.5 1166.9 L1184.9 1163.0 L1187.3 1206.2 L1189.0 1203.0 L1190.7 1195.0 L1192.7 1185.6 L1194.3 1183.6 L1196.4 1182.9 L1199.4 1181.9 L1201.4 1177.6 L1203.1 1173.6 L1204.7 1171.7 L1206.1 1177.6 L1207.4 1190.9 L1209.4 1195.6 L1212.8 1198.1 L1215.4 1194.3 L1217.8 1191.2 L1220.1 1190.3 L1221.9 1184.3 L1223.2 1178.9 L1224.4 1176.7 L1226.1 1184.3 L1227.7 1191.6 L1229.9 1194.3 L1232.8 1195.0 L1236.2 1196.3 L1238.4 1197.9 L1239.1 1178.9 L1239.9 1164.2 L1240.8 1159.7 L1242.2 1168.2 L1243.8 1177.6 L1245.8 1180.9 L1248.9 1182.9 L1250.9 1188.3 L1252.9 1197.6 L1255.8 1204.1 L1258.2 1196.3 L1260.2 1188.3 L1262.2 1180.2 L1263.8 1176.5 L1265.8 1174.7 L1268.2 1178.9 L1271.6 1182.9 L1272.9 1192.3 L1275.2 1202.1 L1277.2 1195.0 L1279.3 1190.3 L1282.6 1188.0 L1284.7 1181.6 L1287.0 1178.9 L1289.6 1178.2 L1292.0 1176.7 L1294.4 1212.8 L1295.9 1203.0 L1297.6 1195.0 L1299.6 1185.6 L1301.2 1183.6 L1303.4 1182.9 L1306.3 1181.9 L1308.3 1177.6 L1310.1 1173.6 L1311.7 1171.7 L1313.0 1177.6 L1314.3 1190.9 L1316.4 1195.6 L1319.7 1198.1 L1322.4 1194.3 L1324.8 1191.2 L1327.0 1190.3 L1328.8 1184.3 L1330.1 1178.9 L1331.3 1176.7 L1333.1 1184.3 L1334.7 1191.6 L1336.8 1194.3 L1339.8 1195.0 L1343.1 1196.3 L1345.4 1197.9 L1346.0 1178.9 L1346.8 1164.2 L1347.8 1159.7 L1349.1 1168.2 L1350.7 1177.6 L1352.7 1180.9 L1355.8 1182.9 L1357.8 1188.3 L1359.8 1197.6 L1362.7 1204.1 L1365.2 1196.3 L1367.2 1188.3 L1369.2 1180.2 L1370.8 1176.5 L1372.8 1174.7 L1375.2 1178.9 L1378.5 1182.9 L1379.9 1192.3 L1382.1 1202.1 L1384.1 1195.0 L1386.3 1190.3 L1389.5 1188.0 L1391.6 1181.6 L1393.9 1178.9 L1396.6 1178.2 L1399.0 1176.7 L1401.4 1212.8 L1402.8 1203.0 L1404.6 1195.0 L1406.6 1185.6 L1408.2 1183.6 L1410.3 1182.9 L1413.3 1181.9 L1415.3 1177.6 L1417.0 1173.6 L1418.6 1171.7 L1419.9 1177.6 L1421.3 1190.9 L1423.3 1195.6 L1426.6 1198.1 L1429.3 1194.3 L1431.7 1191.2 L1434.0 1190.3 L1435.7 1184.3 L1437.1 1178.9 L1438.3 1176.7 L1440.0 1184.3 L1441.6 1191.6 L1443.7 1194.3 L1446.7 1195.0 L1450.0 1196.3 L1452.3 1197.9 L1453.0 1178.9 L1453.8 1164.2 L1454.7 1159.7 L1456.0 1168.2 L1457.6 1177.6 L1459.7 1180.9 L1462.7 1182.9 L1464.7 1188.3 L1466.7 1197.6 L1469.7 1204.1 L1472.1 1196.3 L1474.1 1188.3 L1476.1 1180.2 L1477.7 1176.5 L1479.7 1174.7 L1482.1 1178.9 L1485.5 1182.9 L1486.8 1192.3 L1489.1 1202.1 L1491.1 1195.0 L1493.2 1190.3 L1496.4 1188.0 L1498.6 1181.6 L1500.8 1178.9 L1503.5 1178.2 L1505.9 1176.7 L1508.3 1212.8 L1509.8 1203.0 L1511.5 1195.0 L1513.5 1185.6 L1515.1 1183.6 L1517.2 1182.9 L1520.2 1181.9 L1522.2 1177.6 L1523.9 1173.6 L1525.5 1171.7 L1526.9 1177.6 L1528.2 1190.9 L1530.2 1195.6 L1533.6 1198.1 L1536.2 1194.3 L1538.6 1191.2 L1540.9 1190.3 L1542.7 1184.3 L1544.0 1178.9 L1545.2 1176.7 L1546.9 1184.3 L1548.5 1191.6 L1550.7 1194.3 L1553.6 1195.0 L1557.0 1196.3 L1559.2 1197.9 L1559.9 1178.9 L1560.7 1164.2 L1561.6 1159.7 L1563.0 1168.2 L1564.6 1177.6 L1566.6 1180.9 L1569.7 1182.9 L1571.7 1188.3 L1573.7 1197.6 L1576.6 1204.1 L1579.0 1196.3 L1581.0 1188.3 L1583.0 1180.2 L1584.6 1176.5 L1586.6 1174.7 L1589.0 1178.9 L1592.4 1182.9 L1593.7 1192.3 L1596.0 1202.1 L1598.0 1195.0 L1600.1 1190.3 L1603.4 1188.0 L1605.5 1181.6 L1607.8 1178.9 L1610.4 1178.2 L1612.8 1176.7 L1615.2 1212.8 L1616.7 1203.0 L1618.4 1195.0 L1620.4 1185.6 L1622.0 1183.6 L1624.2 1182.9 L1627.1 1181.9 L1629.1 1177.6 L1630.9 1173.6 L1632.5 1171.7 L1633.8 1177.6 L1635.1 1190.9 L1637.2 1195.6 L1640.5 1198.1 L1643.2 1194.3 L1645.6 1191.2 L1647.8 1190.3 L1649.6 1184.3 L1650.9 1178.9 L1652.1 1176.7 L1653.9 1184.3 L1655.5 1191.6 L1657.6 1194.3 L1660.6 1195.0 L1663.9 1196.3 L1666.2 1197.9 L1666.8 1178.9 L1667.6 1164.2 L1668.6 1159.7 L1669.9 1168.2 L1671.5 1177.6 L1673.5 1180.9 L1676.6 1182.9 L1678.6 1188.3 L1680.6 1197.6 L1683.5 1204.1 L1686.0 1196.3 L1688.0 1188.3 L1690.0 1180.2 L1691.6 1176.5 L1693.6 1174.7 L1696.0 1178.9 L1699.3 1182.9 L1700.7 1192.3 L1702.9 1202.1 L1704.9 1195.0 L1707.1 1190.3 L1710.3 1188.0 L1712.4 1181.6 L1714.7 1178.9 L1717.4 1178.2 L1719.5 1177.3 M115.5 1175.0 L118.2 1211.9 L119.6 1202.1 L121.4 1194.1 L123.4 1186.5 L125.0 1184.5 L127.1 1183.4 L130.1 1181.0 L132.1 1178.5 L133.8 1174.5 L135.4 1172.6 L136.7 1178.5 L138.1 1190.0 L140.1 1194.7 L143.4 1197.2 L146.1 1193.7 L148.5 1190.7 L150.8 1189.4 L152.5 1185.2 L153.9 1179.8 L155.1 1177.6 L156.8 1185.2 L158.4 1190.7 L160.5 1193.4 L163.5 1194.1 L166.8 1195.4 L169.1 1197.0 L169.8 1179.8 L170.6 1165.1 L171.5 1160.6 L172.8 1169.1 L174.4 1178.5 L176.5 1180.0 L179.5 1183.8 L181.5 1189.2 L183.5 1196.7 L186.5 1203.2 L188.9 1195.4 L190.9 1188.4 L192.9 1181.1 L194.5 1177.4 L196.5 1175.6 L198.9 1179.8 L202.3 1183.8 L203.6 1191.4 L205.9 1201.2 L207.9 1194.1 L210.0 1190.5 L213.2 1187.3 L215.4 1182.5 L217.6 1179.8 L220.3 1179.1 L222.7 1177.6 L225.1 1211.9 L226.6 1202.1 L228.3 1194.1 L230.3 1186.5 L231.9 1184.5 L234.0 1183.4 L237.0 1181.0 L239.0 1178.5 L240.7 1174.5 L242.3 1172.6 L243.7 1178.5 L245.0 1190.0 L247.0 1194.7 L250.4 1197.2 L253.0 1193.7 L255.4 1190.7 L257.7 1189.4 L259.5 1185.2 L260.8 1179.8 L262.0 1177.6 L263.7 1185.2 L265.3 1190.7 L267.5 1193.4 L270.4 1194.1 L273.8 1195.4 L276.0 1197.0 L276.7 1179.8 L277.5 1165.1 L278.4 1160.6 L279.8 1169.1 L281.4 1178.5 L283.4 1180.0 L286.5 1183.8 L288.5 1189.2 L290.5 1196.7 L293.4 1203.2 L295.8 1195.4 L297.8 1188.4 L299.8 1181.1 L301.4 1177.4 L303.4 1175.6 L305.8 1179.8 L309.2 1183.8 L310.5 1191.4 L312.8 1201.2 L314.8 1194.1 L316.9 1190.5 L320.2 1187.3 L322.3 1182.5 L324.6 1179.8 L327.2 1179.1 L329.6 1177.6 L332.0 1211.9 L333.5 1202.1 L335.2 1194.1 L337.2 1186.5 L338.8 1184.5 L341.0 1183.4 L343.9 1181.0 L345.9 1178.5 L347.7 1174.5 L349.3 1172.6 L350.6 1178.5 L351.9 1190.0 L354.0 1194.7 L357.3 1197.2 L360.0 1193.7 L362.4 1190.7 L364.6 1189.4 L366.4 1185.2 L367.7 1179.8 L368.9 1177.6 L370.7 1185.2 L372.3 1190.7 L374.4 1193.4 L377.4 1194.1 L380.7 1195.4 L383.0 1197.0 L383.6 1179.8 L384.4 1165.1 L385.4 1160.6 L386.7 1169.1 L388.3 1178.5 L390.3 1180.0 L393.4 1183.8 L395.4 1189.2 L397.4 1196.7 L400.3 1203.2 L402.8 1195.4 L404.8 1188.4 L406.8 1181.1 L408.4 1177.4 L410.4 1175.6 L412.8 1179.8 L416.1 1183.8 L417.5 1191.4 L419.7 1201.2 L421.7 1194.1 L423.9 1190.5 L427.1 1187.3 L429.2 1182.5 L431.5 1179.8 L434.2 1179.1 L436.6 1177.6 L439.0 1211.9 L440.4 1202.1 L442.2 1194.1 L444.2 1186.5 L445.8 1184.5 L447.9 1183.4 L450.9 1181.0 L452.9 1178.5 L454.6 1174.5 L456.2 1172.6 L457.5 1178.5 L458.9 1190.0 L460.9 1194.7 L464.2 1197.2 L466.9 1193.7 L469.3 1190.7 L471.6 1189.4 L473.3 1185.2 L474.7 1179.8 L475.9 1177.6 L477.6 1185.2 L479.2 1190.7 L481.3 1193.4 L484.3 1194.1 L487.6 1195.4 L489.9 1197.0 L490.6 1179.8 L491.4 1165.1 L492.3 1160.6 L493.6 1169.1 L495.2 1178.5 L497.3 1180.0 L500.3 1183.8 L502.3 1189.2 L504.3 1196.7 L507.3 1203.2 L509.7 1195.4 L511.7 1188.4 L513.7 1181.1 L515.3 1177.4 L517.3 1175.6 L519.7 1179.8 L523.1 1183.8 L524.4 1191.4 L526.7 1201.2 L528.7 1194.1 L530.8 1190.5 L534.0 1187.3 L536.2 1182.5 L538.4 1179.8 L541.1 1179.1 L543.5 1177.6 L545.9 1211.9 L547.4 1202.1 L549.1 1194.1 L551.1 1186.5 L552.7 1184.5 L554.8 1183.4 L557.8 1181.0 L559.8 1178.5 L561.5 1174.5 L563.1 1172.6 L564.5 1178.5 L565.8 1190.0 L567.8 1194.7 L571.2 1197.2 L573.8 1193.7 L576.2 1190.7 L578.5 1189.4 L580.3 1185.2 L581.6 1179.8 L582.8 1177.6 L584.5 1185.2 L586.1 1190.7 L588.3 1193.4 L591.2 1194.1 L594.6 1195.4 L596.8 1197.0 L597.5 1179.8 L598.3 1165.1 L599.2 1160.6 L600.6 1169.1 L602.2 1178.5 L604.2 1180.0 L607.3 1183.8 L609.3 1189.2 L611.3 1196.7 L614.2 1203.2 L616.6 1195.4 L618.6 1188.4 L620.6 1181.1 L622.2 1177.4 L624.2 1175.6 L626.6 1179.8 L630.0 1183.8 L631.3 1191.4 L633.6 1201.2 L635.6 1194.1 L637.7 1190.5 L641.0 1187.3 L643.1 1182.5 L645.4 1179.8 L648.0 1179.1 L650.4 1177.6 L652.6 1205.3 L654.2 1192.7 L655.5 1184.7 L658.2 1179.1 L661.5 1173.7 L664.2 1178.1 L665.9 1183.2 L668.2 1181.8 L670.2 1180.0 L671.8 1186.5 L672.9 1198.1 L675.6 1207.4 L678.9 1211.3 L682.3 1204.8 L685.6 1199.4 L687.3 1191.8 L688.7 1185.2 L690.5 1181.3 L693.0 1187.0 L695.6 1189.9 L699.0 1184.7 L702.3 1181.4 L703.7 1179.3 L704.3 1159.8 L706.1 1145.9 L707.7 1157.1 L709.7 1166.0 L713.0 1170.5 L715.0 1175.8 L716.4 1191.4 L718.1 1203.4 L720.4 1206.6 L723.7 1200.7 L727.7 1194.5 L730.7 1189.6 L733.7 1197.2 L737.1 1204.8 L739.8 1212.3 L741.8 1202.1 L743.8 1195.6 L746.4 1189.2 L749.1 1183.4 L750.5 1173.1 L753.8 1167.8 L757.1 1163.9 L759.5 1197.2 L761.1 1192.7 L762.5 1184.7 L765.1 1179.1 L768.5 1173.7 L771.1 1178.1 L772.9 1183.2 L775.2 1181.8 L777.2 1180.0 L778.8 1186.5 L779.8 1198.1 L782.5 1207.4 L785.8 1211.3 L789.2 1204.8 L792.5 1199.4 L794.3 1191.8 L795.6 1185.2 L797.5 1181.3 L799.9 1187.0 L802.6 1189.9 L805.9 1184.7 L809.2 1181.4 L810.6 1179.3 L811.3 1159.8 L813.0 1145.9 L814.6 1157.1 L816.6 1166.0 L819.9 1170.5 L822.0 1175.8 L823.3 1191.4 L825.0 1203.4 L827.3 1206.6 L830.6 1200.7 L834.7 1194.5 L837.6 1189.6 L840.7 1197.2 L844.0 1204.8 L846.7 1212.3 L848.7 1202.1 L850.7 1195.6 L853.4 1189.2 L856.0 1183.4 L857.4 1173.1 L860.7 1167.8 L864.1 1163.9 L866.5 1197.2 L868.0 1192.7 L869.4 1184.7 L872.1 1179.1 L875.4 1173.7 L878.1 1178.1 L879.8 1183.2 L882.1 1181.8 L884.1 1180.0 L885.7 1186.5 L886.8 1198.1 L889.4 1207.4 L892.8 1211.3 L896.1 1204.8 L899.5 1199.4 L901.2 1191.8 L902.5 1185.2 L904.4 1181.3 L906.8 1187.0 L909.5 1189.9 L912.8 1184.7 L916.2 1181.4 L917.5 1179.3 L918.2 1159.8 L919.9 1145.9 L921.5 1157.1 L923.5 1166.0 L926.9 1170.5 L928.9 1175.8 L930.2 1191.4 L932.0 1203.4 L934.2 1206.6 L937.6 1200.7 L941.6 1194.5 L944.5 1189.6 L947.6 1197.2 L950.9 1204.8 L953.6 1212.3 L955.6 1202.1 L957.6 1195.6 L960.3 1189.2 L963.0 1183.4 L964.3 1173.1 L967.7 1167.8 L971.0 1163.9 L973.4 1197.2 L975.0 1192.7 L976.3 1184.7 L979.0 1179.1 L982.3 1173.7 L985.0 1178.1 L986.7 1183.2 L989.0 1181.8 L991.0 1180.0 L992.6 1186.5 L993.7 1198.1 L996.4 1207.4 L999.7 1211.3 L1003.1 1204.8 L1006.4 1199.4 L1008.1 1191.8 L1009.5 1185.2 L1011.3 1181.3 L1013.8 1187.0 L1016.4 1189.9 L1019.8 1184.7 L1023.1 1181.4 L1024.5 1179.3 L1025.1 1159.8 L1026.9 1145.9 L1028.5 1157.1 L1030.5 1166.0 L1033.8 1170.5 L1035.8 1175.8 L1037.2 1191.4 L1038.9 1203.4 L1041.2 1206.6 L1044.5 1200.7 L1048.5 1194.5 L1051.5 1189.6 L1054.5 1197.2 L1057.9 1204.8 L1060.6 1212.3 L1062.6 1202.1 L1064.6 1195.6 L1067.2 1189.2 L1069.9 1183.4 L1071.3 1173.1 L1074.6 1167.8 L1077.9 1163.9 L1080.3 1197.2 L1081.9 1192.7 L1083.3 1184.7 L1085.9 1179.1 L1089.3 1173.7 L1091.9 1178.1 L1093.7 1183.2 L1096.0 1181.8 L1098.0 1180.0 L1099.6 1186.5 L1100.6 1198.1 L1103.3 1207.4 L1106.6 1211.3 L1110.0 1204.8 L1113.3 1199.4 L1115.1 1191.8 L1116.4 1185.2 L1118.3 1181.3 L1120.7 1187.0 L1123.4 1189.9 L1126.7 1184.7 L1130.0 1181.4 L1131.4 1179.3 L1132.1 1159.8 L1133.8 1145.9 L1135.4 1157.1 L1137.4 1166.0 L1140.7 1170.5 L1142.8 1175.8 L1144.1 1191.4 L1145.8 1203.4 L1148.1 1206.6 L1151.4 1200.7 L1155.5 1194.5 L1158.4 1189.6 L1161.5 1197.2 L1164.8 1204.8 L1167.5 1212.3 L1169.5 1202.1 L1171.5 1195.6 L1174.2 1189.2 L1176.8 1183.4 L1178.2 1173.1 L1181.5 1167.8 L1184.9 1163.9 L1187.3 1205.3 L1189.0 1202.1 L1190.7 1194.1 L1192.7 1186.5 L1194.3 1184.5 L1196.4 1183.4 L1199.4 1181.0 L1201.4 1178.5 L1203.1 1174.5 L1204.7 1172.6 L1206.1 1178.5 L1207.4 1190.0 L1209.4 1194.7 L1212.8 1197.2 L1215.4 1193.7 L1217.8 1190.7 L1220.1 1189.4 L1221.9 1185.2 L1223.2 1179.8 L1224.4 1177.6 L1226.1 1185.2 L1227.7 1190.7 L1229.9 1193.4 L1232.8 1194.1 L1236.2 1195.4 L1238.4 1197.0 L1239.1 1179.8 L1239.9 1165.1 L1240.8 1160.6 L1242.2 1169.1 L1243.8 1178.5 L1245.8 1180.0 L1248.9 1183.8 L1250.9 1189.2 L1252.9 1196.7 L1255.8 1203.2 L1258.2 1195.4 L1260.2 1188.4 L1262.2 1181.1 L1263.8 1177.4 L1265.8 1175.6 L1268.2 1179.8 L1271.6 1183.8 L1272.9 1191.4 L1275.2 1201.2 L1277.2 1194.1 L1279.3 1190.5 L1282.6 1187.3 L1284.7 1182.5 L1287.0 1179.8 L1289.6 1179.1 L1292.0 1177.6 L1294.4 1211.9 L1295.9 1202.1 L1297.6 1194.1 L1299.6 1186.5 L1301.2 1184.5 L1303.4 1183.4 L1306.3 1181.0 L1308.3 1178.5 L1310.1 1174.5 L1311.7 1172.6 L1313.0 1178.5 L1314.3 1190.0 L1316.4 1194.7 L1319.7 1197.2 L1322.4 1193.7 L1324.8 1190.7 L1327.0 1189.4 L1328.8 1185.2 L1330.1 1179.8 L1331.3 1177.6 L1333.1 1185.2 L1334.7 1190.7 L1336.8 1193.4 L1339.8 1194.1 L1343.1 1195.4 L1345.4 1197.0 L1346.0 1179.8 L1346.8 1165.1 L1347.8 1160.6 L1349.1 1169.1 L1350.7 1178.5 L1352.7 1180.0 L1355.8 1183.8 L1357.8 1189.2 L1359.8 1196.7 L1362.7 1203.2 L1365.2 1195.4 L1367.2 1188.4 L1369.2 1181.1 L1370.8 1177.4 L1372.8 1175.6 L1375.2 1179.8 L1378.5 1183.8 L1379.9 1191.4 L1382.1 1201.2 L1384.1 1194.1 L1386.3 1190.5 L1389.5 1187.3 L1391.6 1182.5 L1393.9 1179.8 L1396.6 1179.1 L1399.0 1177.6 L1401.4 1211.9 L1402.8 1202.1 L1404.6 1194.1 L1406.6 1186.5 L1408.2 1184.5 L1410.3 1183.4 L1413.3 1181.0 L1415.3 1178.5 L1417.0 1174.5 L1418.6 1172.6 L1419.9 1178.5 L1421.3 1190.0 L1423.3 1194.7 L1426.6 1197.2 L1429.3 1193.7 L1431.7 1190.7 L1434.0 1189.4 L1435.7 1185.2 L1437.1 1179.8 L1438.3 1177.6 L1440.0 1185.2 L1441.6 1190.7 L1443.7 1193.4 L1446.7 1194.1 L1450.0 1195.4 L1452.3 1197.0 L1453.0 1179.8 L1453.8 1165.1 L1454.7 1160.6 L1456.0 1169.1 L1457.6 1178.5 L1459.7 1180.0 L1462.7 1183.8 L1464.7 1189.2 L1466.7 1196.7 L1469.7 1203.2 L1472.1 1195.4 L1474.1 1188.4 L1476.1 1181.1 L1477.7 1177.4 L1479.7 1175.6 L1482.1 1179.8 L1485.5 1183.8 L1486.8 1191.4 L1489.1 1201.2 L1491.1 1194.1 L1493.2 1190.5 L1496.4 1187.3 L1498.6 1182.5 L1500.8 1179.8 L1503.5 1179.1 L1505.9 1177.6 L1508.3 1211.9 L1509.8 1202.1 L1511.5 1194.1 L1513.5 1186.5 L1515.1 1184.5 L1517.2 1183.4 L1520.2 1181.0 L1522.2 1178.5 L1523.9 1174.5 L1525.5 1172.6 L1526.9 1178.5 L1528.2 1190.0 L1530.2 1194.7 L1533.6 1197.2 L1536.2 1193.7 L1538.6 1190.7 L1540.9 1189.4 L1542.7 1185.2 L1544.0 1179.8 L1545.2 1177.6 L1546.9 1185.2 L1548.5 1190.7 L1550.7 1193.4 L1553.6 1194.1 L1557.0 1195.4 L1559.2 1197.0 L1559.9 1179.8 L1560.7 1165.1 L1561.6 1160.6 L1563.0 1169.1 L1564.6 1178.5 L1566.6 1180.0 L1569.7 1183.8 L1571.7 1189.2 L1573.7 1196.7 L1576.6 1203.2 L1579.0 1195.4 L1581.0 1188.4 L1583.0 1181.1 L1584.6 1177.4 L1586.6 1175.6 L1589.0 1179.8 L1592.4 1183.8 L1593.7 1191.4 L1596.0 1201.2 L1598.0 1194.1 L1600.1 1190.5 L1603.4 1187.3 L1605.5 1182.5 L1607.8 1179.8 L1610.4 1179.1 L1612.8 1177.6 L1615.2 1211.9 L1616.7 1202.1 L1618.4 1194.1 L1620.4 1186.5 L1622.0 1184.5 L1624.2 1183.4 L1627.1 1181.0 L1629.1 1178.5 L1630.9 1174.5 L1632.5 1172.6 L1633.8 1178.5 L1635.1 1190.0 L1637.2 1194.7 L1640.5 1197.2 L1643.2 1193.7 L1645.6 1190.7 L1647.8 1189.4 L1649.6 1185.2 L1650.9 1179.8 L1652.1 1177.6 L1653.9 1185.2 L1655.5 1190.7 L1657.6 1193.4 L1660.6 1194.1 L1663.9 1195.4 L1666.2 1197.0 L1666.8 1179.8 L1667.6 1165.1 L1668.6 1160.6 L1669.9 1169.1 L1671.5 1178.5 L1673.5 1180.0 L1676.6 1183.8 L1678.6 1189.2 L1680.6 1196.7 L1683.5 1203.2 L1686.0 1195.4 L1688.0 1188.4 L1690.0 1181.1 L1691.6 1177.4 L1693.6 1175.6 L1696.0 1179.8 L1699.3 1183.8 L1700.7 1191.4 L1702.9 1201.2 L1704.9 1194.1 L1707.1 1190.5 L1710.3 1187.3 L1712.4 1182.5 L1714.7 1179.8 L1717.4 1179.1 L1719.5 1178.1 M115.5 1175.9 L118.2 1211.0 L119.6 1201.2 L121.4 1193.2 L123.4 1187.4 L125.0 1185.4 L127.1 1183.9 L130.1 1180.1 L132.1 1179.4 L133.8 1175.4 L135.4 1173.5 L136.7 1179.4 L138.1 1189.1 L140.1 1193.8 L143.4 1196.3 L146.1 1193.1 L148.5 1190.2 L150.8 1188.5 L152.5 1186.1 L153.9 1180.7 L155.1 1178.5 L156.8 1186.1 L158.4 1189.8 L160.5 1192.5 L163.5 1193.2 L166.8 1194.5 L169.1 1196.1 L169.8 1180.7 L170.6 1166.0 L171.5 1161.5 L172.8 1170.0 L174.4 1179.4 L176.5 1179.1 L179.5 1184.7 L181.5 1190.1 L183.5 1195.8 L186.5 1202.3 L188.9 1194.5 L190.9 1188.6 L192.9 1182.0 L194.5 1178.3 L196.5 1176.5 L198.9 1180.7 L202.3 1184.7 L203.6 1190.5 L205.9 1200.3 L207.9 1193.2 L210.0 1190.7 L213.2 1186.6 L215.4 1183.4 L217.6 1180.7 L220.3 1180.0 L222.7 1178.5 L225.1 1211.0 L226.6 1201.2 L228.3 1193.2 L230.3 1187.4 L231.9 1185.4 L234.0 1183.9 L237.0 1180.1 L239.0 1179.4 L240.7 1175.4 L242.3 1173.5 L243.7 1179.4 L245.0 1189.1 L247.0 1193.8 L250.4 1196.3 L253.0 1193.1 L255.4 1190.2 L257.7 1188.5 L259.5 1186.1 L260.8 1180.7 L262.0 1178.5 L263.7 1186.1 L265.3 1189.8 L267.5 1192.5 L270.4 1193.2 L273.8 1194.5 L276.0 1196.1 L276.7 1180.7 L277.5 1166.0 L278.4 1161.5 L279.8 1170.0 L281.4 1179.4 L283.4 1179.1 L286.5 1184.7 L288.5 1190.1 L290.5 1195.8 L293.4 1202.3 L295.8 1194.5 L297.8 1188.6 L299.8 1182.0 L301.4 1178.3 L303.4 1176.5 L305.8 1180.7 L309.2 1184.7 L310.5 1190.5 L312.8 1200.3 L314.8 1193.2 L316.9 1190.7 L320.2 1186.6 L322.3 1183.4 L324.6 1180.7 L327.2 1180.0 L329.6 1178.5 L332.0 1211.0 L333.5 1201.2 L335.2 1193.2 L337.2 1187.4 L338.8 1185.4 L341.0 1183.9 L343.9 1180.1 L345.9 1179.4 L347.7 1175.4 L349.3 1173.5 L350.6 1179.4 L351.9 1189.1 L354.0 1193.8 L357.3 1196.3 L360.0 1193.1 L362.4 1190.2 L364.6 1188.5 L366.4 1186.1 L367.7 1180.7 L368.9 1178.5 L370.7 1186.1 L372.3 1189.8 L374.4 1192.5 L377.4 1193.2 L380.7 1194.5 L383.0 1196.1 L383.6 1180.7 L384.4 1166.0 L385.4 1161.5 L386.7 1170.0 L388.3 1179.4 L390.3 1179.1 L393.4 1184.7 L395.4 1190.1 L397.4 1195.8 L400.3 1202.3 L402.8 1194.5 L404.8 1188.6 L406.8 1182.0 L408.4 1178.3 L410.4 1176.5 L412.8 1180.7 L416.1 1184.7 L417.5 1190.5 L419.7 1200.3 L421.7 1193.2 L423.9 1190.7 L427.1 1186.6 L429.2 1183.4 L431.5 1180.7 L434.2 1180.0 L436.6 1178.5 L439.0 1211.0 L440.4 1201.2 L442.2 1193.2 L444.2 1187.4 L445.8 1185.4 L447.9 1183.9 L450.9 1180.1 L452.9 1179.4 L454.6 1175.4 L456.2 1173.5 L457.5 1179.4 L458.9 1189.1 L460.9 1193.8 L464.2 1196.3 L466.9 1193.1 L469.3 1190.2 L471.6 1188.5 L473.3 1186.1 L474.7 1180.7 L475.9 1178.5 L477.6 1186.1 L479.2 1189.8 L481.3 1192.5 L484.3 1193.2 L487.6 1194.5 L489.9 1196.1 L490.6 1180.7 L491.4 1166.0 L492.3 1161.5 L493.6 1170.0 L495.2 1179.4 L497.3 1179.1 L500.3 1184.7 L502.3 1190.1 L504.3 1195.8 L507.3 1202.3 L509.7 1194.5 L511.7 1188.6 L513.7 1182.0 L515.3 1178.3 L517.3 1176.5 L519.7 1180.7 L523.1 1184.7 L524.4 1190.5 L526.7 1200.3 L528.7 1193.2 L530.8 1190.7 L534.0 1186.6 L536.2 1183.4 L538.4 1180.7 L541.1 1180.0 L543.5 1178.5 L545.9 1211.0 L547.4 1201.2 L549.1 1193.2 L551.1 1187.4 L552.7 1185.4 L554.8 1183.9 L557.8 1180.1 L559.8 1179.4 L561.5 1175.4 L563.1 1173.5 L564.5 1179.4 L565.8 1189.1 L567.8 1193.8 L571.2 1196.3 L573.8 1193.1 L576.2 1190.2 L578.5 1188.5 L580.3 1186.1 L581.6 1180.7 L582.8 1178.5 L584.5 1186.1 L586.1 1189.8 L588.3 1192.5 L591.2 1193.2 L594.6 1194.5 L596.8 1196.1 L597.5 1180.7 L598.3 1166.0 L599.2 1161.5 L600.6 1170.0 L602.2 1179.4 L604.2 1179.1 L607.3 1184.7 L609.3 1190.1 L611.3 1195.8 L614.2 1202.3 L616.6 1194.5 L618.6 1188.6 L620.6 1182.0 L622.2 1178.3 L624.2 1176.5 L626.6 1180.7 L630.0 1184.7 L631.3 1190.5 L633.6 1200.3 L635.6 1193.2 L637.7 1190.7 L641.0 1186.6 L643.1 1183.4 L645.4 1180.7 L648.0 1180.0 L650.4 1178.5 L652.6 1204.4 L654.2 1191.8 L655.5 1183.8 L658.2 1180.0 L661.5 1174.6 L664.2 1178.6 L665.9 1182.3 L668.2 1182.7 L670.2 1180.9 L671.8 1187.4 L672.9 1197.2 L675.6 1206.5 L678.9 1210.4 L682.3 1203.9 L685.6 1198.5 L687.3 1192.7 L688.7 1186.1 L690.5 1182.2 L693.0 1187.1 L695.6 1189.0 L699.0 1183.8 L702.3 1180.5 L703.7 1178.4 L704.3 1160.7 L706.1 1146.8 L707.7 1158.0 L709.7 1166.5 L713.0 1171.4 L715.0 1176.7 L716.4 1190.5 L718.1 1202.5 L720.4 1205.7 L723.7 1199.8 L727.7 1195.4 L730.7 1190.5 L733.7 1198.1 L737.1 1203.9 L739.8 1211.4 L741.8 1201.2 L743.8 1196.3 L746.4 1188.8 L749.1 1182.5 L750.5 1174.0 L753.8 1168.7 L757.1 1164.8 L759.5 1196.3 L761.1 1191.8 L762.5 1183.8 L765.1 1180.0 L768.5 1174.6 L771.1 1178.6 L772.9 1182.3 L775.2 1182.7 L777.2 1180.9 L778.8 1187.4 L779.8 1197.2 L782.5 1206.5 L785.8 1210.4 L789.2 1203.9 L792.5 1198.5 L794.3 1192.7 L795.6 1186.1 L797.5 1182.2 L799.9 1187.1 L802.6 1189.0 L805.9 1183.8 L809.2 1180.5 L810.6 1178.4 L811.3 1160.7 L813.0 1146.8 L814.6 1158.0 L816.6 1166.5 L819.9 1171.4 L822.0 1176.7 L823.3 1190.5 L825.0 1202.5 L827.3 1205.7 L830.6 1199.8 L834.7 1195.4 L837.6 1190.5 L840.7 1198.1 L844.0 1203.9 L846.7 1211.4 L848.7 1201.2 L850.7 1196.3 L853.4 1188.8 L856.0 1182.5 L857.4 1174.0 L860.7 1168.7 L864.1 1164.8 L866.5 1196.3 L868.0 1191.8 L869.4 1183.8 L872.1 1180.0 L875.4 1174.6 L878.1 1178.6 L879.8 1182.3 L882.1 1182.7 L884.1 1180.9 L885.7 1187.4 L886.8 1197.2 L889.4 1206.5 L892.8 1210.4 L896.1 1203.9 L899.5 1198.5 L901.2 1192.7 L902.5 1186.1 L904.4 1182.2 L906.8 1187.1 L909.5 1189.0 L912.8 1183.8 L916.2 1180.5 L917.5 1178.4 L918.2 1160.7 L919.9 1146.8 L921.5 1158.0 L923.5 1166.5 L926.9 1171.4 L928.9 1176.7 L930.2 1190.5 L932.0 1202.5 L934.2 1205.7 L937.6 1199.8 L941.6 1195.4 L944.5 1190.5 L947.6 1198.1 L950.9 1203.9 L953.6 1211.4 L955.6 1201.2 L957.6 1196.3 L960.3 1188.8 L963.0 1182.5 L964.3 1174.0 L967.7 1168.7 L971.0 1164.8 L973.4 1196.3 L975.0 1191.8 L976.3 1183.8 L979.0 1180.0 L982.3 1174.6 L985.0 1178.6 L986.7 1182.3 L989.0 1182.7 L991.0 1180.9 L992.6 1187.4 L993.7 1197.2 L996.4 1206.5 L999.7 1210.4 L1003.1 1203.9 L1006.4 1198.5 L1008.1 1192.7 L1009.5 1186.1 L1011.3 1182.2 L1013.8 1187.1 L1016.4 1189.0 L1019.8 1183.8 L1023.1 1180.5 L1024.5 1178.4 L1025.1 1160.7 L1026.9 1146.8 L1028.5 1158.0 L1030.5 1166.5 L1033.8 1171.4 L1035.8 1176.7 L1037.2 1190.5 L1038.9 1202.5 L1041.2 1205.7 L1044.5 1199.8 L1048.5 1195.4 L1051.5 1190.5 L1054.5 1198.1 L1057.9 1203.9 L1060.6 1211.4 L1062.6 1201.2 L1064.6 1196.3 L1067.2 1188.8 L1069.9 1182.5 L1071.3 1174.0 L1074.6 1168.7 L1077.9 1164.8 L1080.3 1196.3 L1081.9 1191.8 L1083.3 1183.8 L1085.9 1180.0 L1089.3 1174.6 L1091.9 1178.6 L1093.7 1182.3 L1096.0 1182.7 L1098.0 1180.9 L1099.6 1187.4 L1100.6 1197.2 L1103.3 1206.5 L1106.6 1210.4 L1110.0 1203.9 L1113.3 1198.5 L1115.1 1192.7 L1116.4 1186.1 L1118.3 1182.2 L1120.7 1187.1 L1123.4 1189.0 L1126.7 1183.8 L1130.0 1180.5 L1131.4 1178.4 L1132.1 1160.7 L1133.8 1146.8 L1135.4 1158.0 L1137.4 1166.5 L1140.7 1171.4 L1142.8 1176.7 L1144.1 1190.5 L1145.8 1202.5 L1148.1 1205.7 L1151.4 1199.8 L1155.5 1195.4 L1158.4 1190.5 L1161.5 1198.1 L1164.8 1203.9 L1167.5 1211.4 L1169.5 1201.2 L1171.5 1196.3 L1174.2 1188.8 L1176.8 1182.5 L1178.2 1174.0 L1181.5 1168.7 L1184.9 1164.8 L1187.3 1204.4 L1189.0 1201.2 L1190.7 1193.2 L1192.7 1187.4 L1194.3 1185.4 L1196.4 1183.9 L1199.4 1180.1 L1201.4 1179.4 L1203.1 1175.4 L1204.7 1173.5 L1206.1 1179.4 L1207.4 1189.1 L1209.4 1193.8 L1212.8 1196.3 L1215.4 1193.1 L1217.8 1190.2 L1220.1 1188.5 L1221.9 1186.1 L1223.2 1180.7 L1224.4 1178.5 L1226.1 1186.1 L1227.7 1189.8 L1229.9 1192.5 L1232.8 1193.2 L1236.2 1194.5 L1238.4 1196.1 L1239.1 1180.7 L1239.9 1166.0 L1240.8 1161.5 L1242.2 1170.0 L1243.8 1179.4 L1245.8 1179.1 L1248.9 1184.7 L1250.9 1190.1 L1252.9 1195.8 L1255.8 1202.3 L1258.2 1194.5 L1260.2 1188.6 L1262.2 1182.0 L1263.8 1178.3 L1265.8 1176.5 L1268.2 1180.7 L1271.6 1184.7 L1272.9 1190.5 L1275.2 1200.3 L1277.2 1193.2 L1279.3 1190.7 L1282.6 1186.6 L1284.7 1183.4 L1287.0 1180.7 L1289.6 1180.0 L1292.0 1178.5 L1294.4 1211.0 L1295.9 1201.2 L1297.6 1193.2 L1299.6 1187.4 L1301.2 1185.4 L1303.4 1183.9 L1306.3 1180.1 L1308.3 1179.4 L1310.1 1175.4 L1311.7 1173.5 L1313.0 1179.4 L1314.3 1189.1 L1316.4 1193.8 L1319.7 1196.3 L1322.4 1193.1 L1324.8 1190.2 L1327.0 1188.5 L1328.8 1186.1 L1330.1 1180.7 L1331.3 1178.5 L1333.1 1186.1 L1334.7 1189.8 L1336.8 1192.5 L1339.8 1193.2 L1343.1 1194.5 L1345.4 1196.1 L1346.0 1180.7 L1346.8 1166.0 L1347.8 1161.5 L1349.1 1170.0 L1350.7 1179.4 L1352.7 1179.1 L1355.8 1184.7 L1357.8 1190.1 L1359.8 1195.8 L1362.7 1202.3 L1365.2 1194.5 L1367.2 1188.6 L1369.2 1182.0 L1370.8 1178.3 L1372.8 1176.5 L1375.2 1180.7 L1378.5 1184.7 L1379.9 1190.5 L1382.1 1200.3 L1384.1 1193.2 L1386.3 1190.7 L1389.5 1186.6 L1391.6 1183.4 L1393.9 1180.7 L1396.6 1180.0 L1399.0 1178.5 L1401.4 1211.0 L1402.8 1201.2 L1404.6 1193.2 L1406.6 1187.4 L1408.2 1185.4 L1410.3 1183.9 L1413.3 1180.1 L1415.3 1179.4 L1417.0 1175.4 L1418.6 1173.5 L1419.9 1179.4 L1421.3 1189.1 L1423.3 1193.8 L1426.6 1196.3 L1429.3 1193.1 L1431.7 1190.2 L1434.0 1188.5 L1435.7 1186.1 L1437.1 1180.7 L1438.3 1178.5 L1440.0 1186.1 L1441.6 1189.8 L1443.7 1192.5 L1446.7 1193.2 L1450.0 1194.5 L1452.3 1196.1 L1453.0 1180.7 L1453.8 1166.0 L1454.7 1161.5 L1456.0 1170.0 L1457.6 1179.4 L1459.7 1179.1 L1462.7 1184.7 L1464.7 1190.1 L1466.7 1195.8 L1469.7 1202.3 L1472.1 1194.5 L1474.1 1188.6 L1476.1 1182.0 L1477.7 1178.3 L1479.7 1176.5 L1482.1 1180.7 L1485.5 1184.7 L1486.8 1190.5 L1489.1 1200.3 L1491.1 1193.2 L1493.2 1190.7 L1496.4 1186.6 L1498.6 1183.4 L1500.8 1180.7 L1503.5 1180.0 L1505.9 1178.5 L1508.3 1211.0 L1509.8 1201.2 L1511.5 1193.2 L1513.5 1187.4 L1515.1 1185.4 L1517.2 1183.9 L1520.2 1180.1 L1522.2 1179.4 L1523.9 1175.4 L1525.5 1173.5 L1526.9 1179.4 L1528.2 1189.1 L1530.2 1193.8 L1533.6 1196.3 L1536.2 1193.1 L1538.6 1190.2 L1540.9 1188.5 L1542.7 1186.1 L1544.0 1180.7 L1545.2 1178.5 L1546.9 1186.1 L1548.5 1189.8 L1550.7 1192.5 L1553.6 1193.2 L1557.0 1194.5 L1559.2 1196.1 L1559.9 1180.7 L1560.7 1166.0 L1561.6 1161.5 L1563.0 1170.0 L1564.6 1179.4 L1566.6 1179.1 L1569.7 1184.7 L1571.7 1190.1 L1573.7 1195.8 L1576.6 1202.3 L1579.0 1194.5 L1581.0 1188.6 L1583.0 1182.0 L1584.6 1178.3 L1586.6 1176.5 L1589.0 1180.7 L1592.4 1184.7 L1593.7 1190.5 L1596.0 1200.3 L1598.0 1193.2 L1600.1 1190.7 L1603.4 1186.6 L1605.5 1183.4 L1607.8 1180.7 L1610.4 1180.0 L1612.8 1178.5 L1615.2 1211.0 L1616.7 1201.2 L1618.4 1193.2 L1620.4 1187.4 L1622.0 1185.4 L1624.2 1183.9 L1627.1 1180.1 L1629.1 1179.4 L1630.9 1175.4 L1632.5 1173.5 L1633.8 1179.4 L1635.1 1189.1 L1637.2 1193.8 L1640.5 1196.3 L1643.2 1193.1 L1645.6 1190.2 L1647.8 1188.5 L1649.6 1186.1 L1650.9 1180.7 L1652.1 1178.5 L1653.9 1186.1 L1655.5 1189.8 L1657.6 1192.5 L1660.6 1193.2 L1663.9 1194.5 L1666.2 1196.1 L1666.8 1180.7 L1667.6 1166.0 L1668.6 1161.5 L1669.9 1170.0 L1671.5 1179.4 L1673.5 1179.1 L1676.6 1184.7 L1678.6 1190.1 L1680.6 1195.8 L1683.5 1202.3 L1686.0 1194.5 L1688.0 1188.6 L1690.0 1182.0 L1691.6 1178.3 L1693.6 1176.5 L1696.0 1180.7 L1699.3 1184.7 L1700.7 1190.5 L1702.9 1200.3 L1704.9 1193.2 L1707.1 1190.7 L1710.3 1186.6 L1712.4 1183.4 L1714.7 1180.7 L1717.4 1180.0 L1719.5 1178.8" fill="none" stroke="#ff0000" stroke-width="5.70" stroke-linejoin="round" stroke-linecap="butt"/>
<text transform="translate(115.00 1349.00) scale(0.9600 1)" font-size="40.30" text-anchor="middle">20</text>
<text transform="translate(382.33 1349.00) scale(0.9600 1)" font-size="40.30" text-anchor="middle">25</text>
<text transform="translate(649.67 1349.00) scale(0.9600 1)" font-size="40.30" text-anchor="middle">30</text>
<text transform="translate(917.00 1349.00) scale(0.9600 1)" font-size="40.30" text-anchor="middle">35</text>
<text transform="translate(1184.33 1349.00) scale(0.9600 1)" font-size="40.30" text-anchor="middle">40</text>
<text transform="translate(1451.67 1349.00) scale(0.9600 1)" font-size="40.30" text-anchor="middle">45</text>
<text transform="translate(1719.00 1349.00) scale(0.9600 1)" font-size="40.30" text-anchor="middle">50</text>
<text transform="translate(101.40 1129.88) scale(0.9600 1)" font-size="40.60" text-anchor="end">1</text>
<text transform="translate(102.90 1202.85) scale(0.9600 1)" font-size="40.60" text-anchor="end">0</text>
<text transform="translate(101.40 1275.82) scale(0.9600 1)" font-size="40.60" text-anchor="end">-1</text>
<text transform="translate(131.50 1074.30) scale(1.0000 1)" font-size="48.70" text-anchor="middle">×</text>
<text transform="translate(189.00 1068.30) scale(0.9600 1)" font-size="40.30" text-anchor="end">10</text>
<text transform="translate(191.30 1051.60) scale(0.9550 1)" font-size="31.50" text-anchor="start">-4</text>
<text transform="translate(49.00 1188.75) rotate(-90) scale(0.9450 1)" font-size="45.50" text-anchor="middle">C4 Error (m)</text>
</g>
<text transform="translate(917.30 41.00) scale(0.9600 1)" font-size="45.50" text-anchor="middle" style="fill:#000">Position Tracking Error</text>
<text transform="translate(916.00 1405.10) scale(0.9600 1)" font-size="45.50" text-anchor="middle">Time (s)</text>
</svg></body></html>
